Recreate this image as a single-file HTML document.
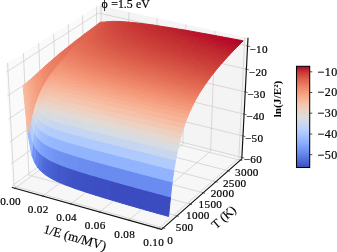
<!DOCTYPE html>
<html><head><meta charset="utf-8"><title>plot</title><style>html,body{margin:0;padding:0;background:#fff}svg{display:block}</style></head><body>
<svg width="337" height="252" viewBox="0 0 337 252" font-family="'Liberation Serif', serif" fill="#000">
<rect width="337" height="252" fill="#fff"/>
<path d="M12.2 187.5L99.7 122.8L98.2 5.3L5.6 64.2Z" fill="#fafafa"/>
<path d="M99.7 122.8L241.8 158.9L248 38.1L98.2 5.3Z" fill="#f4f4f4"/>
<path d="M12.2 187.5L161.6 229.4L241.8 158.9L99.7 122.8Z" fill="#f7f7f7"/>
<path d="M15.1 188.3L102.4 123.5L101 5.9M42.8 196.1L128.8 130.2L128.8 12M71 204L155.7 137L157.1 18.2M99.6 212L182.9 144L185.9 24.5M128.8 220.2L210.6 151L215.1 30.9M158.5 228.6L238.8 158.2L244.8 37.4M163.3 227.9L14.1 186.1L7.6 62.9M177 215.9L28.9 175.1L23.4 52.9M190.3 204.2L43.4 164.4L38.7 43.1M203.2 192.8L57.6 154L53.7 33.6M215.9 181.7L71.4 143.8L68.3 24.3M228.2 170.8L84.9 133.8L82.5 15.2M240.3 160.2L98.1 124L96.4 6.4M12.2 185.9L99.7 121.3L241.8 157.4M11 164.1L99.4 100.5L242.9 136M9.8 141.9L99.1 79.2L244.1 114.2M8.6 119.2L98.8 57.6L245.2 91.9M7.3 96L98.6 35.5L246.4 69.2M6 72.3L98.3 13L247.6 46.1" fill="none" stroke="#cccccc" stroke-width="0.7"/>
<g fill="currentColor" stroke="currentColor" stroke-width="1" stroke-linejoin="round"><path color="#da5a49" d="M99.4 23.1L102.1 23.3L103.6 22.2L100.9 22Z"/><path color="#d85646" d="M102.1 23.3L104.8 23L106.3 21.8L103.6 22.2Z"/><path color="#da5a49" d="M97.9 24.2L100.7 24.5L102.1 23.3L99.4 23.1Z"/><path color="#d85646" d="M100.7 24.5L103.4 24.2L104.8 23L102.1 23.3Z"/><path color="#d65244" d="M104.8 23L107.6 22.8L109 21.6L106.3 21.8Z"/><path color="#da5a49" d="M96.5 25.3L99.2 25.7L100.7 24.5L97.9 24.2Z"/><path color="#d44e41" d="M107.6 22.8L110.3 22.7L111.8 21.4L109 21.6Z"/><path color="#d95847" d="M99.2 25.7L101.9 25.4L103.4 24.2L100.7 24.5Z"/><path color="#d65244" d="M103.4 24.2L106.1 24L107.6 22.8L104.8 23Z"/><path color="#dc5d4a" d="M95 26.4L97.7 26.9L99.2 25.7L96.5 25.3Z"/><path color="#d1493f" d="M110.3 22.7L113 22.6L114.5 21.4L111.8 21.4Z"/><path color="#d44e41" d="M106.1 24L108.8 23.9L110.3 22.7L107.6 22.8Z"/><path color="#d95847" d="M97.7 26.9L100.4 26.6L101.9 25.4L99.2 25.7Z"/><path color="#d75445" d="M101.9 25.4L104.6 25.2L106.1 24L103.4 24.2Z"/><path color="#dc5d4a" d="M93.5 27.4L96.2 28.1L97.7 26.9L95 26.4Z"/><path color="#d0473d" d="M113 22.6L115.8 22.7L117.2 21.5L114.5 21.4Z"/><path color="#d24b40" d="M108.8 23.9L111.6 23.9L113 22.6L110.3 22.7Z"/><path color="#d55042" d="M104.6 25.2L107.4 25.1L108.8 23.9L106.1 24Z"/><path color="#d75445" d="M100.4 26.6L103.2 26.5L104.6 25.2L101.9 25.4Z"/><path color="#da5a49" d="M96.2 28.1L98.9 27.9L100.4 26.6L97.7 26.9Z"/><path color="#dc5d4a" d="M92 28.6L94.7 29.3L96.2 28.1L93.5 27.4Z"/><path color="#cd423b" d="M115.8 22.7L118.5 22.8L120 21.5L117.2 21.5Z"/><path color="#d0473d" d="M111.6 23.9L114.3 23.9L115.8 22.7L113 22.6Z"/><path color="#d24b40" d="M107.4 25.1L110.1 25.1L111.6 23.9L108.8 23.9Z"/><path color="#d65244" d="M103.2 26.5L105.9 26.4L107.4 25.1L104.6 25.2Z"/><path color="#d85646" d="M98.9 27.9L101.7 27.7L103.2 26.5L100.4 26.6Z"/><path color="#dc5d4a" d="M94.7 29.3L97.5 29.1L98.9 27.9L96.2 28.1Z"/><path color="#dd5f4b" d="M90.5 29.7L93.3 30.5L94.7 29.3L92 28.6Z"/><path color="#cc403a" d="M118.5 22.8L121.3 22.9L122.7 21.7L120 21.5Z"/><path color="#cf453c" d="M114.3 23.9L117.1 24L118.5 22.8L115.8 22.7Z"/><path color="#d1493f" d="M110.1 25.1L112.9 25.2L114.3 23.9L111.6 23.9Z"/><path color="#d44e41" d="M105.9 26.4L108.6 26.4L110.1 25.1L107.4 25.1Z"/><path color="#d65244" d="M101.7 27.7L104.4 27.6L105.9 26.4L103.2 26.5Z"/><path color="#d95847" d="M97.5 29.1L100.2 29L101.7 27.7L98.9 27.9Z"/><path color="#dc5d4a" d="M93.3 30.5L96 30.4L97.5 29.1L94.7 29.3Z"/><path color="#dd5f4b" d="M89 30.8L91.8 31.8L93.3 30.5L90.5 29.7Z"/><path color="#cb3e38" d="M121.3 22.9L124.1 23.1L125.5 21.9L122.7 21.7Z"/><path color="#cd423b" d="M117.1 24L119.8 24.2L121.3 22.9L118.5 22.8Z"/><path color="#d0473d" d="M112.9 25.2L115.6 25.3L117.1 24L114.3 23.9Z"/><path color="#d24b40" d="M108.6 26.4L111.4 26.4L112.9 25.2L110.1 25.1Z"/><path color="#d55042" d="M104.4 27.6L107.2 27.7L108.6 26.4L105.9 26.4Z"/><path color="#d75445" d="M100.2 29L102.9 28.9L104.4 27.6L101.7 27.7Z"/><path color="#d95847" d="M96 30.4L98.7 30.3L100.2 29L97.5 29.1Z"/><path color="#dd5f4b" d="M91.8 31.8L94.5 31.7L96 30.4L93.3 30.5Z"/><path color="#de614d" d="M87.5 31.9L90.3 33L91.8 31.8L89 30.8Z"/><path color="#ca3b37" d="M124.1 23.1L126.8 23.4L128.3 22.1L125.5 21.9Z"/><path color="#cc403a" d="M119.8 24.2L122.6 24.4L124.1 23.1L121.3 22.9Z"/><path color="#cf453c" d="M115.6 25.3L118.4 25.5L119.8 24.2L117.1 24Z"/><path color="#d0473d" d="M111.4 26.4L114.1 26.6L115.6 25.3L112.9 25.2Z"/><path color="#d24b40" d="M107.2 27.7L109.9 27.7L111.4 26.4L108.6 26.4Z"/><path color="#d55042" d="M102.9 28.9L105.7 29L107.2 27.7L104.4 27.6Z"/><path color="#d85646" d="M98.7 30.3L101.5 30.2L102.9 28.9L100.2 29Z"/><path color="#da5a49" d="M94.5 31.7L97.2 31.6L98.7 30.3L96 30.4Z"/><path color="#dd5f4b" d="M90.3 33L93 33L94.5 31.7L91.8 31.8Z"/><path color="#c83836" d="M126.8 23.4L129.6 23.6L131 22.4L128.3 22.1Z"/><path color="#de614d" d="M86 33L88.8 34.3L90.3 33L87.5 31.9Z"/><path color="#cb3e38" d="M122.6 24.4L125.4 24.6L126.8 23.4L124.1 23.1Z"/><path color="#cd423b" d="M118.4 25.5L121.1 25.7L122.6 24.4L119.8 24.2Z"/><path color="#cf453c" d="M114.1 26.6L116.9 26.8L118.4 25.5L115.6 25.3Z"/><path color="#d1493f" d="M109.9 27.7L112.7 27.9L114.1 26.6L111.4 26.4Z"/><path color="#d44e41" d="M105.7 29L108.4 29L109.9 27.7L107.2 27.7Z"/><path color="#d65244" d="M101.5 30.2L104.2 30.3L105.7 29L102.9 28.9Z"/><path color="#d85646" d="M97.2 31.6L100 31.5L101.5 30.2L98.7 30.3Z"/><path color="#dc5d4a" d="M93 33L95.7 32.9L97.2 31.6L94.5 31.7Z"/><path color="#c83836" d="M129.6 23.6L132.4 23.9L133.8 22.6L131 22.4Z"/><path color="#de614d" d="M88.8 34.3L91.5 34.3L93 33L90.3 33Z"/><path color="#ca3b37" d="M125.4 24.6L128.1 24.9L129.6 23.6L126.8 23.4Z"/><path color="#cc403a" d="M121.1 25.7L123.9 25.9L125.4 24.6L122.6 24.4Z"/><path color="#de614d" d="M84.5 34.1L87.3 35.6L88.8 34.3L86 33Z"/><path color="#cd423b" d="M116.9 26.8L119.7 27L121.1 25.7L118.4 25.5Z"/><path color="#d0473d" d="M112.7 27.9L115.4 28L116.9 26.8L114.1 26.6Z"/><path color="#d24b40" d="M108.4 29L111.2 29.2L112.7 27.9L109.9 27.7Z"/><path color="#c73635" d="M132.4 23.9L135.2 24.2L136.6 23L133.8 22.6Z"/><path color="#d55042" d="M104.2 30.3L107 30.3L108.4 29L105.7 29Z"/><path color="#d75445" d="M100 31.5L102.7 31.6L104.2 30.3L101.5 30.2Z"/><path color="#d95847" d="M95.7 32.9L98.5 32.9L100 31.5L97.2 31.6Z"/><path color="#dd5f4b" d="M91.5 34.3L94.2 34.2L95.7 32.9L93 33Z"/><path color="#c83836" d="M128.1 24.9L130.9 25.2L132.4 23.9L129.6 23.6Z"/><path color="#df634e" d="M87.3 35.6L90 35.6L91.5 34.3L88.8 34.3Z"/><path color="#cb3e38" d="M123.9 25.9L126.7 26.2L128.1 24.9L125.4 24.6Z"/><path color="#cc403a" d="M119.7 27L122.5 27.2L123.9 25.9L121.1 25.7Z"/><path color="#df634e" d="M83 35.3L85.8 36.8L87.3 35.6L84.5 34.1Z"/><path color="#cf453c" d="M115.4 28L118.2 28.2L119.7 27L116.9 26.8Z"/><path color="#d1493f" d="M111.2 29.2L114 29.3L115.4 28L112.7 27.9Z"/><path color="#c53334" d="M135.2 24.2L138 24.5L139.4 23.3L136.6 23Z"/><path color="#d44e41" d="M107 30.3L109.7 30.5L111.2 29.2L108.4 29Z"/><path color="#d65244" d="M102.7 31.6L105.5 31.7L107 30.3L104.2 30.3Z"/><path color="#c73635" d="M130.9 25.2L133.7 25.5L135.2 24.2L132.4 23.9Z"/><path color="#d85646" d="M98.5 32.9L101.2 32.9L102.7 31.6L100 31.5Z"/><path color="#da5a49" d="M94.2 34.2L97 34.2L98.5 32.9L95.7 32.9Z"/><path color="#dd5f4b" d="M90 35.6L92.8 35.5L94.2 34.2L91.5 34.3Z"/><path color="#ca3b37" d="M126.7 26.2L129.5 26.5L130.9 25.2L128.1 24.9Z"/><path color="#e0654f" d="M85.8 36.8L88.5 36.9L90 35.6L87.3 35.6Z"/><path color="#cb3e38" d="M122.5 27.2L125.2 27.5L126.7 26.2L123.9 25.9Z"/><path color="#cd423b" d="M118.2 28.2L121 28.5L122.5 27.2L119.7 27Z"/><path color="#df634e" d="M81.5 36.4L84.3 38.2L85.8 36.8L83 35.3Z"/><path color="#c43032" d="M138 24.5L140.7 24.9L142.2 23.6L139.4 23.3Z"/><path color="#d0473d" d="M114 29.3L116.7 29.6L118.2 28.2L115.4 28Z"/><path color="#d24b40" d="M109.7 30.5L112.5 30.7L114 29.3L111.2 29.2Z"/><path color="#c73635" d="M133.7 25.5L136.5 25.8L138 24.5L135.2 24.2Z"/><path color="#d44e41" d="M105.5 31.7L108.2 31.8L109.7 30.5L107 30.3Z"/><path color="#d65244" d="M101.2 32.9L104 33L105.5 31.7L102.7 31.6Z"/><path color="#c83836" d="M129.5 26.5L132.3 26.8L133.7 25.5L130.9 25.2Z"/><path color="#d95847" d="M97 34.2L99.7 34.2L101.2 32.9L98.5 32.9Z"/><path color="#dc5d4a" d="M92.8 35.5L95.5 35.5L97 34.2L94.2 34.2Z"/><path color="#de614d" d="M88.5 36.9L91.3 36.9L92.8 35.5L90 35.6Z"/><path color="#cb3e38" d="M125.2 27.5L128 27.8L129.5 26.5L126.7 26.2Z"/><path color="#e0654f" d="M84.3 38.2L87 38.2L88.5 36.9L85.8 36.8Z"/><path color="#cc403a" d="M121 28.5L123.8 28.8L125.2 27.5L122.5 27.2Z"/><path color="#c43032" d="M140.7 24.9L143.6 25.2L145 24L142.2 23.6Z"/><path color="#cf453c" d="M116.7 29.6L119.5 29.8L121 28.5L118.2 28.2Z"/><path color="#e0654f" d="M80 37.6L82.8 39.5L84.3 38.2L81.5 36.4Z"/><path color="#c53334" d="M136.5 25.8L139.3 26.2L140.7 24.9L138 24.5Z"/><path color="#d1493f" d="M112.5 30.7L115.3 30.9L116.7 29.6L114 29.3Z"/><path color="#d24b40" d="M108.2 31.8L111 32L112.5 30.7L109.7 30.5Z"/><path color="#c73635" d="M132.3 26.8L135.1 27.1L136.5 25.8L133.7 25.5Z"/><path color="#d55042" d="M104 33L106.8 33.2L108.2 31.8L105.5 31.7Z"/><path color="#d75445" d="M99.7 34.2L102.5 34.4L104 33L101.2 32.9Z"/><path color="#ca3b37" d="M128 27.8L130.8 28.1L132.3 26.8L129.5 26.5Z"/><path color="#d95847" d="M95.5 35.5L98.3 35.6L99.7 34.2L97 34.2Z"/><path color="#dd5f4b" d="M91.3 36.9L94 36.9L95.5 35.5L92.8 35.5Z"/><path color="#df634e" d="M87 38.2L89.7 38.3L91.3 36.9L88.5 36.9Z"/><path color="#cb3e38" d="M123.8 28.8L126.6 29.1L128 27.8L125.2 27.5Z"/><path color="#e16751" d="M82.8 39.5L85.5 39.6L87 38.2L84.3 38.2Z"/><path color="#c32e31" d="M143.6 25.2L146.4 25.6L147.8 24.3L145 24Z"/><path color="#cd423b" d="M119.5 29.8L122.3 30.1L123.8 28.8L121 28.5Z"/><path color="#c43032" d="M139.3 26.2L142.1 26.5L143.6 25.2L140.7 24.9Z"/><path color="#d0473d" d="M115.3 30.9L118 31.1L119.5 29.8L116.7 29.6Z"/><path color="#d1493f" d="M111 32L113.8 32.2L115.3 30.9L112.5 30.7Z"/><path color="#e0654f" d="M78.5 38.8L81.2 40.8L82.8 39.5L80 37.6Z"/><path color="#c73635" d="M135.1 27.1L137.9 27.5L139.3 26.2L136.5 25.8Z"/><path color="#d44e41" d="M106.8 33.2L109.5 33.4L111 32L108.2 31.8Z"/><path color="#c83836" d="M130.8 28.1L133.6 28.4L135.1 27.1L132.3 26.8Z"/><path color="#d65244" d="M102.5 34.4L105.3 34.5L106.8 33.2L104 33Z"/><path color="#d85646" d="M98.3 35.6L101 35.7L102.5 34.4L99.7 34.2Z"/><path color="#cb3e38" d="M126.6 29.1L129.3 29.4L130.8 28.1L128 27.8Z"/><path color="#da5a49" d="M94 36.9L96.8 37L98.3 35.6L95.5 35.5Z"/><path color="#c32e31" d="M146.4 25.6L149.2 26L150.6 24.7L147.8 24.3Z"/><path color="#de614d" d="M89.7 38.3L92.5 38.3L94 36.9L91.3 36.9Z"/><path color="#e0654f" d="M85.5 39.6L88.2 39.7L89.7 38.3L87 38.2Z"/><path color="#cc403a" d="M122.3 30.1L125.1 30.4L126.6 29.1L123.8 28.8Z"/><path color="#e26952" d="M81.2 40.8L84 41L85.5 39.6L82.8 39.5Z"/><path color="#c43032" d="M142.1 26.5L144.9 26.9L146.4 25.6L143.6 25.2Z"/><path color="#cf453c" d="M118 31.1L120.8 31.4L122.3 30.1L119.5 29.8Z"/><path color="#c53334" d="M137.9 27.5L140.7 27.8L142.1 26.5L139.3 26.2Z"/><path color="#d0473d" d="M113.8 32.2L116.6 32.5L118 31.1L115.3 30.9Z"/><path color="#d24b40" d="M109.5 33.4L112.3 33.6L113.8 32.2L111 32Z"/><path color="#c83836" d="M133.6 28.4L136.4 28.8L137.9 27.5L135.1 27.1Z"/><path color="#e16751" d="M76.9 39.9L79.7 42.2L81.2 40.8L78.5 38.8Z"/><path color="#d55042" d="M105.3 34.5L108.1 34.7L109.5 33.4L106.8 33.2Z"/><path color="#c12b30" d="M149.2 26L152 26.4L153.4 25.1L150.6 24.7Z"/><path color="#ca3b37" d="M129.3 29.4L132.1 29.7L133.6 28.4L130.8 28.1Z"/><path color="#d75445" d="M101 35.7L103.8 35.9L105.3 34.5L102.5 34.4Z"/><path color="#d95847" d="M96.8 37L99.5 37.1L101 35.7L98.3 35.6Z"/><path color="#dc5d4a" d="M92.5 38.3L95.3 38.4L96.8 37L94 36.9Z"/><path color="#cb3e38" d="M125.1 30.4L127.9 30.7L129.3 29.4L126.6 29.1Z"/><path color="#de614d" d="M88.2 39.7L91 39.7L92.5 38.3L89.7 38.3Z"/><path color="#c32e31" d="M144.9 26.9L147.7 27.3L149.2 26L146.4 25.6Z"/><path color="#e16751" d="M84 41L86.7 41.1L88.2 39.7L85.5 39.6Z"/><path color="#e36b54" d="M79.7 42.2L82.5 42.4L84 41L81.2 40.8Z"/><path color="#cd423b" d="M120.8 31.4L123.6 31.7L125.1 30.4L122.3 30.1Z"/><path color="#c53334" d="M140.7 27.8L143.5 28.2L144.9 26.9L142.1 26.5Z"/><path color="#d0473d" d="M116.6 32.5L119.4 32.8L120.8 31.4L118 31.1Z"/><path color="#c73635" d="M136.4 28.8L139.2 29.1L140.7 27.8L137.9 27.5Z"/><path color="#d1493f" d="M112.3 33.6L115.1 33.9L116.6 32.5L113.8 32.2Z"/><path color="#d44e41" d="M108.1 34.7L110.8 35L112.3 33.6L109.5 33.4Z"/><path color="#c12b30" d="M152 26.4L154.8 26.8L156.2 25.5L153.4 25.1Z"/><path color="#c83836" d="M132.1 29.7L134.9 30.1L136.4 28.8L133.6 28.4Z"/><path color="#e16751" d="M75.4 41.1L78.2 43.5L79.7 42.2L76.9 39.9Z"/><path color="#d65244" d="M103.8 35.9L106.6 36.1L108.1 34.7L105.3 34.5Z"/><path color="#d85646" d="M99.5 37.1L102.3 37.3L103.8 35.9L101 35.7Z"/><path color="#cb3e38" d="M127.9 30.7L130.7 31.1L132.1 29.7L129.3 29.4Z"/><path color="#c32e31" d="M147.7 27.3L150.5 27.7L152 26.4L149.2 26Z"/><path color="#da5a49" d="M95.3 38.4L98 38.6L99.5 37.1L96.8 37Z"/><path color="#dd5f4b" d="M91 39.7L93.8 39.8L95.3 38.4L92.5 38.3Z"/><path color="#cc403a" d="M123.6 31.7L126.4 32.1L127.9 30.7L125.1 30.4Z"/><path color="#df634e" d="M86.7 41.1L89.5 41.1L91 39.7L88.2 39.7Z"/><path color="#c43032" d="M143.5 28.2L146.3 28.6L147.7 27.3L144.9 26.9Z"/><path color="#e26952" d="M82.5 42.4L85.2 42.5L86.7 41.1L84 41Z"/><path color="#e36c55" d="M78.2 43.5L81 43.8L82.5 42.4L79.7 42.2Z"/><path color="#cf453c" d="M119.4 32.8L122.2 33.1L123.6 31.7L120.8 31.4Z"/><path color="#c53334" d="M139.2 29.1L142 29.5L143.5 28.2L140.7 27.8Z"/><path color="#d0473d" d="M115.1 33.9L117.9 34.2L119.4 32.8L116.6 32.5Z"/><path color="#c0282f" d="M154.8 26.8L157.6 27.2L159.1 26L156.2 25.5Z"/><path color="#c83836" d="M134.9 30.1L137.8 30.5L139.2 29.1L136.4 28.8Z"/><path color="#d24b40" d="M110.8 35L113.6 35.2L115.1 33.9L112.3 33.6Z"/><path color="#d55042" d="M106.6 36.1L109.3 36.4L110.8 35L108.1 34.7Z"/><path color="#c12b30" d="M150.5 27.7L153.4 28.1L154.8 26.8L152 26.4Z"/><path color="#ca3b37" d="M130.7 31.1L133.5 31.4L134.9 30.1L132.1 29.7Z"/><path color="#d75445" d="M102.3 37.3L105.1 37.5L106.6 36.1L103.8 35.9Z"/><path color="#e26952" d="M73.9 42.3L76.7 44.9L78.2 43.5L75.4 41.1Z"/><path color="#d95847" d="M98 38.6L100.8 38.7L102.3 37.3L99.5 37.1Z"/><path color="#cc403a" d="M126.4 32.1L129.2 32.4L130.7 31.1L127.9 30.7Z"/><path color="#c32e31" d="M146.3 28.6L149.1 29L150.5 27.7L147.7 27.3Z"/><path color="#dc5d4a" d="M93.8 39.8L96.5 40L98 38.6L95.3 38.4Z"/><path color="#de614d" d="M89.5 41.1L92.3 41.3L93.8 39.8L91 39.7Z"/><path color="#e0654f" d="M85.2 42.5L88 42.6L89.5 41.1L86.7 41.1Z"/><path color="#cd423b" d="M122.2 33.1L125 33.4L126.4 32.1L123.6 31.7Z"/><path color="#e36b54" d="M81 43.8L83.7 44L85.2 42.5L82.5 42.4Z"/><path color="#c53334" d="M142 29.5L144.8 29.9L146.3 28.6L143.5 28.2Z"/><path color="#e46e56" d="M76.7 44.9L79.4 45.3L81 43.8L78.2 43.5Z"/><path color="#d0473d" d="M117.9 34.2L120.7 34.5L122.2 33.1L119.4 32.8Z"/><path color="#c0282f" d="M157.6 27.2L160.5 27.7L161.9 26.4L159.1 26Z"/><path color="#c73635" d="M137.8 30.5L140.6 30.9L142 29.5L139.2 29.1Z"/><path color="#d1493f" d="M113.6 35.2L116.4 35.5L117.9 34.2L115.1 33.9Z"/><path color="#c12b30" d="M153.4 28.1L156.2 28.6L157.6 27.2L154.8 26.8Z"/><path color="#d44e41" d="M109.3 36.4L112.1 36.6L113.6 35.2L110.8 35Z"/><path color="#c83836" d="M133.5 31.4L136.3 31.8L137.8 30.5L134.9 30.1Z"/><path color="#d65244" d="M105.1 37.5L107.9 37.8L109.3 36.4L106.6 36.1Z"/><path color="#cb3e38" d="M129.2 32.4L132 32.8L133.5 31.4L130.7 31.1Z"/><path color="#c32e31" d="M149.1 29L151.9 29.4L153.4 28.1L150.5 27.7Z"/><path color="#d85646" d="M100.8 38.7L103.6 38.9L105.1 37.5L102.3 37.3Z"/><path color="#e26952" d="M72.3 43.5L75.2 46.3L76.7 44.9L73.9 42.3Z"/><path color="#da5a49" d="M96.5 40L99.3 40.2L100.8 38.7L98 38.6Z"/><path color="#cc403a" d="M125 33.4L127.8 33.8L129.2 32.4L126.4 32.1Z"/><path color="#dd5f4b" d="M92.3 41.3L95 41.4L96.5 40L93.8 39.8Z"/><path color="#c43032" d="M144.8 29.9L147.7 30.3L149.1 29L146.3 28.6Z"/><path color="#df634e" d="M88 42.6L90.7 42.7L92.3 41.3L89.5 41.1Z"/><path color="#e16751" d="M83.7 44L86.5 44.1L88 42.6L85.2 42.5Z"/><path color="#cf453c" d="M120.7 34.5L123.5 34.8L125 33.4L122.2 33.1Z"/><path color="#be242e" d="M160.5 27.7L163.3 28.1L164.7 26.9L161.9 26.4Z"/><path color="#e36c55" d="M79.4 45.3L82.2 45.4L83.7 44L81 43.8Z"/><path color="#c73635" d="M140.6 30.9L143.4 31.3L144.8 29.9L142 29.5Z"/><path color="#e57058" d="M75.2 46.3L77.9 46.8L79.4 45.3L76.7 44.9Z"/><path color="#d1493f" d="M116.4 35.5L119.2 35.9L120.7 34.5L117.9 34.2Z"/><path color="#c0282f" d="M156.2 28.6L159 29L160.5 27.7L157.6 27.2Z"/><path color="#c83836" d="M136.3 31.8L139.1 32.2L140.6 30.9L137.8 30.5Z"/><path color="#d24b40" d="M112.1 36.6L114.9 36.9L116.4 35.5L113.6 35.2Z"/><path color="#d55042" d="M107.9 37.8L110.6 38.1L112.1 36.6L109.3 36.4Z"/><path color="#c32e31" d="M151.9 29.4L154.8 29.9L156.2 28.6L153.4 28.1Z"/><path color="#ca3b37" d="M132 32.8L134.8 33.2L136.3 31.8L133.5 31.4Z"/><path color="#d75445" d="M103.6 38.9L106.4 39.2L107.9 37.8L105.1 37.5Z"/><path color="#cc403a" d="M127.8 33.8L130.6 34.1L132 32.8L129.2 32.4Z"/><path color="#d95847" d="M99.3 40.2L102.1 40.4L103.6 38.9L100.8 38.7Z"/><path color="#c43032" d="M147.7 30.3L150.5 30.7L151.9 29.4L149.1 29Z"/><path color="#dc5d4a" d="M95 41.4L97.8 41.6L99.3 40.2L96.5 40Z"/><path color="#e36b54" d="M70.8 44.7L73.6 47.8L75.2 46.3L72.3 43.5Z"/><path color="#be242e" d="M163.3 28.1L166.1 28.6L167.6 27.3L164.7 26.9Z"/><path color="#de614d" d="M90.7 42.7L93.5 42.9L95 41.4L92.3 41.3Z"/><path color="#cd423b" d="M123.5 34.8L126.3 35.1L127.8 33.8L125 33.4Z"/><path color="#e0654f" d="M86.5 44.1L89.2 44.2L90.7 42.7L88 42.6Z"/><path color="#c53334" d="M143.4 31.3L146.2 31.7L147.7 30.3L144.8 29.9Z"/><path color="#e36b54" d="M82.2 45.4L85 45.6L86.5 44.1L83.7 44Z"/><path color="#e46e56" d="M77.9 46.8L80.7 46.9L82.2 45.4L79.4 45.3Z"/><path color="#d0473d" d="M119.2 35.9L122 36.2L123.5 34.8L120.7 34.5Z"/><path color="#c0282f" d="M159 29L161.9 29.4L163.3 28.1L160.5 27.7Z"/><path color="#e67259" d="M73.6 47.8L76.4 48.2L77.9 46.8L75.2 46.3Z"/><path color="#c73635" d="M139.1 32.2L141.9 32.6L143.4 31.3L140.6 30.9Z"/><path color="#d24b40" d="M114.9 36.9L117.7 37.3L119.2 35.9L116.4 35.5Z"/><path color="#c12b30" d="M154.8 29.9L157.6 30.3L159 29L156.2 28.6Z"/><path color="#d44e41" d="M110.6 38.1L113.4 38.4L114.9 36.9L112.1 36.6Z"/><path color="#ca3b37" d="M134.8 33.2L137.7 33.5L139.1 32.2L136.3 31.8Z"/><path color="#d65244" d="M106.4 39.2L109.2 39.5L110.6 38.1L107.9 37.8Z"/><path color="#cb3e38" d="M130.6 34.1L133.4 34.5L134.8 33.2L132 32.8Z"/><path color="#c32e31" d="M150.5 30.7L153.3 31.2L154.8 29.9L151.9 29.4Z"/><path color="#d85646" d="M102.1 40.4L104.9 40.7L106.4 39.2L103.6 38.9Z"/><path color="#bd1f2d" d="M166.1 28.6L169 29L170.4 27.8L167.6 27.3Z"/><path color="#da5a49" d="M97.8 41.6L100.6 41.9L102.1 40.4L99.3 40.2Z"/><path color="#cd423b" d="M126.3 35.1L129.1 35.5L130.6 34.1L127.8 33.8Z"/><path color="#c53334" d="M146.2 31.7L149 32.1L150.5 30.7L147.7 30.3Z"/><path color="#dd5f4b" d="M93.5 42.9L96.3 43.1L97.8 41.6L95 41.4Z"/><path color="#df634e" d="M89.2 44.2L92 44.4L93.5 42.9L90.7 42.7Z"/><path color="#e36c55" d="M69.3 45.9L72.1 49.2L73.6 47.8L70.8 44.7Z"/><path color="#be242e" d="M161.9 29.4L164.7 29.9L166.1 28.6L163.3 28.1Z"/><path color="#cf453c" d="M122 36.2L124.8 36.5L126.3 35.1L123.5 34.8Z"/><path color="#e16751" d="M85 45.6L87.7 45.7L89.2 44.2L86.5 44.1Z"/><path color="#e36c55" d="M80.7 46.9L83.4 47.1L85 45.6L82.2 45.4Z"/><path color="#c73635" d="M141.9 32.6L144.8 33L146.2 31.7L143.4 31.3Z"/><path color="#e57058" d="M76.4 48.2L79.1 48.5L80.7 46.9L77.9 46.8Z"/><path color="#d1493f" d="M117.7 37.3L120.5 37.6L122 36.2L119.2 35.9Z"/><path color="#c12b30" d="M157.6 30.3L160.4 30.7L161.9 29.4L159 29Z"/><path color="#e7745b" d="M72.1 49.2L74.9 49.8L76.4 48.2L73.6 47.8Z"/><path color="#c83836" d="M137.7 33.5L140.5 33.9L141.9 32.6L139.1 32.2Z"/><path color="#d24b40" d="M113.4 38.4L116.2 38.7L117.7 37.3L114.9 36.9Z"/><path color="#d55042" d="M109.2 39.5L111.9 39.8L113.4 38.4L110.6 38.1Z"/><path color="#c32e31" d="M153.3 31.2L156.2 31.6L157.6 30.3L154.8 29.9Z"/><path color="#cb3e38" d="M133.4 34.5L136.2 34.9L137.7 33.5L134.8 33.2Z"/><path color="#bd1f2d" d="M169 29L171.8 29.5L173.3 28.2L170.4 27.8Z"/><path color="#d75445" d="M104.9 40.7L107.7 41L109.2 39.5L106.4 39.2Z"/><path color="#cc403a" d="M129.1 35.5L131.9 35.9L133.4 34.5L130.6 34.1Z"/><path color="#c43032" d="M149 32.1L151.9 32.5L153.3 31.2L150.5 30.7Z"/><path color="#d95847" d="M100.6 41.9L103.4 42.1L104.9 40.7L102.1 40.4Z"/><path color="#dc5d4a" d="M96.3 43.1L99.1 43.4L100.6 41.9L97.8 41.6Z"/><path color="#be242e" d="M164.7 29.9L167.6 30.4L169 29L166.1 28.6Z"/><path color="#cf453c" d="M124.8 36.5L127.6 36.9L129.1 35.5L126.3 35.1Z"/><path color="#de614d" d="M92 44.4L94.8 44.6L96.3 43.1L93.5 42.9Z"/><path color="#c53334" d="M144.8 33L147.6 33.4L149 32.1L146.2 31.7Z"/><path color="#e0654f" d="M87.7 45.7L90.5 45.9L92 44.4L89.2 44.2Z"/><path color="#e36b54" d="M83.4 47.1L86.2 47.3L87.7 45.7L85 45.6Z"/><path color="#e36c55" d="M67.7 47.1L70.6 50.7L72.1 49.2L69.3 45.9Z"/><path color="#d0473d" d="M120.5 37.6L123.3 38L124.8 36.5L122 36.2Z"/><path color="#e46e56" d="M79.1 48.5L81.9 48.7L83.4 47.1L80.7 46.9Z"/><path color="#c0282f" d="M160.4 30.7L163.3 31.2L164.7 29.9L161.9 29.4Z"/><path color="#e67259" d="M74.9 49.8L77.6 50L79.1 48.5L76.4 48.2Z"/><path color="#c83836" d="M140.5 33.9L143.3 34.4L144.8 33L141.9 32.6Z"/><path color="#d24b40" d="M116.2 38.7L119 39L120.5 37.6L117.7 37.3Z"/><path color="#e8765c" d="M70.6 50.7L73.3 51.3L74.9 49.8L72.1 49.2Z"/><path color="#c12b30" d="M156.2 31.6L159 32.1L160.4 30.7L157.6 30.3Z"/><path color="#ca3b37" d="M136.2 34.9L139 35.3L140.5 33.9L137.7 33.5Z"/><path color="#d44e41" d="M111.9 39.8L114.7 40.1L116.2 38.7L113.4 38.4Z"/><path color="#bd1f2d" d="M171.8 29.5L174.7 30L176.1 28.7L173.3 28.2Z"/><path color="#d65244" d="M107.7 41L110.5 41.3L111.9 39.8L109.2 39.5Z"/><path color="#c43032" d="M151.9 32.5L154.7 33L156.2 31.6L153.3 31.2Z"/><path color="#cb3e38" d="M131.9 35.9L134.7 36.3L136.2 34.9L133.4 34.5Z"/><path color="#d85646" d="M103.4 42.1L106.2 42.4L107.7 41L104.9 40.7Z"/><path color="#be242e" d="M167.6 30.4L170.4 30.8L171.8 29.5L169 29Z"/><path color="#da5a49" d="M99.1 43.4L101.9 43.6L103.4 42.1L100.6 41.9Z"/><path color="#cd423b" d="M127.6 36.9L130.4 37.3L131.9 35.9L129.1 35.5Z"/><path color="#c53334" d="M147.6 33.4L150.4 33.9L151.9 32.5L149 32.1Z"/><path color="#dd5f4b" d="M94.8 44.6L97.6 44.9L99.1 43.4L96.3 43.1Z"/><path color="#df634e" d="M90.5 45.9L93.3 46.2L94.8 44.6L92 44.4Z"/><path color="#c0282f" d="M163.3 31.2L166.1 31.7L167.6 30.4L164.7 29.9Z"/><path color="#cf453c" d="M123.3 38L126.1 38.3L127.6 36.9L124.8 36.5Z"/><path color="#e26952" d="M86.2 47.3L89 47.5L90.5 45.9L87.7 45.7Z"/><path color="#c73635" d="M143.3 34.4L146.1 34.8L147.6 33.4L144.8 33Z"/><path color="#e36c55" d="M81.9 48.7L84.7 48.9L86.2 47.3L83.4 47.1Z"/><path color="#e57058" d="M77.6 50L80.4 50.2L81.9 48.7L79.1 48.5Z"/><path color="#d1493f" d="M119 39L121.9 39.4L123.3 38L120.5 37.6Z"/><path color="#e7745b" d="M73.3 51.3L76.1 51.6L77.6 50L74.9 49.8Z"/><path color="#e46e56" d="M66.2 48.4L69 52.2L70.6 50.7L67.7 47.1Z"/><path color="#c12b30" d="M159 32.1L161.8 32.5L163.3 31.2L160.4 30.7Z"/><path color="#c83836" d="M139 35.3L141.9 35.7L143.3 34.4L140.5 33.9Z"/><path color="#bb1b2c" d="M174.7 30L177.6 30.5L179 29.2L176.1 28.7Z"/><path color="#d44e41" d="M114.7 40.1L117.6 40.5L119 39L116.2 38.7Z"/><path color="#e9785d" d="M69 52.2L71.8 52.9L73.3 51.3L70.6 50.7Z"/><path color="#d65244" d="M110.5 41.3L113.3 41.6L114.7 40.1L111.9 39.8Z"/><path color="#c32e31" d="M154.7 33L157.6 33.4L159 32.1L156.2 31.6Z"/><path color="#cb3e38" d="M134.7 36.3L137.6 36.7L139 35.3L136.2 34.9Z"/><path color="#bd1f2d" d="M170.4 30.8L173.3 31.3L174.7 30L171.8 29.5Z"/><path color="#d75445" d="M106.2 42.4L109 42.8L110.5 41.3L107.7 41Z"/><path color="#cc403a" d="M130.4 37.3L133.3 37.7L134.7 36.3L131.9 35.9Z"/><path color="#c43032" d="M150.4 33.9L153.3 34.3L154.7 33L151.9 32.5Z"/><path color="#d95847" d="M101.9 43.6L104.7 43.9L106.2 42.4L103.4 42.1Z"/><path color="#dc5d4a" d="M97.6 44.9L100.4 45.2L101.9 43.6L99.1 43.4Z"/><path color="#be242e" d="M166.1 31.7L169 32.1L170.4 30.8L167.6 30.4Z"/><path color="#cf453c" d="M126.1 38.3L129 38.7L130.4 37.3L127.6 36.9Z"/><path color="#de614d" d="M93.3 46.2L96.1 46.4L97.6 44.9L94.8 44.6Z"/><path color="#c73635" d="M146.1 34.8L149 35.2L150.4 33.9L147.6 33.4Z"/><path color="#e16751" d="M89 47.5L91.8 47.7L93.3 46.2L90.5 45.9Z"/><path color="#e36b54" d="M84.7 48.9L87.5 49.1L89 47.5L86.2 47.3Z"/><path color="#d0473d" d="M121.9 39.4L124.7 39.8L126.1 38.3L123.3 38Z"/><path color="#c12b30" d="M161.8 32.5L164.7 33L166.1 31.7L163.3 31.2Z"/><path color="#e46e56" d="M80.4 50.2L83.2 50.5L84.7 48.9L81.9 48.7Z"/><path color="#e7745b" d="M76.1 51.6L78.9 51.9L80.4 50.2L77.6 50Z"/><path color="#bb1b2c" d="M177.6 30.5L180.4 30.9L181.8 29.6L179 29.2Z"/><path color="#c83836" d="M141.9 35.7L144.7 36.2L146.1 34.8L143.3 34.4Z"/><path color="#e9785d" d="M71.8 52.9L74.6 53.3L76.1 51.6L73.3 51.3Z"/><path color="#d24b40" d="M117.6 40.5L120.4 40.9L121.9 39.4L119 39Z"/><path color="#e57058" d="M64.6 49.6L67.5 53.7L69 52.2L66.2 48.4Z"/><path color="#c32e31" d="M157.6 33.4L160.4 33.9L161.8 32.5L159 32.1Z"/><path color="#e97a5f" d="M67.5 53.7L70.3 54.5L71.8 52.9L69 52.2Z"/><path color="#ca3b37" d="M137.6 36.7L140.4 37.2L141.9 35.7L139 35.3Z"/><path color="#d55042" d="M113.3 41.6L116.1 42L117.6 40.5L114.7 40.1Z"/><path color="#bd1f2d" d="M173.3 31.3L176.1 31.8L177.6 30.5L174.7 30Z"/><path color="#d75445" d="M109 42.8L111.8 43.1L113.3 41.6L110.5 41.3Z"/><path color="#c43032" d="M153.3 34.3L156.1 34.8L157.6 33.4L154.7 33Z"/><path color="#cc403a" d="M133.3 37.7L136.1 38.1L137.6 36.7L134.7 36.3Z"/><path color="#d85646" d="M104.7 43.9L107.5 44.3L109 42.8L106.2 42.4Z"/><path color="#be242e" d="M169 32.1L171.8 32.6L173.3 31.3L170.4 30.8Z"/><path color="#da5a49" d="M100.4 45.2L103.2 45.5L104.7 43.9L101.9 43.6Z"/><path color="#cd423b" d="M129 38.7L131.8 39.1L133.3 37.7L130.4 37.3Z"/><path color="#c53334" d="M149 35.2L151.8 35.7L153.3 34.3L150.4 33.9Z"/><path color="#dd5f4b" d="M96.1 46.4L98.9 46.7L100.4 45.2L97.6 44.9Z"/><path color="#e0654f" d="M91.8 47.7L94.5 48L96.1 46.4L93.3 46.2Z"/><path color="#c0282f" d="M164.7 33L167.6 33.5L169 32.1L166.1 31.7Z"/><path color="#d0473d" d="M124.7 39.8L127.5 40.2L129 38.7L126.1 38.3Z"/><path color="#e26952" d="M87.5 49.1L90.2 49.3L91.8 47.7L89 47.5Z"/><path color="#bb1b2c" d="M180.4 30.9L183.3 31.4L184.7 30.1L181.8 29.6Z"/><path color="#c83836" d="M144.7 36.2L147.5 36.6L149 35.2L146.1 34.8Z"/><path color="#e36c55" d="M83.2 50.5L85.9 50.7L87.5 49.1L84.7 48.9Z"/><path color="#e67259" d="M78.9 51.9L81.6 52.1L83.2 50.5L80.4 50.2Z"/><path color="#d1493f" d="M120.4 40.9L123.2 41.2L124.7 39.8L121.9 39.4Z"/><path color="#e8765c" d="M74.6 53.3L77.3 53.5L78.9 51.9L76.1 51.6Z"/><path color="#e97a5f" d="M70.3 54.5L73 54.9L74.6 53.3L71.8 52.9Z"/><path color="#c12b30" d="M160.4 33.9L163.3 34.4L164.7 33L161.8 32.5Z"/><path color="#ca3b37" d="M140.4 37.2L143.2 37.6L144.7 36.2L141.9 35.7Z"/><path color="#bd1f2d" d="M176.1 31.8L179 32.3L180.4 30.9L177.6 30.5Z"/><path color="#d44e41" d="M116.1 42L118.9 42.3L120.4 40.9L117.6 40.5Z"/><path color="#e57058" d="M63.1 50.9L65.9 55.3L67.5 53.7L64.6 49.6Z"/><path color="#eb7d62" d="M65.9 55.3L68.7 56.2L70.3 54.5L67.5 53.7Z"/><path color="#d65244" d="M111.8 43.1L114.6 43.5L116.1 42L113.3 41.6Z"/><path color="#c43032" d="M156.1 34.8L159 35.2L160.4 33.9L157.6 33.4Z"/><path color="#cb3e38" d="M136.1 38.1L138.9 38.5L140.4 37.2L137.6 36.7Z"/><path color="#be242e" d="M171.8 32.6L174.7 33.1L176.1 31.8L173.3 31.3Z"/><path color="#d85646" d="M107.5 44.3L110.3 44.6L111.8 43.1L109 42.8Z"/><path color="#cd423b" d="M131.8 39.1L134.6 39.6L136.1 38.1L133.3 37.7Z"/><path color="#c53334" d="M151.8 35.7L154.7 36.2L156.1 34.8L153.3 34.3Z"/><path color="#da5a49" d="M103.2 45.5L106 45.8L107.5 44.3L104.7 43.9Z"/><path color="#dd5f4b" d="M98.9 46.7L101.7 47.1L103.2 45.5L100.4 45.2Z"/><path color="#c0282f" d="M167.6 33.5L170.4 34L171.8 32.6L169 32.1Z"/><path color="#cf453c" d="M127.5 40.2L130.3 40.6L131.8 39.1L129 38.7Z"/><path color="#ba162b" d="M183.3 31.4L186.2 31.9L187.6 30.6L184.7 30.1Z"/><path color="#df634e" d="M94.5 48L97.3 48.3L98.9 46.7L96.1 46.4Z"/><path color="#c73635" d="M147.5 36.6L150.4 37.1L151.8 35.7L149 35.2Z"/><path color="#e16751" d="M90.2 49.3L93 49.6L94.5 48L91.8 47.7Z"/><path color="#e36b54" d="M85.9 50.7L88.7 51L90.2 49.3L87.5 49.1Z"/><path color="#d1493f" d="M123.2 41.2L126 41.6L127.5 40.2L124.7 39.8Z"/><path color="#c12b30" d="M163.3 34.4L166.1 34.8L167.6 33.5L164.7 33Z"/><path color="#e57058" d="M81.6 52.1L84.4 52.4L85.9 50.7L83.2 50.5Z"/><path color="#e7745b" d="M77.3 53.5L80.1 53.8L81.6 52.1L78.9 51.9Z"/><path color="#e9785d" d="M73 54.9L75.8 55.2L77.3 53.5L74.6 53.3Z"/><path color="#c83836" d="M143.2 37.6L146.1 38L147.5 36.6L144.7 36.2Z"/><path color="#bb1b2c" d="M179 32.3L181.9 32.8L183.3 31.4L180.4 30.9Z"/><path color="#eb7d62" d="M68.7 56.2L71.5 56.6L73 54.9L70.3 54.5Z"/><path color="#d44e41" d="M118.9 42.3L121.7 42.7L123.2 41.2L120.4 40.9Z"/><path color="#c32e31" d="M159 35.2L161.8 35.7L163.3 34.4L160.4 33.9Z"/><path color="#cb3e38" d="M138.9 38.5L141.8 39L143.2 37.6L140.4 37.2Z"/><path color="#d55042" d="M114.6 43.5L117.4 43.8L118.9 42.3L116.1 42Z"/><path color="#ec7f63" d="M64.4 56.9L67.2 57.9L68.7 56.2L65.9 55.3Z"/><path color="#bd1f2d" d="M174.7 33.1L177.6 33.6L179 32.3L176.1 31.8Z"/><path color="#e67259" d="M61.5 52.1L64.4 56.9L65.9 55.3L63.1 50.9Z"/><path color="#d75445" d="M110.3 44.6L113.1 45L114.6 43.5L111.8 43.1Z"/><path color="#cc403a" d="M134.6 39.6L137.5 40L138.9 38.5L136.1 38.1Z"/><path color="#c43032" d="M154.7 36.2L157.5 36.6L159 35.2L156.1 34.8Z"/><path color="#d95847" d="M106 45.8L108.8 46.2L110.3 44.6L107.5 44.3Z"/><path color="#be242e" d="M170.4 34L173.3 34.4L174.7 33.1L171.8 32.6Z"/><path color="#ba162b" d="M186.2 31.9L189.1 32.5L190.5 31.1L187.6 30.6Z"/><path color="#dc5d4a" d="M101.7 47.1L104.5 47.4L106 45.8L103.2 45.5Z"/><path color="#cf453c" d="M130.3 40.6L133.1 41L134.6 39.6L131.8 39.1Z"/><path color="#536edd" d="M40.4 170.5L43.3 173.1L44.3 156.8L41.5 154.7Z"/><path color="#c73635" d="M150.4 37.1L153.2 37.5L154.7 36.2L151.8 35.7Z"/><path color="#5977e3" d="M37.6 167.2L40.4 170.5L41.5 154.7L38.6 151.9Z"/><path color="#de614d" d="M97.3 48.3L100.1 48.6L101.7 47.1L98.9 46.7Z"/><path color="#e0654f" d="M93 49.6L95.8 49.9L97.3 48.3L94.5 48Z"/><path color="#d0473d" d="M126 41.6L128.8 42.1L130.3 40.6L127.5 40.2Z"/><path color="#c12b30" d="M166.1 34.8L169 35.3L170.4 34L167.6 33.5Z"/><path color="#4e68d8" d="M43.3 173.1L46.1 175.2L47.1 158.6L44.3 156.8Z"/><path color="#e26952" d="M88.7 51L91.5 51.3L93 49.6L90.2 49.3Z"/><path color="#bb1b2c" d="M181.9 32.8L184.8 33.3L186.2 31.9L183.3 31.4Z"/><path color="#c83836" d="M146.1 38L148.9 38.5L150.4 37.1L147.5 36.6Z"/><path color="#e46e56" d="M84.4 52.4L87.2 52.6L88.7 51L85.9 50.7Z"/><path color="#e67259" d="M80.1 53.8L82.9 54.1L84.4 52.4L81.6 52.1Z"/><path color="#e9785d" d="M75.8 55.2L78.6 55.5L80.1 53.8L77.3 53.5Z"/><path color="#d24b40" d="M121.7 42.7L124.5 43.1L126 41.6L123.2 41.2Z"/><path color="#ea7b60" d="M71.5 56.6L74.3 57L75.8 55.2L73 54.9Z"/><path color="#ec7f63" d="M67.2 57.9L69.9 58.4L71.5 56.6L68.7 56.2Z"/><path color="#c32e31" d="M161.8 35.7L164.7 36.2L166.1 34.8L163.3 34.4Z"/><path color="#ca3b37" d="M141.8 39L144.6 39.4L146.1 38L143.2 37.6Z"/><path color="#d55042" d="M117.4 43.8L120.2 44.2L121.7 42.7L118.9 42.3Z"/><path color="#bd1f2d" d="M177.6 33.6L180.5 34.1L181.9 32.8L179 32.3Z"/><path color="#4b64d5" d="M46.1 175.2L48.9 177L49.9 160.2L47.1 158.6Z"/><path color="#6282ea" d="M34.7 162.5L37.6 167.2L38.6 151.9L35.7 148.1Z"/><path color="#ed8366" d="M62.8 58.5L65.6 59.6L67.2 57.9L64.4 56.9Z"/><path color="#d65244" d="M113.1 45L115.9 45.4L117.4 43.8L114.6 43.5Z"/><path color="#c43032" d="M157.5 36.6L160.4 37.1L161.8 35.7L159 35.2Z"/><path color="#cc403a" d="M137.5 40L140.3 40.4L141.8 39L138.9 38.5Z"/><path color="#be242e" d="M173.3 34.4L176.2 34.9L177.6 33.6L174.7 33.1Z"/><path color="#d85646" d="M108.8 46.2L111.6 46.5L113.1 45L110.3 44.6Z"/><path color="#e7745b" d="M59.9 53.4L62.8 58.5L64.4 56.9L61.5 52.1Z"/><path color="#ba162b" d="M189.1 32.5L191.9 33L193.3 31.6L190.5 31.1Z"/><path color="#cd423b" d="M133.1 41L136 41.4L137.5 40L134.6 39.6Z"/><path color="#c53334" d="M153.2 37.5L156.1 38L157.5 36.6L154.7 36.2Z"/><path color="#da5a49" d="M104.5 47.4L107.3 47.7L108.8 46.2L106 45.8Z"/><path color="#4961d2" d="M48.9 177L51.6 178.6L52.7 161.6L49.9 160.2Z"/><path color="#dd5f4b" d="M100.1 48.6L102.9 49L104.5 47.4L101.7 47.1Z"/><path color="#c0282f" d="M169 35.3L171.9 35.8L173.3 34.4L170.4 34Z"/><path color="#d0473d" d="M128.8 42.1L131.7 42.5L133.1 41L130.3 40.6Z"/><path color="#df634e" d="M95.8 49.9L98.6 50.3L100.1 48.6L97.3 48.3Z"/><path color="#bb1b2c" d="M184.8 33.3L187.6 33.8L189.1 32.5L186.2 31.9Z"/><path color="#c83836" d="M148.9 38.5L151.8 38.9L153.2 37.5L150.4 37.1Z"/><path color="#e26952" d="M91.5 51.3L94.3 51.6L95.8 49.9L93 49.6Z"/><path color="#e36c55" d="M87.2 52.6L90 52.9L91.5 51.3L88.7 51Z"/><path color="#d1493f" d="M124.5 43.1L127.4 43.5L128.8 42.1L126 41.6Z"/><path color="#e57058" d="M82.9 54.1L85.7 54.3L87.2 52.6L84.4 52.4Z"/><path color="#e8765c" d="M78.6 55.5L81.4 55.8L82.9 54.1L80.1 53.8Z"/><path color="#c12b30" d="M164.7 36.2L167.6 36.7L169 35.3L166.1 34.8Z"/><path color="#e97a5f" d="M74.3 57L77 57.2L78.6 55.5L75.8 55.2Z"/><path color="#ec7f63" d="M69.9 58.4L72.7 58.7L74.3 57L71.5 56.6Z"/><path color="#ca3b37" d="M144.6 39.4L147.5 39.9L148.9 38.5L146.1 38Z"/><path color="#bd1f2d" d="M180.5 34.1L183.3 34.6L184.8 33.3L181.9 32.8Z"/><path color="#ed8366" d="M65.6 59.6L68.4 60.2L69.9 58.4L67.2 57.9Z"/><path color="#d44e41" d="M120.2 44.2L123 44.6L124.5 43.1L121.7 42.7Z"/><path color="#465ecf" d="M51.6 178.6L54.4 180.1L55.5 162.8L52.7 161.6Z"/><path color="#c43032" d="M160.4 37.1L163.2 37.6L164.7 36.2L161.8 35.7Z"/><path color="#d65244" d="M115.9 45.4L118.7 45.8L120.2 44.2L117.4 43.8Z"/><path color="#cb3e38" d="M140.3 40.4L143.1 40.9L144.6 39.4L141.8 39Z"/><path color="#ee8468" d="M61.3 60.2L64.1 61.4L65.6 59.6L62.8 58.5Z"/><path color="#be242e" d="M176.2 34.9L179 35.4L180.5 34.1L177.6 33.6Z"/><path color="#b8122a" d="M191.9 33L194.8 33.5L196.2 32.2L193.3 31.6Z"/><path color="#d85646" d="M111.6 46.5L114.4 46.9L115.9 45.4L113.1 45Z"/><path color="#cd423b" d="M136 41.4L138.8 41.9L140.3 40.4L137.5 40Z"/><path color="#c53334" d="M156.1 38L158.9 38.5L160.4 37.1L157.5 36.6Z"/><path color="#da5a49" d="M107.3 47.7L110.1 48.1L111.6 46.5L108.8 46.2Z"/><path color="#7295f4" d="M31.6 154.6L34.7 162.5L35.7 148.1L32.7 141.9Z"/><path color="#e8765c" d="M58.4 54.7L61.3 60.2L62.8 58.5L59.9 53.4Z"/><path color="#c0282f" d="M171.9 35.8L174.7 36.3L176.2 34.9L173.3 34.4Z"/><path color="#dd5f4b" d="M102.9 49L105.8 49.3L107.3 47.7L104.5 47.4Z"/><path color="#ba162b" d="M187.6 33.8L190.5 34.3L191.9 33L189.1 32.5Z"/><path color="#cf453c" d="M131.7 42.5L134.5 42.9L136 41.4L133.1 41Z"/><path color="#c73635" d="M151.8 38.9L154.6 39.4L156.1 38L153.2 37.5Z"/><path color="#455cce" d="M54.4 180.1L57.2 181.4L58.3 164L55.5 162.8Z"/><path color="#df634e" d="M98.6 50.3L101.4 50.6L102.9 49L100.1 48.6Z"/><path color="#e16751" d="M94.3 51.6L97.1 51.9L98.6 50.3L95.8 49.9Z"/><path color="#d1493f" d="M127.4 43.5L130.2 44L131.7 42.5L128.8 42.1Z"/><path color="#c12b30" d="M167.6 36.7L170.4 37.2L171.9 35.8L169 35.3Z"/><path color="#e36b54" d="M90 52.9L92.8 53.3L94.3 51.6L91.5 51.3Z"/><path color="#e46e56" d="M85.7 54.3L88.5 54.7L90 52.9L87.2 52.6Z"/><path color="#bb1b2c" d="M183.3 34.6L186.2 35.1L187.6 33.8L184.8 33.3Z"/><path color="#c83836" d="M147.5 39.9L150.3 40.4L151.8 38.9L148.9 38.5Z"/><path color="#e7745b" d="M81.4 55.8L84.1 56.1L85.7 54.3L82.9 54.1Z"/><path color="#e9785d" d="M77 57.2L79.8 57.6L81.4 55.8L78.6 55.5Z"/><path color="#eb7d62" d="M72.7 58.7L75.5 59.1L77 57.2L74.3 57Z"/><path color="#ec8165" d="M68.4 60.2L71.2 60.6L72.7 58.7L69.9 58.4Z"/><path color="#d44e41" d="M123 44.6L125.9 45.1L127.4 43.5L124.5 43.1Z"/><path color="#ee8669" d="M64.1 61.4L66.9 62L68.4 60.2L65.6 59.6Z"/><path color="#c32e31" d="M163.2 37.6L166.1 38.1L167.6 36.7L164.7 36.2Z"/><path color="#cb3e38" d="M143.1 40.9L146 41.4L147.5 39.9L144.6 39.4Z"/><path color="#d55042" d="M118.7 45.8L121.5 46.2L123 44.6L120.2 44.2Z"/><path color="#bd1f2d" d="M179 35.4L181.9 35.9L183.3 34.6L180.5 34.1Z"/><path color="#b8122a" d="M194.8 33.5L197.7 34L199.1 32.7L196.2 32.2Z"/><path color="#ef886b" d="M59.7 61.9L62.5 63.3L64.1 61.4L61.3 60.2Z"/><path color="#d75445" d="M114.4 46.9L117.2 47.3L118.7 45.8L115.9 45.4Z"/><path color="#4358cb" d="M57.2 181.4L60 182.7L61.1 165.1L58.3 164Z"/><path color="#c43032" d="M158.9 38.5L161.8 39L163.2 37.6L160.4 37.1Z"/><path color="#cc403a" d="M138.8 41.9L141.7 42.3L143.1 40.9L140.3 40.4Z"/><path color="#d95847" d="M110.1 48.1L112.9 48.5L114.4 46.9L111.6 46.5Z"/><path color="#c0282f" d="M174.7 36.3L177.6 36.8L179 35.4L176.2 34.9Z"/><path color="#ba162b" d="M190.5 34.3L193.4 34.8L194.8 33.5L191.9 33Z"/><path color="#cf453c" d="M134.5 42.9L137.4 43.4L138.8 41.9L136 41.4Z"/><path color="#dc5d4a" d="M105.8 49.3L108.6 49.7L110.1 48.1L107.3 47.7Z"/><path color="#c73635" d="M154.6 39.4L157.5 39.9L158.9 38.5L156.1 38Z"/><path color="#e9785d" d="M56.8 56L59.7 61.9L61.3 60.2L58.4 54.7Z"/><path color="#de614d" d="M101.4 50.6L104.2 51L105.8 49.3L102.9 49Z"/><path color="#c12b30" d="M170.4 37.2L173.3 37.7L174.7 36.3L171.9 35.8Z"/><path color="#d0473d" d="M130.2 44L133 44.4L134.5 42.9L131.7 42.5Z"/><path color="#e0654f" d="M97.1 51.9L99.9 52.3L101.4 50.6L98.6 50.3Z"/><path color="#bb1b2c" d="M186.2 35.1L189.1 35.6L190.5 34.3L187.6 33.8Z"/><path color="#c83836" d="M150.3 40.4L153.2 40.8L154.6 39.4L151.8 38.9Z"/><path color="#e26952" d="M92.8 53.3L95.6 53.6L97.1 51.9L94.3 51.6Z"/><path color="#e46e56" d="M88.5 54.7L91.3 55L92.8 53.3L90 52.9Z"/><path color="#e67259" d="M84.1 56.1L86.9 56.4L88.5 54.7L85.7 54.3Z"/><path color="#d24b40" d="M125.9 45.1L128.7 45.5L130.2 44L127.4 43.5Z"/><path color="#ec8165" d="M71.2 60.6L74 60.9L75.5 59.1L72.7 58.7Z"/><path color="#ee8468" d="M66.9 62L69.6 62.5L71.2 60.6L68.4 60.2Z"/><path color="#e8765c" d="M79.8 57.6L82.6 57.9L84.1 56.1L81.4 55.8Z"/><path color="#ea7b60" d="M75.5 59.1L78.3 59.4L79.8 57.6L77 57.2Z"/><path color="#4358cb" d="M60 182.7L62.8 183.8L63.9 166.2L61.1 165.1Z"/><path color="#f08a6c" d="M62.5 63.3L65.3 63.9L66.9 62L64.1 61.4Z"/><path color="#c32e31" d="M166.1 38.1L169 38.6L170.4 37.2L167.6 36.7Z"/><path color="#ca3b37" d="M146 41.4L148.9 41.8L150.3 40.4L147.5 39.9Z"/><path color="#bd1f2d" d="M181.9 35.9L184.8 36.5L186.2 35.1L183.3 34.6Z"/><path color="#d55042" d="M121.5 46.2L124.4 46.6L125.9 45.1L123 44.6Z"/><path color="#b8122a" d="M197.7 34L200.6 34.5L202 33.2L199.1 32.7Z"/><path color="#d65244" d="M117.2 47.3L120.1 47.7L121.5 46.2L118.7 45.8Z"/><path color="#c43032" d="M161.8 39L164.7 39.5L166.1 38.1L163.2 37.6Z"/><path color="#f08b6e" d="M58.2 63.7L61 65.2L62.5 63.3L59.7 61.9Z"/><path color="#cc403a" d="M141.7 42.3L144.5 42.8L146 41.4L143.1 40.9Z"/><path color="#be242e" d="M177.6 36.8L180.5 37.3L181.9 35.9L179 35.4Z"/><path color="#d85646" d="M112.9 48.5L115.7 48.9L117.2 47.3L114.4 46.9Z"/><path color="#ba162b" d="M193.4 34.8L196.3 35.3L197.7 34L194.8 33.5Z"/><path color="#cd423b" d="M137.4 43.4L140.2 43.8L141.7 42.3L138.8 41.9Z"/><path color="#c53334" d="M157.5 39.9L160.4 40.4L161.8 39L158.9 38.5Z"/><path color="#da5a49" d="M108.6 49.7L111.4 50.1L112.9 48.5L110.1 48.1Z"/><path color="#dd5f4b" d="M104.2 51L107.1 51.4L108.6 49.7L105.8 49.3Z"/><path color="#c0282f" d="M173.3 37.7L176.2 38.2L177.6 36.8L174.7 36.3Z"/><path color="#4257c9" d="M62.8 183.8L65.6 185L66.7 167.2L63.9 166.2Z"/><path color="#d0473d" d="M133 44.4L135.9 44.9L137.4 43.4L134.5 42.9Z"/><path color="#bb1b2c" d="M189.1 35.6L192 36.1L193.4 34.8L190.5 34.3Z"/><path color="#df634e" d="M99.9 52.3L102.7 52.6L104.2 51L101.4 50.6Z"/><path color="#c83836" d="M153.2 40.8L156 41.3L157.5 39.9L154.6 39.4Z"/><path color="#e97a5f" d="M55.2 57.4L58.2 63.7L59.7 61.9L56.8 56Z"/><path color="#e26952" d="M95.6 53.6L98.4 54L99.9 52.3L97.1 51.9Z"/><path color="#d24b40" d="M128.7 45.5L131.6 45.9L133 44.4L130.2 44Z"/><path color="#e36c55" d="M91.3 55L94.1 55.3L95.6 53.6L92.8 53.3Z"/><path color="#ef886b" d="M65.3 63.9L68.1 64.4L69.6 62.5L66.9 62Z"/><path color="#ee8468" d="M69.6 62.5L72.4 62.8L74 60.9L71.2 60.6Z"/><path color="#e57058" d="M86.9 56.4L89.7 56.8L91.3 55L88.5 54.7Z"/><path color="#c32e31" d="M169 38.6L171.9 39L173.3 37.7L170.4 37.2Z"/><path color="#ec7f63" d="M74 60.9L76.8 61.3L78.3 59.4L75.5 59.1Z"/><path color="#e8765c" d="M82.6 57.9L85.4 58.2L86.9 56.4L84.1 56.1Z"/><path color="#e97a5f" d="M78.3 59.4L81.1 59.7L82.6 57.9L79.8 57.6Z"/><path color="#f18d6f" d="M61 65.2L63.8 65.9L65.3 63.9L62.5 63.3Z"/><path color="#ca3b37" d="M148.9 41.8L151.7 42.3L153.2 40.8L150.3 40.4Z"/><path color="#bd1f2d" d="M184.8 36.5L187.7 37L189.1 35.6L186.2 35.1Z"/><path color="#b70d28" d="M200.6 34.5L203.5 35L204.9 33.7L202 33.2Z"/><path color="#d44e41" d="M124.4 46.6L127.2 47L128.7 45.5L125.9 45.1Z"/><path color="#82a6fb" d="M38.6 151.9L41.5 154.7L42.6 142.4L39.8 140Z"/><path color="#c43032" d="M164.7 39.5L167.6 40L169 38.6L166.1 38.1Z"/><path color="#7da0f9" d="M41.5 154.7L44.3 156.8L45.4 144.3L42.6 142.4Z"/><path color="#cb3e38" d="M144.5 42.8L147.4 43.3L148.9 41.8L146 41.4Z"/><path color="#d65244" d="M120.1 47.7L122.9 48.2L124.4 46.6L121.5 46.2Z"/><path color="#f18f71" d="M56.6 65.6L59.4 67.1L61 65.2L58.2 63.7Z"/><path color="#89acfd" d="M35.7 148.1L38.6 151.9L39.8 140L36.9 136.8Z"/><path color="#be242e" d="M180.5 37.3L183.4 37.8L184.8 36.5L181.9 35.9Z"/><path color="#b8122a" d="M196.3 35.3L199.2 35.8L200.6 34.5L197.7 34Z"/><path color="#d85646" d="M115.7 48.9L118.6 49.3L120.1 47.7L117.2 47.3Z"/><path color="#4055c8" d="M65.6 185L68.4 186L69.5 168.2L66.7 167.2Z"/><path color="#cd423b" d="M140.2 43.8L143.1 44.3L144.5 42.8L141.7 42.3Z"/><path color="#c53334" d="M160.4 40.4L163.2 40.9L164.7 39.5L161.8 39Z"/><path color="#da5a49" d="M111.4 50.1L114.2 50.5L115.7 48.9L112.9 48.5Z"/><path color="#799cf8" d="M44.3 156.8L47.1 158.6L48.2 145.8L45.4 144.3Z"/><path color="#c0282f" d="M176.2 38.2L179.1 38.7L180.5 37.3L177.6 36.8Z"/><path color="#dd5f4b" d="M107.1 51.4L109.9 51.8L111.4 50.1L108.6 49.7Z"/><path color="#ba162b" d="M192 36.1L194.9 36.7L196.3 35.3L193.4 34.8Z"/><path color="#cf453c" d="M135.9 44.9L138.7 45.3L140.2 43.8L137.4 43.4Z"/><path color="#c73635" d="M156 41.3L158.9 41.8L160.4 40.4L157.5 39.9Z"/><path color="#df634e" d="M102.7 52.6L105.6 53L107.1 51.4L104.2 51Z"/><path color="#e16751" d="M98.4 54L101.2 54.4L102.7 52.6L99.9 52.3Z"/><path color="#d1493f" d="M131.6 45.9L134.4 46.4L135.9 44.9L133 44.4Z"/><path color="#c12b30" d="M171.9 39L174.8 39.6L176.2 38.2L173.3 37.7Z"/><path color="#f08b6e" d="M63.8 65.9L66.6 66.4L68.1 64.4L65.3 63.9Z"/><path color="#ef886b" d="M68.1 64.4L70.9 64.8L72.4 62.8L69.6 62.5Z"/><path color="#e36b54" d="M94.1 55.3L96.9 55.7L98.4 54L95.6 53.6Z"/><path color="#f29072" d="M59.4 67.1L62.2 68L63.8 65.9L61 65.2Z"/><path color="#ed8366" d="M72.4 62.8L75.2 63.2L76.8 61.3L74 60.9Z"/><path color="#ea7b60" d="M53.6 58.7L56.6 65.6L58.2 63.7L55.2 57.4Z"/><path color="#e46e56" d="M89.7 56.8L92.6 57.1L94.1 55.3L91.3 55Z"/><path color="#bd1f2d" d="M187.7 37L190.6 37.5L192 36.1L189.1 35.6Z"/><path color="#ca3b37" d="M151.7 42.3L154.6 42.8L156 41.3L153.2 40.8Z"/><path color="#b70d28" d="M203.5 35L206.5 35.6L207.8 34.2L204.9 33.7Z"/><path color="#eb7d62" d="M76.8 61.3L79.6 61.6L81.1 59.7L78.3 59.4Z"/><path color="#e7745b" d="M85.4 58.2L88.2 58.6L89.7 56.8L86.9 56.4Z"/><path color="#e97a5f" d="M81.1 59.7L83.9 60.1L85.4 58.2L82.6 57.9Z"/><path color="#d44e41" d="M127.2 47L130.1 47.5L131.6 45.9L128.7 45.5Z"/><path color="#7699f6" d="M47.1 158.6L49.9 160.2L51 147.2L48.2 145.8Z"/><path color="#c32e31" d="M167.6 40L170.4 40.4L171.9 39L169 38.6Z"/><path color="#cb3e38" d="M147.4 43.3L150.2 43.8L151.7 42.3L148.9 41.8Z"/><path color="#3f53c6" d="M68.4 186L71.1 187L72.3 169.1L69.5 168.2Z"/><path color="#d55042" d="M122.9 48.2L125.7 48.6L127.2 47L124.4 46.6Z"/><path color="#97b8ff" d="M32.7 141.9L35.7 148.1L36.9 136.8L34 131.7Z"/><path color="#be242e" d="M183.4 37.8L186.3 38.3L187.7 37L184.8 36.5Z"/><path color="#f29274" d="M55.1 67.4L57.9 69.2L59.4 67.1L56.6 65.6Z"/><path color="#b8122a" d="M199.2 35.8L202.1 36.4L203.5 35L200.6 34.5Z"/><path color="#d75445" d="M118.6 49.3L121.4 49.8L122.9 48.2L120.1 47.7Z"/><path color="#c53334" d="M163.2 40.9L166.1 41.4L167.6 40L164.7 39.5Z"/><path color="#cd423b" d="M143.1 44.3L145.9 44.8L147.4 43.3L144.5 42.8Z"/><path color="#d95847" d="M114.2 50.5L117.1 50.9L118.6 49.3L115.7 48.9Z"/><path color="#c0282f" d="M179.1 38.7L182 39.2L183.4 37.8L180.5 37.3Z"/><path color="#ba162b" d="M194.9 36.7L197.8 37.2L199.2 35.8L196.3 35.3Z"/><path color="#cf453c" d="M138.7 45.3L141.6 45.8L143.1 44.3L140.2 43.8Z"/><path color="#dc5d4a" d="M109.9 51.8L112.7 52.2L114.2 50.5L111.4 50.1Z"/><path color="#7597f6" d="M49.9 160.2L52.7 161.6L53.8 148.4L51 147.2Z"/><path color="#c73635" d="M158.9 41.8L161.8 42.3L163.2 40.9L160.4 40.4Z"/><path color="#de614d" d="M105.6 53L108.4 53.4L109.9 51.8L107.1 51.4Z"/><path color="#c12b30" d="M174.8 39.6L177.6 40.1L179.1 38.7L176.2 38.2Z"/><path color="#f29072" d="M62.2 68L65 68.5L66.6 66.4L63.8 65.9Z"/><path color="#d1493f" d="M134.4 46.4L137.3 46.9L138.7 45.3L135.9 44.9Z"/><path color="#e0654f" d="M101.2 54.4L104 54.7L105.6 53L102.7 52.6Z"/><path color="#f08b6e" d="M66.6 66.4L69.4 66.9L70.9 64.8L68.1 64.4Z"/><path color="#f39475" d="M57.9 69.2L60.7 70.1L62.2 68L59.4 67.1Z"/><path color="#bb1b2c" d="M190.6 37.5L193.5 38L194.9 36.7L192 36.1Z"/><path color="#b70d28" d="M206.5 35.6L209.4 36.1L210.8 34.8L207.8 34.2Z"/><path color="#ee8669" d="M70.9 64.8L73.7 65.2L75.2 63.2L72.4 62.8Z"/><path color="#c83836" d="M154.6 42.8L157.5 43.3L158.9 41.8L156 41.3Z"/><path color="#e26952" d="M96.9 55.7L99.7 56.1L101.2 54.4L98.4 54Z"/><path color="#ec8165" d="M75.2 63.2L78 63.6L79.6 61.6L76.8 61.3Z"/><path color="#e46e56" d="M92.6 57.1L95.4 57.5L96.9 55.7L94.1 55.3Z"/><path color="#3f53c6" d="M71.1 187L73.9 188.1L75.1 170L72.3 169.1Z"/><path color="#ea7b60" d="M79.6 61.6L82.4 62L83.9 60.1L81.1 59.7Z"/><path color="#e67259" d="M88.2 58.6L91 59L92.6 57.1L89.7 56.8Z"/><path color="#e9785d" d="M83.9 60.1L86.7 60.4L88.2 58.6L85.4 58.2Z"/><path color="#d24b40" d="M130.1 47.5L132.9 47.9L134.4 46.4L131.6 45.9Z"/><path color="#eb7d62" d="M52.1 60L55.1 67.4L56.6 65.6L53.6 58.7Z"/><path color="#98b9ff" d="M27.9 133.3L31.6 154.6L32.7 141.9L29.4 127.3Z"/><path color="#c32e31" d="M170.4 40.4L173.3 41L174.8 39.6L171.9 39Z"/><path color="#cb3e38" d="M150.2 43.8L153.1 44.3L154.6 42.8L151.7 42.3Z"/><path color="#bd1f2d" d="M186.3 38.3L189.2 38.9L190.6 37.5L187.7 37Z"/><path color="#d55042" d="M125.7 48.6L128.6 49.1L130.1 47.5L127.2 47Z"/><path color="#b8122a" d="M202.1 36.4L205.1 36.9L206.5 35.6L203.5 35Z"/><path color="#f39577" d="M53.5 69.4L56.3 71.3L57.9 69.2L55.1 67.4Z"/><path color="#7295f4" d="M52.7 161.6L55.5 162.8L56.7 149.5L53.8 148.4Z"/><path color="#d75445" d="M121.4 49.8L124.2 50.2L125.7 48.6L122.9 48.2Z"/><path color="#c43032" d="M166.1 41.4L169 41.9L170.4 40.4L167.6 40Z"/><path color="#cc403a" d="M145.9 44.8L148.8 45.3L150.2 43.8L147.4 43.3Z"/><path color="#be242e" d="M182 39.2L184.9 39.7L186.3 38.3L183.4 37.8Z"/><path color="#d95847" d="M117.1 50.9L119.9 51.4L121.4 49.8L118.6 49.3Z"/><path color="#ba162b" d="M197.8 37.2L200.7 37.7L202.1 36.4L199.2 35.8Z"/><path color="#cf453c" d="M141.6 45.8L144.4 46.3L145.9 44.8L143.1 44.3Z"/><path color="#c73635" d="M161.8 42.3L164.7 42.8L166.1 41.4L163.2 40.9Z"/><path color="#da5a49" d="M112.7 52.2L115.6 52.6L117.1 50.9L114.2 50.5Z"/><path color="#f39475" d="M60.7 70.1L63.5 70.7L65 68.5L62.2 68Z"/><path color="#dd5f4b" d="M108.4 53.4L111.2 53.9L112.7 52.2L109.9 51.8Z"/><path color="#3e51c5" d="M73.9 188.1L76.7 189.1L77.9 170.9L75.1 170Z"/><path color="#c12b30" d="M177.6 40.1L180.5 40.6L182 39.2L179.1 38.7Z"/><path color="#f4987a" d="M56.3 71.3L59.1 72.3L60.7 70.1L57.9 69.2Z"/><path color="#f18f71" d="M65 68.5L67.8 69L69.4 66.9L66.6 66.4Z"/><path color="#d0473d" d="M137.3 46.9L140.1 47.3L141.6 45.8L138.7 45.3Z"/><path color="#b70d28" d="M209.4 36.1L212.3 36.6L213.7 35.3L210.8 34.8Z"/><path color="#bb1b2c" d="M193.5 38L196.4 38.5L197.8 37.2L194.9 36.7Z"/><path color="#e0654f" d="M104 54.7L106.9 55.2L108.4 53.4L105.6 53Z"/><path color="#f08a6c" d="M69.4 66.9L72.1 67.3L73.7 65.2L70.9 64.8Z"/><path color="#c83836" d="M157.5 43.3L160.3 43.8L161.8 42.3L158.9 41.8Z"/><path color="#e26952" d="M99.7 56.1L102.5 56.5L104 54.7L101.2 54.4Z"/><path color="#ee8468" d="M73.7 65.2L76.5 65.6L78 63.6L75.2 63.2Z"/><path color="#7093f3" d="M55.5 162.8L58.3 164L59.5 150.6L56.7 149.5Z"/><path color="#e36c55" d="M95.4 57.5L98.2 57.9L99.7 56.1L96.9 55.7Z"/><path color="#ec7f63" d="M78 63.6L80.8 63.9L82.4 62L79.6 61.6Z"/><path color="#d24b40" d="M132.9 47.9L135.8 48.4L137.3 46.9L134.4 46.4Z"/><path color="#e67259" d="M91 59L93.8 59.3L95.4 57.5L92.6 57.1Z"/><path color="#ea7b60" d="M82.4 62L85.2 62.3L86.7 60.4L83.9 60.1Z"/><path color="#e8765c" d="M86.7 60.4L89.5 60.8L91 59L88.2 58.6Z"/><path color="#c32e31" d="M173.3 41L176.2 41.5L177.6 40.1L174.8 39.6Z"/><path color="#ca3b37" d="M153.1 44.3L156 44.7L157.5 43.3L154.6 42.8Z"/><path color="#bd1f2d" d="M189.2 38.9L192.1 39.4L193.5 38L190.6 37.5Z"/><path color="#f4987a" d="M52 71.4L54.8 73.5L56.3 71.3L53.5 69.4Z"/><path color="#b8122a" d="M205.1 36.9L208 37.4L209.4 36.1L206.5 35.6Z"/><path color="#d44e41" d="M128.6 49.1L131.4 49.5L132.9 47.9L130.1 47.5Z"/><path color="#ec7f63" d="M50.5 61.4L53.5 69.4L55.1 67.4L52.1 60Z"/><path color="#a9c6fd" d="M36.9 136.8L39.8 140L41.1 130.5L38.2 127.8Z"/><path color="#a2c1ff" d="M39.8 140L42.6 142.4L43.9 132.6L41.1 130.5Z"/><path color="#c43032" d="M169 41.9L171.9 42.4L173.3 41L170.4 40.4Z"/><path color="#d65244" d="M124.2 50.2L127.1 50.7L128.6 49.1L125.7 48.6Z"/><path color="#cc403a" d="M148.8 45.3L151.7 45.7L153.1 44.3L150.2 43.8Z"/><path color="#be242e" d="M184.9 39.7L187.8 40.2L189.2 38.9L186.3 38.3Z"/><path color="#ba162b" d="M200.7 37.7L203.7 38.3L205.1 36.9L202.1 36.4Z"/><path color="#d85646" d="M119.9 51.4L122.7 51.8L124.2 50.2L121.4 49.8Z"/><path color="#cd423b" d="M144.4 46.3L147.3 46.8L148.8 45.3L145.9 44.8Z"/><path color="#3e51c5" d="M76.7 189.1L79.5 190L80.7 171.8L77.9 170.9Z"/><path color="#c53334" d="M164.7 42.8L167.5 43.3L169 41.9L166.1 41.4Z"/><path color="#9ebeff" d="M42.6 142.4L45.4 144.3L46.7 134.2L43.9 132.6Z"/><path color="#f4987a" d="M59.1 72.3L61.9 72.9L63.5 70.7L60.7 70.1Z"/><path color="#da5a49" d="M115.6 52.6L118.4 53.1L119.9 51.4L117.1 50.9Z"/><path color="#f59c7d" d="M54.8 73.5L57.6 74.6L59.1 72.3L56.3 71.3Z"/><path color="#f39475" d="M63.5 70.7L66.3 71.2L67.8 69L65 68.5Z"/><path color="#6f92f3" d="M58.3 164L61.1 165.1L62.3 151.6L59.5 150.6Z"/><path color="#c0282f" d="M180.5 40.6L183.4 41.1L184.9 39.7L182 39.2Z"/><path color="#dd5f4b" d="M111.2 53.9L114.1 54.3L115.6 52.6L112.7 52.2Z"/><path color="#b50927" d="M212.3 36.6L215.2 37.2L216.6 35.9L213.7 35.3Z"/><path color="#d0473d" d="M140.1 47.3L143 47.8L144.4 46.3L141.6 45.8Z"/><path color="#bb1b2c" d="M196.4 38.5L199.3 39.1L200.7 37.7L197.8 37.2Z"/><path color="#f18f71" d="M67.8 69L70.6 69.4L72.1 67.3L69.4 66.9Z"/><path color="#c83836" d="M160.3 43.8L163.2 44.3L164.7 42.8L161.8 42.3Z"/><path color="#df634e" d="M106.9 55.2L109.7 55.6L111.2 53.9L108.4 53.4Z"/><path color="#b2ccfb" d="M34 131.7L36.9 136.8L38.2 127.8L35.3 123.4Z"/><path color="#f08a6c" d="M72.1 67.3L74.9 67.7L76.5 65.6L73.7 65.2Z"/><path color="#e16751" d="M102.5 56.5L105.4 56.9L106.9 55.2L104 54.7Z"/><path color="#ee8468" d="M76.5 65.6L79.3 66L80.8 63.9L78 63.6Z"/><path color="#d1493f" d="M135.8 48.4L138.6 48.9L140.1 47.3L137.3 46.9Z"/><path color="#e36c55" d="M98.2 57.9L101 58.3L102.5 56.5L99.7 56.1Z"/><path color="#c12b30" d="M176.2 41.5L179.1 42L180.5 40.6L177.6 40.1Z"/><path color="#ec7f63" d="M80.8 63.9L83.6 64.3L85.2 62.3L82.4 62Z"/><path color="#e57058" d="M93.8 59.3L96.7 59.7L98.2 57.9L95.4 57.5Z"/><path color="#f59d7e" d="M50.4 73.6L53.2 75.8L54.8 73.5L52 71.4Z"/><path color="#e97a5f" d="M85.2 62.3L88 62.7L89.5 60.8L86.7 60.4Z"/><path color="#e7745b" d="M89.5 60.8L92.3 61.2L93.8 59.3L91 59Z"/><path color="#9bbcff" d="M45.4 144.3L48.2 145.8L49.5 135.6L46.7 134.2Z"/><path color="#ca3b37" d="M156 44.7L158.9 45.2L160.3 43.8L157.5 43.3Z"/><path color="#bd1f2d" d="M192.1 39.4L195 39.9L196.4 38.5L193.5 38Z"/><path color="#b70d28" d="M208 37.4L210.9 38L212.3 36.6L209.4 36.1Z"/><path color="#d44e41" d="M131.4 49.5L134.3 50L135.8 48.4L132.9 47.9Z"/><path color="#c43032" d="M171.9 42.4L174.8 42.9L176.2 41.5L173.3 41Z"/><path color="#cb3e38" d="M151.7 45.7L154.5 46.2L156 44.7L153.1 44.3Z"/><path color="#ec8165" d="M48.9 62.8L52 71.4L53.5 69.4L50.5 61.4Z"/><path color="#d65244" d="M127.1 50.7L129.9 51.1L131.4 49.5L128.6 49.1Z"/><path color="#b2ccfb" d="M29.4 127.3L32.7 141.9L34 131.7L30.7 120.6Z"/><path color="#be242e" d="M187.8 40.2L190.7 40.8L192.1 39.4L189.2 38.9Z"/><path color="#3e51c5" d="M79.5 190L82.4 190.9L83.5 172.7L80.7 171.8Z"/><path color="#b8122a" d="M203.7 38.3L206.6 38.8L208 37.4L205.1 36.9Z"/><path color="#f59d7e" d="M57.6 74.6L60.4 75.3L61.9 72.9L59.1 72.3Z"/><path color="#6f92f3" d="M61.1 165.1L63.9 166.2L65.1 152.5L62.3 151.6Z"/><path color="#d85646" d="M122.7 51.8L125.6 52.3L127.1 50.7L124.2 50.2Z"/><path color="#f5a081" d="M53.2 75.8L56 77L57.6 74.6L54.8 73.5Z"/><path color="#cd423b" d="M147.3 46.8L150.2 47.2L151.7 45.7L148.8 45.3Z"/><path color="#c53334" d="M167.5 43.3L170.4 43.8L171.9 42.4L169 41.9Z"/><path color="#f4987a" d="M61.9 72.9L64.7 73.5L66.3 71.2L63.5 70.7Z"/><path color="#d95847" d="M118.4 53.1L121.2 53.5L122.7 51.8L119.9 51.4Z"/><path color="#98b9ff" d="M48.2 145.8L51 147.2L52.3 136.8L49.5 135.6Z"/><path color="#c0282f" d="M183.4 41.1L186.3 41.6L187.8 40.2L184.9 39.7Z"/><path color="#f29274" d="M66.3 71.2L69.1 71.7L70.6 69.4L67.8 69Z"/><path color="#b50927" d="M215.2 37.2L218.2 37.7L219.5 36.4L216.6 35.9Z"/><path color="#ba162b" d="M199.3 39.1L202.2 39.6L203.7 38.3L200.7 37.7Z"/><path color="#cf453c" d="M143 47.8L145.8 48.3L147.3 46.8L144.4 46.3Z"/><path color="#dc5d4a" d="M114.1 54.3L116.9 54.8L118.4 53.1L115.6 52.6Z"/><path color="#c73635" d="M163.2 44.3L166.1 44.8L167.5 43.3L164.7 42.8Z"/><path color="#f18d6f" d="M70.6 69.4L73.4 69.8L74.9 67.7L72.1 67.3Z"/><path color="#df634e" d="M109.7 55.6L112.5 56L114.1 54.3L111.2 53.9Z"/><path color="#f6a283" d="M48.8 75.8L51.7 78.3L53.2 75.8L50.4 73.6Z"/><path color="#ef886b" d="M74.9 67.7L77.7 68.1L79.3 66L76.5 65.6Z"/><path color="#e16751" d="M105.4 56.9L108.2 57.4L109.7 55.6L106.9 55.2Z"/><path color="#d1493f" d="M138.6 48.9L141.5 49.4L143 47.8L140.1 47.3Z"/><path color="#c12b30" d="M179.1 42L182 42.5L183.4 41.1L180.5 40.6Z"/><path color="#ed8366" d="M79.3 66L82.1 66.4L83.6 64.3L80.8 63.9Z"/><path color="#e36b54" d="M101 58.3L103.8 58.7L105.4 56.9L102.5 56.5Z"/><path color="#bd1f2d" d="M195 39.9L197.9 40.4L199.3 39.1L196.4 38.5Z"/><path color="#ca3b37" d="M158.9 45.2L161.8 45.8L163.2 44.3L160.3 43.8Z"/><path color="#b70d28" d="M210.9 38L213.8 38.5L215.2 37.2L212.3 36.6Z"/><path color="#eb7d62" d="M83.6 64.3L86.4 64.7L88 62.7L85.2 62.3Z"/><path color="#e46e56" d="M96.7 59.7L99.5 60.2L101 58.3L98.2 57.9Z"/><path color="#e9785d" d="M88 62.7L90.8 63.1L92.3 61.2L89.5 60.8Z"/><path color="#e7745b" d="M92.3 61.2L95.1 61.6L96.7 59.7L93.8 59.3Z"/><path color="#d44e41" d="M134.3 50L137.1 50.5L138.6 48.9L135.8 48.4Z"/><path color="#c32e31" d="M174.8 42.9L177.7 43.4L179.1 42L176.2 41.5Z"/><path color="#3d50c3" d="M82.4 190.9L85.2 191.9L86.4 173.5L83.5 172.7Z"/><path color="#f6a586" d="M51.7 78.3L54.5 79.6L56 77L53.2 75.8Z"/><path color="#f6a283" d="M56 77L58.8 77.8L60.4 75.3L57.6 74.6Z"/><path color="#6e90f2" d="M63.9 166.2L66.7 167.2L67.9 153.5L65.1 152.5Z"/><path color="#cb3e38" d="M154.5 46.2L157.4 46.7L158.9 45.2L156 44.7Z"/><path color="#97b8ff" d="M51 147.2L53.8 148.4L55.1 137.9L52.3 136.8Z"/><path color="#d55042" d="M129.9 51.1L132.8 51.6L134.3 50L131.4 49.5Z"/><path color="#be242e" d="M190.7 40.8L193.6 41.3L195 39.9L192.1 39.4Z"/><path color="#bfd3f6" d="M38.2 127.8L41.1 130.5L42.4 122.7L39.6 120.2Z"/><path color="#b8122a" d="M206.6 38.8L209.5 39.3L210.9 38L208 37.4Z"/><path color="#f59d7e" d="M60.4 75.3L63.2 75.9L64.7 73.5L61.9 72.9Z"/><path color="#ed8366" d="M47.3 64.2L50.4 73.6L52 71.4L48.9 62.8Z"/><path color="#d75445" d="M125.6 52.3L128.4 52.8L129.9 51.1L127.1 50.7Z"/><path color="#c53334" d="M170.4 43.8L173.3 44.4L174.8 42.9L171.9 42.4Z"/><path color="#cc403a" d="M150.2 47.2L153.1 47.8L154.5 46.2L151.7 45.7Z"/><path color="#bbd1f8" d="M41.1 130.5L43.9 132.6L45.2 124.5L42.4 122.7Z"/><path color="#f39778" d="M64.7 73.5L67.5 74L69.1 71.7L66.3 71.2Z"/><path color="#d95847" d="M121.2 53.5L124.1 54L125.6 52.3L122.7 51.8Z"/><path color="#c0282f" d="M186.3 41.6L189.3 42.2L190.7 40.8L187.8 40.2Z"/><path color="#b50927" d="M218.2 37.7L221.1 38.3L222.5 37L219.5 36.4Z"/><path color="#ba162b" d="M202.2 39.6L205.2 40.1L206.6 38.8L203.7 38.3Z"/><path color="#f7a688" d="M47.3 78.1L50.1 80.9L51.7 78.3L48.8 75.8Z"/><path color="#f29274" d="M69.1 71.7L71.9 72.1L73.4 69.8L70.6 69.4Z"/><path color="#c6d6f1" d="M35.3 123.4L38.2 127.8L39.6 120.2L36.6 116.5Z"/><path color="#cf453c" d="M145.8 48.3L148.7 48.8L150.2 47.2L147.3 46.8Z"/><path color="#dc5d4a" d="M116.9 54.8L119.7 55.2L121.2 53.5L118.4 53.1Z"/><path color="#c73635" d="M166.1 44.8L169 45.3L170.4 43.8L167.5 43.3Z"/><path color="#f18d6f" d="M73.4 69.8L76.2 70.3L77.7 68.1L74.9 67.7Z"/><path color="#de614d" d="M112.5 56L115.4 56.5L116.9 54.8L114.1 54.3Z"/><path color="#c12b30" d="M182 42.5L184.9 43.1L186.3 41.6L183.4 41.1Z"/><path color="#d1493f" d="M141.5 49.4L144.4 49.9L145.8 48.3L143 47.8Z"/><path color="#ee8669" d="M77.7 68.1L80.6 68.5L82.1 66.4L79.3 66Z"/><path color="#e0654f" d="M108.2 57.4L111 57.8L112.5 56L109.7 55.6Z"/><path color="#b7cff9" d="M43.9 132.6L46.7 134.2L48 125.9L45.2 124.5Z"/><path color="#f7aa8c" d="M50.1 80.9L53 82.3L54.5 79.6L51.7 78.3Z"/><path color="#bb1b2c" d="M197.9 40.4L200.8 41L202.2 39.6L199.3 39.1Z"/><path color="#b70d28" d="M213.8 38.5L216.8 39.1L218.2 37.7L215.2 37.2Z"/><path color="#f7a688" d="M54.5 79.6L57.3 80.4L58.8 77.8L56 77Z"/><path color="#c83836" d="M161.8 45.8L164.6 46.3L166.1 44.8L163.2 44.3Z"/><path color="#ec8165" d="M82.1 66.4L84.9 66.8L86.4 64.7L83.6 64.3Z"/><path color="#e26952" d="M103.8 58.7L106.7 59.2L108.2 57.4L105.4 56.9Z"/><path color="#96b7ff" d="M53.8 148.4L56.7 149.5L57.9 138.9L55.1 137.9Z"/><path color="#e46e56" d="M99.5 60.2L102.3 60.6L103.8 58.7L101 58.3Z"/><path color="#eb7d62" d="M86.4 64.7L89.3 65.2L90.8 63.1L88 62.7Z"/><path color="#6e90f2" d="M66.7 167.2L69.5 168.2L70.7 154.3L67.9 153.5Z"/><path color="#3d50c3" d="M85.2 191.9L88 192.8L89.2 174.4L86.4 173.5Z"/><path color="#e67259" d="M95.1 61.6L98 62L99.5 60.2L96.7 59.7Z"/><path color="#e9785d" d="M90.8 63.1L93.6 63.6L95.1 61.6L92.3 61.2Z"/><path color="#d24b40" d="M137.1 50.5L140 51L141.5 49.4L138.6 48.9Z"/><path color="#c6d6f1" d="M30.7 120.6L34 131.7L35.3 123.4L32.1 114.4Z"/><path color="#f6a283" d="M58.8 77.8L61.6 78.4L63.2 75.9L60.4 75.3Z"/><path color="#c32e31" d="M177.7 43.4L180.6 44L182 42.5L179.1 42Z"/><path color="#cb3e38" d="M157.4 46.7L160.3 47.2L161.8 45.8L158.9 45.2Z"/><path color="#bd1f2d" d="M193.6 41.3L196.5 41.8L197.9 40.4L195 39.9Z"/><path color="#d55042" d="M132.8 51.6L135.7 52.1L137.1 50.5L134.3 50Z"/><path color="#b8122a" d="M209.5 39.3L212.4 39.9L213.8 38.5L210.9 38Z"/><path color="#f59c7d" d="M63.2 75.9L66 76.5L67.5 74L64.7 73.5Z"/><path color="#f7aa8c" d="M45.7 80.6L48.6 83.6L50.1 80.9L47.3 78.1Z"/><path color="#d75445" d="M128.4 52.8L131.3 53.2L132.8 51.6L129.9 51.1Z"/><path color="#c43032" d="M173.3 44.4L176.2 44.9L177.7 43.4L174.8 42.9Z"/><path color="#cc403a" d="M153.1 47.8L155.9 48.3L157.4 46.7L154.5 46.2Z"/><path color="#ee8468" d="M45.7 65.6L48.8 75.8L50.4 73.6L47.3 64.2Z"/><path color="#b5cdfa" d="M46.7 134.2L49.5 135.6L50.9 127.1L48 125.9Z"/><path color="#f39778" d="M67.5 74L70.3 74.5L71.9 72.1L69.1 71.7Z"/><path color="#be242e" d="M189.3 42.2L192.2 42.7L193.6 41.3L190.7 40.8Z"/><path color="#b50927" d="M221.1 38.3L224 38.8L225.4 37.5L222.5 37Z"/><path color="#d95847" d="M124.1 54L126.9 54.4L128.4 52.8L125.6 52.3Z"/><path color="#ba162b" d="M205.2 40.1L208.1 40.7L209.5 39.3L206.6 38.8Z"/><path color="#f7b093" d="M48.6 83.6L51.4 85.1L53 82.3L50.1 80.9Z"/><path color="#f7ac8e" d="M53 82.3L55.8 83.2L57.3 80.4L54.5 79.6Z"/><path color="#cf453c" d="M148.7 48.8L151.6 49.3L153.1 47.8L150.2 47.2Z"/><path color="#f29072" d="M71.9 72.1L74.7 72.6L76.2 70.3L73.4 69.8Z"/><path color="#c73635" d="M169 45.3L171.9 45.8L173.3 44.4L170.4 43.8Z"/><path color="#da5a49" d="M119.7 55.2L122.6 55.7L124.1 54L121.2 53.5Z"/><path color="#96b7ff" d="M56.7 149.5L59.5 150.6L60.7 139.9L57.9 138.9Z"/><path color="#d1dae9" d="M39.6 120.2L42.4 122.7L43.8 116L41 113.8Z"/><path color="#f08b6e" d="M76.2 70.3L79 70.7L80.6 68.5L77.7 68.1Z"/><path color="#de614d" d="M115.4 56.5L118.2 57L119.7 55.2L116.9 54.8Z"/><path color="#c12b30" d="M184.9 43.1L187.8 43.6L189.3 42.2L186.3 41.6Z"/><path color="#f7a688" d="M57.3 80.4L60.1 81.1L61.6 78.4L58.8 77.8Z"/><path color="#6c8ff1" d="M69.5 168.2L72.3 169.1L73.5 155.2L70.7 154.3Z"/><path color="#d0473d" d="M144.4 49.9L147.2 50.4L148.7 48.8L145.8 48.3Z"/><path color="#d6dce4" d="M36.6 116.5L39.6 120.2L41 113.8L38.1 110.6Z"/><path color="#3d50c3" d="M88 192.8L90.8 193.7L92 175.2L89.2 174.4Z"/><path color="#bb1b2c" d="M200.8 41L203.8 41.5L205.2 40.1L202.2 39.6Z"/><path color="#b70d28" d="M216.8 39.1L219.7 39.6L221.1 38.3L218.2 37.7Z"/><path color="#e0654f" d="M111 57.8L113.9 58.3L115.4 56.5L112.5 56Z"/><path color="#ee8669" d="M80.6 68.5L83.4 68.9L84.9 66.8L82.1 66.4Z"/><path color="#c83836" d="M164.6 46.3L167.5 46.8L169 45.3L166.1 44.8Z"/><path color="#e26952" d="M106.7 59.2L109.5 59.6L111 57.8L108.2 57.4Z"/><path color="#ec8165" d="M84.9 66.8L87.7 67.2L89.3 65.2L86.4 64.7Z"/><path color="#e36c55" d="M102.3 60.6L105.2 61L106.7 59.2L103.8 58.7Z"/><path color="#ea7b60" d="M89.3 65.2L92.1 65.6L93.6 63.6L90.8 63.1Z"/><path color="#ccd9ed" d="M42.4 122.7L45.2 124.5L46.6 117.6L43.8 116Z"/><path color="#d24b40" d="M140 51L142.9 51.5L144.4 49.9L141.5 49.4Z"/><path color="#f7b093" d="M44.2 83.2L47.1 86.5L48.6 83.6L45.7 80.6Z"/><path color="#e67259" d="M98 62L100.8 62.5L102.3 60.6L99.5 60.2Z"/><path color="#e8765c" d="M93.6 63.6L96.4 64L98 62L95.1 61.6Z"/><path color="#f6a283" d="M61.6 78.4L64.4 79L66 76.5L63.2 75.9Z"/><path color="#c32e31" d="M180.6 44L183.5 44.5L184.9 43.1L182 42.5Z"/><path color="#b3cdfb" d="M49.5 135.6L52.3 136.8L53.7 128.2L50.9 127.1Z"/><path color="#f7b599" d="M47.1 86.5L49.9 88.2L51.4 85.1L48.6 83.6Z"/><path color="#ca3b37" d="M160.3 47.2L163.2 47.8L164.6 46.3L161.8 45.8Z"/><path color="#bd1f2d" d="M196.5 41.8L199.4 42.4L200.8 41L197.9 40.4Z"/><path color="#b8122a" d="M212.4 39.9L215.4 40.4L216.8 39.1L213.8 38.5Z"/><path color="#d55042" d="M135.7 52.1L138.5 52.6L140 51L137.1 50.5Z"/><path color="#f7b194" d="M51.4 85.1L54.2 86.2L55.8 83.2L53 82.3Z"/><path color="#f59c7d" d="M66 76.5L68.8 76.9L70.3 74.5L67.5 74Z"/><path color="#d5dbe5" d="M32.1 114.4L35.3 123.4L36.6 116.5L33.6 108.9Z"/><path color="#c43032" d="M176.2 44.9L179.1 45.4L180.6 44L177.7 43.4Z"/><path color="#d65244" d="M131.3 53.2L134.2 53.7L135.7 52.1L132.8 51.6Z"/><path color="#cc403a" d="M155.9 48.3L158.8 48.8L160.3 47.2L157.4 46.7Z"/><path color="#f7ac8e" d="M55.8 83.2L58.6 84L60.1 81.1L57.3 80.4Z"/><path color="#be242e" d="M192.2 42.7L195.1 43.2L196.5 41.8L193.6 41.3Z"/><path color="#f39577" d="M70.3 74.5L73.1 74.9L74.7 72.6L71.9 72.1Z"/><path color="#ef886b" d="M44.1 67.1L47.3 78.1L48.8 75.8L45.7 65.6Z"/><path color="#b50927" d="M224 38.8L227 39.4L228.4 38.1L225.4 37.5Z"/><path color="#94b6ff" d="M59.5 150.6L62.3 151.6L63.6 140.8L60.7 139.9Z"/><path color="#ba162b" d="M208.1 40.7L211 41.2L212.4 39.9L209.5 39.3Z"/><path color="#d85646" d="M126.9 54.4L129.8 54.9L131.3 53.2L128.4 52.8Z"/><path color="#cbd8ee" d="M45.2 124.5L48 125.9L49.4 118.9L46.6 117.6Z"/><path color="#cd423b" d="M151.6 49.3L154.5 49.8L155.9 48.3L153.1 47.8Z"/><path color="#f7bca1" d="M45.5 89.7L48.4 91.5L49.9 88.2L47.1 86.5Z"/><path color="#c53334" d="M171.9 45.8L174.8 46.4L176.2 44.9L173.3 44.4Z"/><path color="#f7b599" d="M42.6 86L45.5 89.7L47.1 86.5L44.2 83.2Z"/><path color="#e1dad6" d="M38.1 110.6L41 113.8L42.4 108.3L39.5 105.4Z"/><path color="#f29072" d="M74.7 72.6L77.5 73L79 70.7L76.2 70.3Z"/><path color="#6c8ff1" d="M72.3 169.1L75.1 170L76.3 156.1L73.5 155.2Z"/><path color="#dcdddd" d="M41 113.8L43.8 116L45.2 110.2L42.4 108.3Z"/><path color="#da5a49" d="M122.6 55.7L125.5 56.1L126.9 54.4L124.1 54Z"/><path color="#3d50c3" d="M90.8 193.7L93.6 194.6L94.9 176L92 175.2Z"/><path color="#f7b89c" d="M49.9 88.2L52.7 89.4L54.2 86.2L51.4 85.1Z"/><path color="#f7a688" d="M60.1 81.1L62.9 81.7L64.4 79L61.6 78.4Z"/><path color="#c0282f" d="M187.8 43.6L190.7 44.1L192.2 42.7L189.3 42.2Z"/><path color="#dd5f4b" d="M118.2 57L121.1 57.4L122.6 55.7L119.7 55.2Z"/><path color="#f08a6c" d="M79 70.7L81.8 71.2L83.4 68.9L80.6 68.5Z"/><path color="#d0473d" d="M147.2 50.4L150.1 50.9L151.6 49.3L148.7 48.8Z"/><path color="#b50927" d="M219.7 39.6L222.6 40.2L224 38.8L221.1 38.3Z"/><path color="#bb1b2c" d="M203.8 41.5L206.7 42.1L208.1 40.7L205.2 40.1Z"/><path color="#b2ccfb" d="M52.3 136.8L55.1 137.9L56.5 129.2L53.7 128.2Z"/><path color="#c83836" d="M167.5 46.8L170.4 47.3L171.9 45.8L169 45.3Z"/><path color="#df634e" d="M113.9 58.3L116.7 58.7L118.2 57L115.4 56.5Z"/><path color="#ee8468" d="M83.4 68.9L86.2 69.4L87.7 67.2L84.9 66.8Z"/><path color="#e16751" d="M109.5 59.6L112.4 60.1L113.9 58.3L111 57.8Z"/><path color="#f5c1a9" d="M44 93.1L46.9 95.1L48.4 91.5L45.5 89.7Z"/><path color="#ec7f63" d="M87.7 67.2L90.6 67.7L92.1 65.6L89.3 65.2Z"/><path color="#d1493f" d="M142.9 51.5L145.8 52L147.2 50.4L144.4 49.9Z"/><path color="#f5a081" d="M64.4 79L67.2 79.6L68.8 76.9L66 76.5Z"/><path color="#e36c55" d="M105.2 61L108 61.5L109.5 59.6L106.7 59.2Z"/><path color="#f7b396" d="M54.2 86.2L57 87L58.6 84L55.8 83.2Z"/><path color="#e97a5f" d="M92.1 65.6L94.9 66L96.4 64L93.6 63.6Z"/><path color="#c32e31" d="M183.5 44.5L186.4 45L187.8 43.6L184.9 43.1Z"/><path color="#e57058" d="M100.8 62.5L103.6 62.9L105.2 61L102.3 60.6Z"/><path color="#e8765c" d="M96.4 64L99.3 64.4L100.8 62.5L98 62Z"/><path color="#ead5c9" d="M39.5 105.4L42.4 108.3L43.9 103.4L41 100.9Z"/><path color="#dadce0" d="M43.8 116L46.6 117.6L48 111.6L45.2 110.2Z"/><path color="#f7bca1" d="M41.1 89L44 93.1L45.5 89.7L42.6 86Z"/><path color="#ca3b37" d="M163.2 47.8L166.1 48.3L167.5 46.8L164.6 46.3Z"/><path color="#bd1f2d" d="M199.4 42.4L202.4 42.9L203.8 41.5L200.8 41Z"/><path color="#e1dad6" d="M33.6 108.9L36.6 116.5L38.1 110.6L35 104Z"/><path color="#f6bea4" d="M48.4 91.5L51.2 92.8L52.7 89.4L49.9 88.2Z"/><path color="#b70d28" d="M215.4 40.4L218.3 41L219.7 39.6L216.8 39.1Z"/><path color="#c9d7f0" d="M48 125.9L50.9 127.1L52.2 120L49.4 118.9Z"/><path color="#f3c8b2" d="M42.5 96.8L45.4 99.1L46.9 95.1L44 93.1Z"/><path color="#d44e41" d="M138.5 52.6L141.4 53.1L142.9 51.5L140 51Z"/><path color="#efcebd" d="M41 100.9L43.9 103.4L45.4 99.1L42.5 96.8Z"/><path color="#e6d7cf" d="M42.4 108.3L45.2 110.2L46.7 105.1L43.9 103.4Z"/><path color="#f49a7b" d="M68.8 76.9L71.6 77.4L73.1 74.9L70.3 74.5Z"/><path color="#94b6ff" d="M62.3 151.6L65.1 152.5L66.4 141.7L63.6 140.8Z"/><path color="#c43032" d="M179.1 45.4L182 45.9L183.5 44.5L180.6 44Z"/><path color="#cb3e38" d="M158.8 48.8L161.7 49.3L163.2 47.8L160.3 47.2Z"/><path color="#d65244" d="M134.2 53.7L137 54.2L138.5 52.6L135.7 52.1Z"/><path color="#f7ac8e" d="M58.6 84L61.4 84.6L62.9 81.7L60.1 81.1Z"/><path color="#f5c4ac" d="M46.9 95.1L49.7 96.5L51.2 92.8L48.4 91.5Z"/><path color="#be242e" d="M195.1 43.2L198 43.8L199.4 42.4L196.5 41.8Z"/><path color="#b40426" d="M227 39.4L229.9 40L231.3 38.6L228.4 38.1Z"/><path color="#b8122a" d="M211 41.2L214 41.8L215.4 40.4L212.4 39.9Z"/><path color="#f39577" d="M73.1 74.9L75.9 75.4L77.5 73L74.7 72.6Z"/><path color="#f5c1a9" d="M39.6 92.2L42.5 96.8L44 93.1L41.1 89Z"/><path color="#f7b89c" d="M52.7 89.4L55.5 90.2L57 87L54.2 86.2Z"/><path color="#6c8ff1" d="M75.1 170L77.9 170.9L79.2 156.9L76.3 156.1Z"/><path color="#edd1c2" d="M43.9 103.4L46.7 105.1L48.2 100.6L45.4 99.1Z"/><path color="#f08a6c" d="M42.5 68.5L45.7 80.6L47.3 78.1L44.1 67.1Z"/><path color="#d85646" d="M129.8 54.9L132.7 55.4L134.2 53.7L131.3 53.2Z"/><path color="#f2cbb7" d="M45.4 99.1L48.2 100.6L49.7 96.5L46.9 95.1Z"/><path color="#cd423b" d="M154.5 49.8L157.4 50.3L158.8 48.8L155.9 48.3Z"/><path color="#c53334" d="M174.8 46.4L177.7 46.9L179.1 45.4L176.2 44.9Z"/><path color="#ead5c9" d="M35 104L38.1 110.6L39.5 105.4L36.5 99.7Z"/><path color="#3c4ec2" d="M93.6 194.6L96.4 195.5L97.7 176.9L94.9 176Z"/><path color="#b2ccfb" d="M55.1 137.9L57.9 138.9L59.3 130.2L56.5 129.2Z"/><path color="#da5a49" d="M125.5 56.1L128.3 56.6L129.8 54.9L126.9 54.4Z"/><path color="#f18f71" d="M77.5 73L80.3 73.5L81.8 71.2L79 70.7Z"/><path color="#d8dce2" d="M46.6 117.6L49.4 118.9L50.9 112.8L48 111.6Z"/><path color="#f7a688" d="M62.9 81.7L65.7 82.3L67.2 79.6L64.4 79Z"/><path color="#f3c8b2" d="M38 95.8L41 100.9L42.5 96.8L39.6 92.2Z"/><path color="#c0282f" d="M190.7 44.1L193.7 44.7L195.1 43.2L192.2 42.7Z"/><path color="#e4d9d2" d="M45.2 110.2L48 111.6L49.5 106.4L46.7 105.1Z"/><path color="#efcebd" d="M36.5 99.7L39.5 105.4L41 100.9L38 95.8Z"/><path color="#b50927" d="M222.6 40.2L225.6 40.7L227 39.4L224 38.8Z"/><path color="#dd5f4b" d="M121.1 57.4L123.9 57.9L125.5 56.1L122.6 55.7Z"/><path color="#bb1b2c" d="M206.7 42.1L209.6 42.6L211 41.2L208.1 40.7Z"/><path color="#cf453c" d="M150.1 50.9L153 51.4L154.5 49.8L151.6 49.3Z"/><path color="#f08a6c" d="M81.8 71.2L84.7 71.6L86.2 69.4L83.4 68.9Z"/><path color="#c73635" d="M170.4 47.3L173.3 47.8L174.8 46.4L171.9 45.8Z"/><path color="#f6bfa6" d="M51.2 92.8L54 93.8L55.5 90.2L52.7 89.4Z"/><path color="#df634e" d="M116.7 58.7L119.6 59.2L121.1 57.4L118.2 57Z"/><path color="#c7d7f0" d="M50.9 127.1L53.7 128.2L55.1 121L52.2 120Z"/><path color="#f7b396" d="M57 87L59.8 87.7L61.4 84.6L58.6 84Z"/><path color="#ee8468" d="M86.2 69.4L89 69.8L90.6 67.7L87.7 67.2Z"/><path color="#e16751" d="M112.4 60.1L115.2 60.6L116.7 58.7L113.9 58.3Z"/><path color="#d1493f" d="M145.8 52L148.6 52.5L150.1 50.9L147.2 50.4Z"/><path color="#f5a081" d="M67.2 79.6L70.1 80.1L71.6 77.4L68.8 76.9Z"/><path color="#ec7f63" d="M90.6 67.7L93.4 68.1L94.9 66L92.1 65.6Z"/><path color="#c12b30" d="M186.4 45L189.3 45.6L190.7 44.1L187.8 43.6Z"/><path color="#e36b54" d="M108 61.5L110.8 61.9L112.4 60.1L109.5 59.6Z"/><path color="#e97a5f" d="M94.9 66L97.7 66.5L99.3 64.4L96.4 64Z"/><path color="#e57058" d="M103.6 62.9L106.5 63.4L108 61.5L105.2 61Z"/><path color="#e7745b" d="M99.3 64.4L102.1 64.9L103.6 62.9L100.8 62.5Z"/><path color="#ecd3c5" d="M46.7 105.1L49.5 106.4L51 101.8L48.2 100.6Z"/><path color="#bd1f2d" d="M202.4 42.9L205.3 43.5L206.7 42.1L203.8 41.5Z"/><path color="#ca3b37" d="M166.1 48.3L169 48.8L170.4 47.3L167.5 46.8Z"/><path color="#b70d28" d="M218.3 41L221.3 41.5L222.6 40.2L219.7 39.6Z"/><path color="#f4c5ad" d="M49.7 96.5L52.5 97.6L54 93.8L51.2 92.8Z"/><path color="#93b5fe" d="M65.1 152.5L67.9 153.5L69.2 142.5L66.4 141.7Z"/><path color="#d44e41" d="M141.4 53.1L144.3 53.6L145.8 52L142.9 51.5Z"/><path color="#f1ccb8" d="M48.2 100.6L51 101.8L52.5 97.6L49.7 96.5Z"/><path color="#f49a7b" d="M71.6 77.4L74.4 77.9L75.9 75.4L73.1 74.9Z"/><path color="#c32e31" d="M182 45.9L185 46.5L186.4 45L183.5 44.5Z"/><path color="#f7ac8e" d="M61.4 84.6L64.2 85.2L65.7 82.3L62.9 81.7Z"/><path color="#cb3e38" d="M161.7 49.3L164.6 49.8L166.1 48.3L163.2 47.8Z"/><path color="#d55042" d="M137 54.2L139.9 54.7L141.4 53.1L138.5 52.6Z"/><path color="#6b8df0" d="M77.9 170.9L80.7 171.8L82 157.7L79.2 156.9Z"/><path color="#f7b89c" d="M55.5 90.2L58.3 91L59.8 87.7L57 87Z"/><path color="#d7dce3" d="M49.4 118.9L52.2 120L53.7 113.8L50.9 112.8Z"/><path color="#be242e" d="M198 43.8L200.9 44.3L202.4 42.9L199.4 42.4Z"/><path color="#b40426" d="M229.9 40L232.9 40.5L234.3 39.2L231.3 38.6Z"/><path color="#e3d9d3" d="M48 111.6L50.9 112.8L52.3 107.5L49.5 106.4Z"/><path color="#b1cbfc" d="M57.9 138.9L60.7 139.9L62.1 131L59.3 130.2Z"/><path color="#b8122a" d="M214 41.8L216.9 42.4L218.3 41L215.4 40.4Z"/><path color="#3c4ec2" d="M96.4 195.5L99.3 196.3L100.6 177.7L97.7 176.9Z"/><path color="#f39475" d="M75.9 75.4L78.8 75.9L80.3 73.5L77.5 73Z"/><path color="#d75445" d="M132.7 55.4L135.6 55.9L137 54.2L134.2 53.7Z"/><path color="#f18d6f" d="M40.9 70L44.2 83.2L45.7 80.6L42.5 68.5Z"/><path color="#c53334" d="M177.7 46.9L180.6 47.4L182 45.9L179.1 45.4Z"/><path color="#cd423b" d="M157.4 50.3L160.3 50.8L161.7 49.3L158.8 48.8Z"/><path color="#d95847" d="M128.3 56.6L131.2 57.1L132.7 55.4L129.8 54.9Z"/><path color="#f18f71" d="M80.3 73.5L83.1 73.9L84.7 71.6L81.8 71.2Z"/><path color="#f7a688" d="M65.7 82.3L68.5 82.8L70.1 80.1L67.2 79.6Z"/><path color="#c0282f" d="M193.7 44.7L196.6 45.2L198 43.8L195.1 43.2Z"/><path color="#c7d7f0" d="M53.7 128.2L56.5 129.2L57.9 121.9L55.1 121Z"/><path color="#f6bfa6" d="M54 93.8L56.8 94.6L58.3 91L55.5 90.2Z"/><path color="#b50927" d="M225.6 40.7L228.6 41.3L229.9 40L227 39.4Z"/><path color="#ba162b" d="M209.6 42.6L212.6 43.2L214 41.8L211 41.2Z"/><path color="#cf453c" d="M153 51.4L155.9 51.9L157.4 50.3L154.5 49.8Z"/><path color="#dc5d4a" d="M123.9 57.9L126.8 58.4L128.3 56.6L125.5 56.1Z"/><path color="#ebd3c6" d="M49.5 106.4L52.3 107.5L53.8 102.7L51 101.8Z"/><path color="#c73635" d="M173.3 47.8L176.3 48.4L177.7 46.9L174.8 46.4Z"/><path color="#ef886b" d="M84.7 71.6L87.5 72.1L89 69.8L86.2 69.4Z"/><path color="#f7b194" d="M59.8 87.7L62.7 88.3L64.2 85.2L61.4 84.6Z"/><path color="#de614d" d="M119.6 59.2L122.4 59.7L123.9 57.9L121.1 57.4Z"/><path color="#f4c6af" d="M52.5 97.6L55.3 98.5L56.8 94.6L54 93.8Z"/><path color="#ed8366" d="M89 69.8L91.9 70.3L93.4 68.1L90.6 67.7Z"/><path color="#f1cdba" d="M51 101.8L53.8 102.7L55.3 98.5L52.5 97.6Z"/><path color="#e0654f" d="M115.2 60.6L118.1 61L119.6 59.2L116.7 58.7Z"/><path color="#c12b30" d="M189.3 45.6L192.2 46.1L193.7 44.7L190.7 44.1Z"/><path color="#d1493f" d="M148.6 52.5L151.5 53L153 51.4L150.1 50.9Z"/><path color="#93b5fe" d="M67.9 153.5L70.7 154.3L72 143.3L69.2 142.5Z"/><path color="#f59f80" d="M70.1 80.1L72.9 80.6L74.4 77.9L71.6 77.4Z"/><path color="#eb7d62" d="M93.4 68.1L96.2 68.6L97.7 66.5L94.9 66Z"/><path color="#e36b54" d="M110.8 61.9L113.7 62.4L115.2 60.6L112.4 60.1Z"/><path color="#bb1b2c" d="M205.3 43.5L208.2 44L209.6 42.6L206.7 42.1Z"/><path color="#b70d28" d="M221.3 41.5L224.2 42.1L225.6 40.7L222.6 40.2Z"/><path color="#c83836" d="M169 48.8L171.9 49.3L173.3 47.8L170.4 47.3Z"/><path color="#e9785d" d="M97.7 66.5L100.6 66.9L102.1 64.9L99.3 64.4Z"/><path color="#e46e56" d="M106.5 63.4L109.3 63.9L110.8 61.9L108 61.5Z"/><path color="#e7745b" d="M102.1 64.9L105 65.4L106.5 63.4L103.6 62.9Z"/><path color="#e2dad5" d="M50.9 112.8L53.7 113.8L55.1 108.4L52.3 107.5Z"/><path color="#d7dce3" d="M52.2 120L55.1 121L56.5 114.7L53.7 113.8Z"/><path color="#d24b40" d="M144.3 53.6L147.2 54.1L148.6 52.5L145.8 52Z"/><path color="#6b8df0" d="M80.7 171.8L83.5 172.7L84.8 158.6L82 157.7Z"/><path color="#c32e31" d="M185 46.5L187.9 47L189.3 45.6L186.4 45Z"/><path color="#b1cbfc" d="M60.7 139.9L63.6 140.8L64.9 131.9L62.1 131Z"/><path color="#f7b89c" d="M58.3 91L61.1 91.7L62.7 88.3L59.8 87.7Z"/><path color="#f4987a" d="M74.4 77.9L77.2 78.4L78.8 75.9L75.9 75.4Z"/><path color="#f7ac8e" d="M64.2 85.2L67 85.8L68.5 82.8L65.7 82.3Z"/><path color="#cb3e38" d="M164.6 49.8L167.5 50.4L169 48.8L166.1 48.3Z"/><path color="#d55042" d="M139.9 54.7L142.8 55.2L144.3 53.6L141.4 53.1Z"/><path color="#b40426" d="M232.9 40.5L235.9 41.1L237.2 39.7L234.3 39.2Z"/><path color="#3c4ec2" d="M99.3 196.3L102.1 197.2L103.4 178.5L100.6 177.7Z"/><path color="#bd1f2d" d="M200.9 44.3L203.9 44.9L205.3 43.5L202.4 42.9Z"/><path color="#b8122a" d="M216.9 42.4L219.9 42.9L221.3 41.5L218.3 41Z"/><path color="#f29072" d="M39.3 71.4L42.6 86L44.2 83.2L40.9 70Z"/><path color="#d75445" d="M135.6 55.9L138.4 56.4L139.9 54.7L137 54.2Z"/><path color="#c6d6f1" d="M56.5 129.2L59.3 130.2L60.7 122.8L57.9 121.9Z"/><path color="#f39475" d="M78.8 75.9L81.6 76.4L83.1 73.9L80.3 73.5Z"/><path color="#c43032" d="M180.6 47.4L183.5 48L185 46.5L182 45.9Z"/><path color="#cc403a" d="M160.3 50.8L163.2 51.4L164.6 49.8L161.7 49.3Z"/><path color="#ebd3c6" d="M52.3 107.5L55.1 108.4L56.6 103.6L53.8 102.7Z"/><path color="#f6bfa6" d="M56.8 94.6L59.6 95.3L61.1 91.7L58.3 91Z"/><path color="#d95847" d="M131.2 57.1L134.1 57.6L135.6 55.9L132.7 55.4Z"/><path color="#c0282f" d="M196.6 45.2L199.5 45.8L200.9 44.3L198 43.8Z"/><path color="#f6a586" d="M68.5 82.8L71.3 83.4L72.9 80.6L70.1 80.1Z"/><path color="#b50927" d="M228.6 41.3L231.5 41.9L232.9 40.5L229.9 40Z"/><path color="#f18d6f" d="M83.1 73.9L86 74.4L87.5 72.1L84.7 71.6Z"/><path color="#ba162b" d="M212.6 43.2L215.5 43.7L216.9 42.4L214 41.8Z"/><path color="#cf453c" d="M155.9 51.9L158.8 52.4L160.3 50.8L157.4 50.3Z"/><path color="#dc5d4a" d="M126.8 58.4L129.7 58.9L131.2 57.1L128.3 56.6Z"/><path color="#f4c6af" d="M55.3 98.5L58.1 99.2L59.6 95.3L56.8 94.6Z"/><path color="#c73635" d="M176.3 48.4L179.2 48.9L180.6 47.4L177.7 46.9Z"/><path color="#f1cdba" d="M53.8 102.7L56.6 103.6L58.1 99.2L55.3 98.5Z"/><path color="#f7b194" d="M62.7 88.3L65.5 89L67 85.8L64.2 85.2Z"/><path color="#ef886b" d="M87.5 72.1L90.3 72.5L91.9 70.3L89 69.8Z"/><path color="#93b5fe" d="M70.7 154.3L73.5 155.2L74.9 144.2L72 143.3Z"/><path color="#de614d" d="M122.4 59.7L125.3 60.2L126.8 58.4L123.9 57.9Z"/><path color="#c12b30" d="M192.2 46.1L195.2 46.7L196.6 45.2L193.7 44.7Z"/><path color="#d0473d" d="M151.5 53L154.4 53.5L155.9 51.9L153 51.4Z"/><path color="#e2dad5" d="M53.7 113.8L56.5 114.7L57.9 109.2L55.1 108.4Z"/><path color="#ed8366" d="M91.9 70.3L94.7 70.7L96.2 68.6L93.4 68.1Z"/><path color="#e0654f" d="M118.1 61L120.9 61.5L122.4 59.7L119.6 59.2Z"/><path color="#d6dce4" d="M55.1 121L57.9 121.9L59.3 115.6L56.5 114.7Z"/><path color="#bb1b2c" d="M208.2 44L211.2 44.6L212.6 43.2L209.6 42.6Z"/><path color="#f59f80" d="M72.9 80.6L75.7 81.1L77.2 78.4L74.4 77.9Z"/><path color="#b70d28" d="M224.2 42.1L227.2 42.7L228.6 41.3L225.6 40.7Z"/><path color="#e26952" d="M113.7 62.4L116.6 62.9L118.1 61L115.2 60.6Z"/><path color="#eb7d62" d="M96.2 68.6L99.1 69.1L100.6 66.9L97.7 66.5Z"/><path color="#c83836" d="M171.9 49.3L174.8 49.9L176.3 48.4L173.3 47.8Z"/><path color="#e46e56" d="M109.3 63.9L112.2 64.4L113.7 62.4L110.8 61.9Z"/><path color="#e9785d" d="M100.6 66.9L103.4 67.4L105 65.4L102.1 64.9Z"/><path color="#e67259" d="M105 65.4L107.8 65.9L109.3 63.9L106.5 63.4Z"/><path color="#6b8df0" d="M83.5 172.7L86.4 173.5L87.7 159.4L84.8 158.6Z"/><path color="#b1cbfc" d="M63.6 140.8L66.4 141.7L67.7 132.7L64.9 131.9Z"/><path color="#d24b40" d="M147.2 54.1L150.1 54.6L151.5 53L148.6 52.5Z"/><path color="#c32e31" d="M187.9 47L190.8 47.6L192.2 46.1L189.3 45.6Z"/><path color="#f7b89c" d="M61.1 91.7L63.9 92.3L65.5 89L62.7 88.3Z"/><path color="#3c4ec2" d="M102.1 197.2L105 198.1L106.3 179.3L103.4 178.5Z"/><path color="#f7aa8c" d="M67 85.8L69.8 86.4L71.3 83.4L68.5 82.8Z"/><path color="#cb3e38" d="M167.5 50.4L170.4 50.9L171.9 49.3L169 48.8Z"/><path color="#f4987a" d="M77.2 78.4L80.1 78.9L81.6 76.4L78.8 75.9Z"/><path color="#b40426" d="M235.9 41.1L238.8 41.6L240.2 40.3L237.2 39.7Z"/><path color="#bd1f2d" d="M203.9 44.9L206.8 45.4L208.2 44L205.3 43.5Z"/><path color="#d55042" d="M142.8 55.2L145.7 55.8L147.2 54.1L144.3 53.6Z"/><path color="#b8122a" d="M219.9 42.9L222.8 43.5L224.2 42.1L221.3 41.5Z"/><path color="#c6d6f1" d="M59.3 130.2L62.1 131L63.5 123.6L60.7 122.8Z"/><path color="#f39475" d="M37.7 72.9L41.1 89L42.6 86L39.3 71.4Z"/><path color="#ead4c8" d="M55.1 108.4L57.9 109.2L59.4 104.4L56.6 103.6Z"/><path color="#d75445" d="M138.4 56.4L141.3 56.9L142.8 55.2L139.9 54.7Z"/><path color="#c43032" d="M183.5 48L186.5 48.5L187.9 47L185 46.5Z"/><path color="#cc403a" d="M163.2 51.4L166.1 51.9L167.5 50.4L164.6 49.8Z"/><path color="#f6bfa6" d="M59.6 95.3L62.4 96L63.9 92.3L61.1 91.7Z"/><path color="#f29274" d="M81.6 76.4L84.4 76.8L86 74.4L83.1 73.9Z"/><path color="#be242e" d="M199.5 45.8L202.5 46.3L203.9 44.9L200.9 44.3Z"/><path color="#d85646" d="M134.1 57.6L136.9 58.1L138.4 56.4L135.6 55.9Z"/><path color="#b50927" d="M231.5 41.9L234.5 42.4L235.9 41.1L232.9 40.5Z"/><path color="#ba162b" d="M215.5 43.7L218.5 44.3L219.9 42.9L216.9 42.4Z"/><path color="#f6a586" d="M71.3 83.4L74.2 83.9L75.7 81.1L72.9 80.6Z"/><path color="#f1cdba" d="M56.6 103.6L59.4 104.4L60.9 100L58.1 99.2Z"/><path color="#f4c6af" d="M58.1 99.2L60.9 100L62.4 96L59.6 95.3Z"/><path color="#f18d6f" d="M86 74.4L88.8 74.9L90.3 72.5L87.5 72.1Z"/><path color="#92b4fe" d="M73.5 155.2L76.3 156.1L77.7 145L74.9 144.2Z"/><path color="#cd423b" d="M158.8 52.4L161.7 52.9L163.2 51.4L160.3 50.8Z"/><path color="#c73635" d="M179.2 48.9L182.1 49.5L183.5 48L180.6 47.4Z"/><path color="#da5a49" d="M129.7 58.9L132.6 59.4L134.1 57.6L131.2 57.1Z"/><path color="#f7b194" d="M65.5 89L68.3 89.5L69.8 86.4L67 85.8Z"/><path color="#e1dad6" d="M56.5 114.7L59.3 115.6L60.8 110L57.9 109.2Z"/><path color="#d6dce4" d="M57.9 121.9L60.7 122.8L62.1 116.4L59.3 115.6Z"/><path color="#ee8669" d="M90.3 72.5L93.2 73L94.7 70.7L91.9 70.3Z"/><path color="#dd5f4b" d="M125.3 60.2L128.2 60.7L129.7 58.9L126.8 58.4Z"/><path color="#c0282f" d="M195.2 46.7L198.1 47.2L199.5 45.8L196.6 45.2Z"/><path color="#d0473d" d="M154.4 53.5L157.3 54L158.8 52.4L155.9 51.9Z"/><path color="#e0654f" d="M120.9 61.5L123.8 62L125.3 60.2L122.4 59.7Z"/><path color="#ec8165" d="M94.7 70.7L97.5 71.2L99.1 69.1L96.2 68.6Z"/><path color="#bb1b2c" d="M211.2 44.6L214.1 45.1L215.5 43.7L212.6 43.2Z"/><path color="#b70d28" d="M227.2 42.7L230.1 43.2L231.5 41.9L228.6 41.3Z"/><path color="#afcafc" d="M66.4 141.7L69.2 142.5L70.6 133.5L67.7 132.7Z"/><path color="#6b8df0" d="M86.4 173.5L89.2 174.4L90.5 160.2L87.7 159.4Z"/><path color="#c83836" d="M174.8 49.9L177.7 50.4L179.2 48.9L176.3 48.4Z"/><path color="#f59d7e" d="M75.7 81.1L78.5 81.6L80.1 78.9L77.2 78.4Z"/><path color="#e26952" d="M116.6 62.9L119.4 63.4L120.9 61.5L118.1 61Z"/><path color="#ea7b60" d="M99.1 69.1L101.9 69.5L103.4 67.4L100.6 66.9Z"/><path color="#e36c55" d="M112.2 64.4L115 64.8L116.6 62.9L113.7 62.4Z"/><path color="#e8765c" d="M103.4 67.4L106.3 67.9L107.8 65.9L105 65.4Z"/><path color="#e67259" d="M107.8 65.9L110.7 66.3L112.2 64.4L109.3 63.9Z"/><path color="#3c4ec2" d="M105 198.1L107.8 198.9L109.2 180.1L106.3 179.3Z"/><path color="#d24b40" d="M150.1 54.6L153 55.1L154.4 53.5L151.5 53Z"/><path color="#f7b89c" d="M63.9 92.3L66.8 93L68.3 89.5L65.5 89Z"/><path color="#c32e31" d="M190.8 47.6L193.7 48.1L195.2 46.7L192.2 46.1Z"/><path color="#c6d6f1" d="M62.1 131L64.9 131.9L66.3 124.4L63.5 123.6Z"/><path color="#f7aa8c" d="M69.8 86.4L72.6 86.9L74.2 83.9L71.3 83.4Z"/><path color="#ca3b37" d="M170.4 50.9L173.4 51.4L174.8 49.9L171.9 49.3Z"/><path color="#b40426" d="M238.8 41.6L241.8 42.2L243.2 40.9L240.2 40.3Z"/><path color="#f39778" d="M36.1 74.4L39.6 92.2L41.1 89L37.7 72.9Z"/><path color="#bd1f2d" d="M206.8 45.4L209.8 46L211.2 44.6L208.2 44Z"/><path color="#b8122a" d="M222.8 43.5L225.8 44L227.2 42.7L224.2 42.1Z"/><path color="#f39778" d="M80.1 78.9L82.9 79.4L84.4 76.8L81.6 76.4Z"/><path color="#d44e41" d="M145.7 55.8L148.6 56.3L150.1 54.6L147.2 54.1Z"/><path color="#ead4c8" d="M57.9 109.2L60.8 110L62.2 105.1L59.4 104.4Z"/><path color="#c43032" d="M186.5 48.5L189.4 49.1L190.8 47.6L187.9 47Z"/><path color="#f6bfa6" d="M62.4 96L65.2 96.6L66.8 93L63.9 92.3Z"/><path color="#d65244" d="M141.3 56.9L144.2 57.4L145.7 55.8L142.8 55.2Z"/><path color="#cc403a" d="M166.1 51.9L169 52.4L170.4 50.9L167.5 50.4Z"/><path color="#f29274" d="M84.4 76.8L87.3 77.3L88.8 74.9L86 74.4Z"/><path color="#f0cdbb" d="M59.4 104.4L62.2 105.1L63.7 100.7L60.9 100Z"/><path color="#be242e" d="M202.5 46.3L205.4 46.9L206.8 45.4L203.9 44.9Z"/><path color="#b40426" d="M234.5 42.4L237.5 43L238.8 41.6L235.9 41.1Z"/><path color="#f4c6af" d="M60.9 100L63.7 100.7L65.2 96.6L62.4 96Z"/><path color="#92b4fe" d="M76.3 156.1L79.2 156.9L80.5 145.8L77.7 145Z"/><path color="#ba162b" d="M218.5 44.3L221.4 44.9L222.8 43.5L219.9 42.9Z"/><path color="#d85646" d="M136.9 58.1L139.8 58.6L141.3 56.9L138.4 56.4Z"/><path color="#f6a385" d="M74.2 83.9L77 84.4L78.5 81.6L75.7 81.1Z"/><path color="#e1dad6" d="M59.3 115.6L62.1 116.4L63.6 110.8L60.8 110Z"/><path color="#d6dce4" d="M60.7 122.8L63.5 123.6L64.9 117.1L62.1 116.4Z"/><path color="#cd423b" d="M161.7 52.9L164.6 53.5L166.1 51.9L163.2 51.4Z"/><path color="#f08b6e" d="M88.8 74.9L91.6 75.4L93.2 73L90.3 72.5Z"/><path color="#c53334" d="M182.1 49.5L185 50L186.5 48.5L183.5 48Z"/><path color="#f7b194" d="M68.3 89.5L71.1 90.1L72.6 86.9L69.8 86.4Z"/><path color="#da5a49" d="M132.6 59.4L135.4 59.9L136.9 58.1L134.1 57.6Z"/><path color="#afcafc" d="M69.2 142.5L72 143.3L73.4 134.3L70.6 133.5Z"/><path color="#dd5f4b" d="M128.2 60.7L131.1 61.2L132.6 59.4L129.7 58.9Z"/><path color="#c0282f" d="M198.1 47.2L201 47.8L202.5 46.3L199.5 45.8Z"/><path color="#6b8df0" d="M89.2 174.4L92 175.2L93.4 161L90.5 160.2Z"/><path color="#ee8669" d="M93.2 73L96 73.5L97.5 71.2L94.7 70.7Z"/><path color="#d0473d" d="M157.3 54L160.2 54.6L161.7 52.9L158.8 52.4Z"/><path color="#b50927" d="M230.1 43.2L233.1 43.8L234.5 42.4L231.5 41.9Z"/><path color="#bb1b2c" d="M214.1 45.1L217.1 45.7L218.5 44.3L215.5 43.7Z"/><path color="#df634e" d="M123.8 62L126.7 62.5L128.2 60.7L125.3 60.2Z"/><path color="#c83836" d="M177.7 50.4L180.6 51L182.1 49.5L179.2 48.9Z"/><path color="#ec8165" d="M97.5 71.2L100.4 71.7L101.9 69.5L99.1 69.1Z"/><path color="#3c4ec2" d="M107.8 198.9L110.6 199.8L112 180.9L109.2 180.1Z"/><path color="#f59d7e" d="M78.5 81.6L81.4 82.1L82.9 79.4L80.1 78.9Z"/><path color="#e16751" d="M119.4 63.4L122.3 63.9L123.8 62L120.9 61.5Z"/><path color="#ea7b60" d="M101.9 69.5L104.8 70L106.3 67.9L103.4 67.4Z"/><path color="#f49a7b" d="M34.5 75.9L38 95.8L39.6 92.2L36.1 74.4Z"/><path color="#e36c55" d="M115 64.8L117.9 65.3L119.4 63.4L116.6 62.9Z"/><path color="#e8765c" d="M106.3 67.9L109.1 68.4L110.7 66.3L107.8 65.9Z"/><path color="#c5d6f2" d="M64.9 131.9L67.7 132.7L69.2 125.1L66.3 124.4Z"/><path color="#e57058" d="M110.7 66.3L113.5 66.8L115 64.8L112.2 64.4Z"/><path color="#d1493f" d="M153 55.1L155.9 55.7L157.3 54L154.4 53.5Z"/><path color="#f7b89c" d="M66.8 93L69.6 93.5L71.1 90.1L68.3 89.5Z"/><path color="#c12b30" d="M193.7 48.1L196.7 48.7L198.1 47.2L195.2 46.7Z"/><path color="#ead4c8" d="M60.8 110L63.6 110.8L65.1 105.8L62.2 105.1Z"/><path color="#ca3b37" d="M173.4 51.4L176.3 52L177.7 50.4L174.8 49.9Z"/><path color="#bd1f2d" d="M209.8 46L212.7 46.6L214.1 45.1L211.2 44.6Z"/><path color="#f7aa8c" d="M72.6 86.9L75.5 87.5L77 84.4L74.2 83.9Z"/><path color="#b70d28" d="M225.8 44L228.8 44.6L230.1 43.2L227.2 42.7Z"/><path color="#d44e41" d="M148.6 56.3L151.5 56.8L153 55.1L150.1 54.6Z"/><path color="#f39778" d="M82.9 79.4L85.7 79.9L87.3 77.3L84.4 76.8Z"/><path color="#f6bfa6" d="M65.2 96.6L68.1 97.3L69.6 93.5L66.8 93Z"/><path color="#c43032" d="M189.4 49.1L192.3 49.6L193.7 48.1L190.8 47.6Z"/><path color="#d65244" d="M144.2 57.4L147.1 58L148.6 56.3L145.7 55.8Z"/><path color="#cb3e38" d="M169 52.4L171.9 53L173.4 51.4L170.4 50.9Z"/><path color="#f0cdbb" d="M62.2 105.1L65.1 105.8L66.6 101.3L63.7 100.7Z"/><path color="#92b4fe" d="M79.2 156.9L82 157.7L83.4 146.5L80.5 145.8Z"/><path color="#be242e" d="M205.4 46.9L208.4 47.4L209.8 46L206.8 45.4Z"/><path color="#f29072" d="M87.3 77.3L90.1 77.8L91.6 75.4L88.8 74.9Z"/><path color="#f4c6af" d="M63.7 100.7L66.6 101.3L68.1 97.3L65.2 96.6Z"/><path color="#b40426" d="M237.5 43L240.4 43.6L241.8 42.2L238.8 41.6Z"/><path color="#d5dbe5" d="M63.5 123.6L66.3 124.4L67.8 117.9L64.9 117.1Z"/><path color="#b8122a" d="M221.4 44.9L224.4 45.4L225.8 44L222.8 43.5Z"/><path color="#e1dad6" d="M62.1 116.4L64.9 117.1L66.4 111.5L63.6 110.8Z"/><path color="#d85646" d="M139.8 58.6L142.7 59.2L144.2 57.4L141.3 56.9Z"/><path color="#f6a385" d="M77 84.4L79.8 84.9L81.4 82.1L78.5 81.6Z"/><path color="#cd423b" d="M164.6 53.5L167.5 54L169 52.4L166.1 51.9Z"/><path color="#c53334" d="M185 50L187.9 50.6L189.4 49.1L186.5 48.5Z"/><path color="#f7b093" d="M71.1 90.1L73.9 90.7L75.5 87.5L72.6 86.9Z"/><path color="#f08b6e" d="M91.6 75.4L94.5 75.9L96 73.5L93.2 73Z"/><path color="#afcafc" d="M72 143.3L74.9 144.2L76.2 135L73.4 134.3Z"/><path color="#da5a49" d="M135.4 59.9L138.3 60.4L139.8 58.6L136.9 58.1Z"/><path color="#6b8df0" d="M92 175.2L94.9 176L96.2 161.8L93.4 161Z"/><path color="#f59d7e" d="M32.8 77.3L36.5 99.7L38 95.8L34.5 75.9Z"/><path color="#c0282f" d="M201 47.8L204 48.3L205.4 46.9L202.5 46.3Z"/><path color="#dd5f4b" d="M131.1 61.2L133.9 61.7L135.4 59.9L132.6 59.4Z"/><path color="#ee8468" d="M96 73.5L98.9 74L100.4 71.7L97.5 71.2Z"/><path color="#b50927" d="M233.1 43.8L236.1 44.4L237.5 43L234.5 42.4Z"/><path color="#ba162b" d="M217.1 45.7L220 46.3L221.4 44.9L218.5 44.3Z"/><path color="#cf453c" d="M160.2 54.6L163.1 55.1L164.6 53.5L161.7 52.9Z"/><path color="#3b4cc0" d="M110.6 199.8L113.5 200.6L114.9 181.8L112 180.9Z"/><path color="#c73635" d="M180.6 51L183.6 51.5L185 50L182.1 49.5Z"/><path color="#df634e" d="M126.7 62.5L129.6 63L131.1 61.2L128.2 60.7Z"/><path color="#c5d6f2" d="M67.7 132.7L70.6 133.5L72 125.9L69.2 125.1Z"/><path color="#ec7f63" d="M100.4 71.7L103.2 72.2L104.8 70L101.9 69.5Z"/><path color="#f59d7e" d="M81.4 82.1L84.2 82.6L85.7 79.9L82.9 79.4Z"/><path color="#e16751" d="M122.3 63.9L125.2 64.4L126.7 62.5L123.8 62Z"/><path color="#e97a5f" d="M104.8 70L107.6 70.5L109.1 68.4L106.3 67.9Z"/><path color="#e36b54" d="M117.9 65.3L120.8 65.9L122.3 63.9L119.4 63.4Z"/><path color="#d1493f" d="M155.9 55.7L158.8 56.2L160.2 54.6L157.3 54Z"/><path color="#e8765c" d="M109.1 68.4L112 68.9L113.5 66.8L110.7 66.3Z"/><path color="#e57058" d="M113.5 66.8L116.4 67.4L117.9 65.3L115 64.8Z"/><path color="#f7b89c" d="M69.6 93.5L72.4 94.1L73.9 90.7L71.1 90.1Z"/><path color="#c12b30" d="M196.7 48.7L199.6 49.2L201 47.8L198.1 47.2Z"/><path color="#ead4c8" d="M63.6 110.8L66.4 111.5L67.9 106.5L65.1 105.8Z"/><path color="#ca3b37" d="M176.3 52L179.2 52.5L180.6 51L177.7 50.4Z"/><path color="#bd1f2d" d="M212.7 46.6L215.7 47.1L217.1 45.7L214.1 45.1Z"/><path color="#b70d28" d="M228.8 44.6L231.7 45.2L233.1 43.8L230.1 43.2Z"/><path color="#f7a98b" d="M75.5 87.5L78.3 88L79.8 84.9L77 84.4Z"/><path color="#d44e41" d="M151.5 56.8L154.4 57.3L155.9 55.7L153 55.1Z"/><path color="#f39778" d="M85.7 79.9L88.6 80.4L90.1 77.8L87.3 77.3Z"/><path color="#f6bea4" d="M68.1 97.3L70.9 97.9L72.4 94.1L69.6 93.5Z"/><path color="#c32e31" d="M192.3 49.6L195.3 50.2L196.7 48.7L193.7 48.1Z"/><path color="#92b4fe" d="M82 157.7L84.8 158.6L86.2 147.3L83.4 146.5Z"/><path color="#f1cdba" d="M65.1 105.8L67.9 106.5L69.4 102L66.6 101.3Z"/><path color="#f6a283" d="M31.2 78.8L35 104L36.5 99.7L32.8 77.3Z"/><path color="#cb3e38" d="M171.9 53L174.8 53.5L176.3 52L173.4 51.4Z"/><path color="#d65244" d="M147.1 58L150 58.5L151.5 56.8L148.6 56.3Z"/><path color="#d5dbe5" d="M66.3 124.4L69.2 125.1L70.6 118.6L67.8 117.9Z"/><path color="#f4c6af" d="M66.6 101.3L69.4 102L70.9 97.9L68.1 97.3Z"/><path color="#e1dad6" d="M64.9 117.1L67.8 117.9L69.2 112.2L66.4 111.5Z"/><path color="#be242e" d="M208.4 47.4L211.3 48L212.7 46.6L209.8 46Z"/><path color="#b8122a" d="M224.4 45.4L227.4 46L228.8 44.6L225.8 44Z"/><path color="#f29072" d="M90.1 77.8L92.9 78.3L94.5 75.9L91.6 75.4Z"/><path color="#d75445" d="M142.7 59.2L145.6 59.7L147.1 58L144.2 57.4Z"/><path color="#afcafc" d="M74.9 144.2L77.7 145L79.1 135.8L76.2 135Z"/><path color="#f6a385" d="M79.8 84.9L82.7 85.5L84.2 82.6L81.4 82.1Z"/><path color="#6a8bef" d="M94.9 176L97.7 176.9L99.1 162.6L96.2 161.8Z"/><path color="#cd423b" d="M167.5 54L170.4 54.6L171.9 53L169 52.4Z"/><path color="#c53334" d="M187.9 50.6L190.9 51.1L192.3 49.6L189.4 49.1Z"/><path color="#f7b093" d="M73.9 90.7L76.8 91.2L78.3 88L75.5 87.5Z"/><path color="#d95847" d="M138.3 60.4L141.2 61L142.7 59.2L139.8 58.6Z"/><path color="#f08a6c" d="M94.5 75.9L97.3 76.4L98.9 74L96 73.5Z"/><path color="#3b4cc0" d="M113.5 200.6L116.4 201.5L117.8 182.5L114.9 181.8Z"/><path color="#c0282f" d="M204 48.3L206.9 48.9L208.4 47.4L205.4 46.9Z"/><path color="#b50927" d="M236.1 44.4L239.1 44.9L240.4 43.6L237.5 43Z"/><path color="#dc5d4a" d="M133.9 61.7L136.8 62.2L138.3 60.4L135.4 59.9Z"/><path color="#ba162b" d="M220 46.3L223 46.8L224.4 45.4L221.4 44.9Z"/><path color="#cf453c" d="M163.1 55.1L166.1 55.6L167.5 54L164.6 53.5Z"/><path color="#ee8468" d="M98.9 74L101.7 74.5L103.2 72.2L100.4 71.7Z"/><path color="#c5d6f2" d="M70.6 133.5L73.4 134.3L74.8 126.6L72 125.9Z"/><path color="#c73635" d="M183.6 51.5L186.5 52.1L187.9 50.6L185 50Z"/><path color="#de614d" d="M129.6 63L132.4 63.5L133.9 61.7L131.1 61.2Z"/><path color="#f7a688" d="M29.6 80.2L33.6 108.9L35 104L31.2 78.8Z"/><path color="#ec7f63" d="M103.2 72.2L106.1 72.7L107.6 70.5L104.8 70Z"/><path color="#f59c7d" d="M84.2 82.6L87 83.2L88.6 80.4L85.7 79.9Z"/><path color="#e16751" d="M125.2 64.4L128 64.9L129.6 63L126.7 62.5Z"/><path color="#e97a5f" d="M107.6 70.5L110.5 71L112 68.9L109.1 68.4Z"/><path color="#ead4c8" d="M66.4 111.5L69.2 112.2L70.7 107.2L67.9 106.5Z"/><path color="#e36b54" d="M120.8 65.9L123.7 66.4L125.2 64.4L122.3 63.9Z"/><path color="#d1493f" d="M158.8 56.2L161.7 56.7L163.1 55.1L160.2 54.6Z"/><path color="#c12b30" d="M199.6 49.2L202.6 49.8L204 48.3L201 47.8Z"/><path color="#f7b79b" d="M72.4 94.1L75.2 94.7L76.8 91.2L73.9 90.7Z"/><path color="#e57058" d="M116.4 67.4L119.3 67.9L120.8 65.9L117.9 65.3Z"/><path color="#e7745b" d="M112 68.9L114.9 69.4L116.4 67.4L113.5 66.8Z"/><path color="#bb1b2c" d="M215.7 47.1L218.6 47.7L220 46.3L217.1 45.7Z"/><path color="#c83836" d="M179.2 52.5L182.1 53.1L183.6 51.5L180.6 51Z"/><path color="#b70d28" d="M231.7 45.2L234.7 45.8L236.1 44.4L233.1 43.8Z"/><path color="#f7a98b" d="M78.3 88L81.1 88.5L82.7 85.5L79.8 84.9Z"/><path color="#d24b40" d="M154.4 57.3L157.3 57.9L158.8 56.2L155.9 55.7Z"/><path color="#92b4fe" d="M84.8 158.6L87.7 159.4L89.1 148.1L86.2 147.3Z"/><path color="#f39577" d="M88.6 80.4L91.4 80.9L92.9 78.3L90.1 77.8Z"/><path color="#f6bea4" d="M70.9 97.9L73.7 98.5L75.2 94.7L72.4 94.1Z"/><path color="#f7aa8c" d="M27.9 81.6L32.1 114.4L33.6 108.9L29.6 80.2Z"/><path color="#c32e31" d="M195.3 50.2L198.2 50.7L199.6 49.2L196.7 48.7Z"/><path color="#f1cdba" d="M67.9 106.5L70.7 107.2L72.2 102.6L69.4 102Z"/><path color="#d5dbe5" d="M69.2 125.1L72 125.9L73.4 119.3L70.6 118.6Z"/><path color="#cb3e38" d="M174.8 53.5L177.7 54.1L179.2 52.5L176.3 52Z"/><path color="#e1dad6" d="M67.8 117.9L70.6 118.6L72.1 112.9L69.2 112.2Z"/><path color="#d55042" d="M150 58.5L152.9 59L154.4 57.3L151.5 56.8Z"/><path color="#f4c6af" d="M69.4 102L72.2 102.6L73.7 98.5L70.9 97.9Z"/><path color="#bd1f2d" d="M211.3 48L214.3 48.6L215.7 47.1L212.7 46.6Z"/><path color="#b8122a" d="M227.4 46L230.3 46.6L231.7 45.2L228.8 44.6Z"/><path color="#afcafc" d="M77.7 145L80.5 145.8L81.9 136.5L79.1 135.8Z"/><path color="#f18f71" d="M92.9 78.3L95.8 78.9L97.3 76.4L94.5 75.9Z"/><path color="#6a8bef" d="M97.7 176.9L100.6 177.7L102 163.4L99.1 162.6Z"/><path color="#f7af91" d="M26.3 83L30.7 120.6L32.1 114.4L27.9 81.6Z"/><path color="#d75445" d="M145.6 59.7L148.5 60.2L150 58.5L147.1 58Z"/><path color="#c43032" d="M190.9 51.1L193.8 51.7L195.3 50.2L192.3 49.6Z"/><path color="#cc403a" d="M170.4 54.6L173.4 55.1L174.8 53.5L171.9 53Z"/><path color="#f6a283" d="M82.7 85.5L85.5 86L87 83.2L84.2 82.6Z"/><path color="#f7b497" d="M24.6 84.3L29.4 127.3L30.7 120.6L26.3 83Z"/><path color="#3b4cc0" d="M116.4 201.5L119.2 202.3L120.7 183.4L117.8 182.5Z"/><path color="#f7b093" d="M76.8 91.2L79.6 91.8L81.1 88.5L78.3 88Z"/><path color="#d95847" d="M141.2 61L144.1 61.5L145.6 59.7L142.7 59.2Z"/><path color="#f08a6c" d="M97.3 76.4L100.2 76.9L101.7 74.5L98.9 74Z"/><path color="#c0282f" d="M206.9 48.9L209.9 49.5L211.3 48L208.4 47.4Z"/><path color="#c5d6f2" d="M73.4 134.3L76.2 135L77.7 127.3L74.8 126.6Z"/><path color="#f7b99e" d="M23 85.6L27.9 133.3L29.4 127.3L24.6 84.3Z"/><path color="#ba162b" d="M223 46.8L226 47.4L227.4 46L224.4 45.4Z"/><path color="#dc5d4a" d="M136.8 62.2L139.7 62.8L141.2 61L138.3 60.4Z"/><path color="#cf453c" d="M166.1 55.6L169 56.2L170.4 54.6L167.5 54Z"/><path color="#ee8468" d="M101.7 74.5L104.6 75L106.1 72.7L103.2 72.2Z"/><path color="#c73635" d="M186.5 52.1L189.4 52.6L190.9 51.1L187.9 50.6Z"/><path color="#de614d" d="M132.4 63.5L135.3 64.1L136.8 62.2L133.9 61.7Z"/><path color="#eb7d62" d="M106.1 72.7L109 73.2L110.5 71L107.6 70.5Z"/><path color="#ead4c8" d="M69.2 112.2L72.1 112.9L73.6 107.8L70.7 107.2Z"/><path color="#e0654f" d="M128 64.9L130.9 65.5L132.4 63.5L129.6 63Z"/><path color="#f59c7d" d="M87 83.2L89.9 83.7L91.4 80.9L88.6 80.4Z"/><path color="#c12b30" d="M202.6 49.8L205.5 50.4L206.9 48.9L204 48.3Z"/><path color="#d0473d" d="M161.7 56.7L164.6 57.3L166.1 55.6L163.1 55.1Z"/><path color="#e97a5f" d="M110.5 71L113.4 71.5L114.9 69.4L112 68.9Z"/><path color="#e36b54" d="M123.7 66.4L126.5 66.9L128 64.9L125.2 64.4Z"/><path color="#f7b79b" d="M75.2 94.7L78.1 95.3L79.6 91.8L76.8 91.2Z"/><path color="#e46e56" d="M119.3 67.9L122.1 68.4L123.7 66.4L120.8 65.9Z"/><path color="#e7745b" d="M114.9 69.4L117.7 69.9L119.3 67.9L116.4 67.4Z"/><path color="#bb1b2c" d="M218.6 47.7L221.6 48.3L223 46.8L220 46.3Z"/><path color="#b70d28" d="M234.7 45.8L237.7 46.3L239.1 44.9L236.1 44.4Z"/><path color="#c83836" d="M182.1 53.1L185.1 53.6L186.5 52.1L183.6 51.5Z"/><path color="#92b4fe" d="M87.7 159.4L90.5 160.2L91.9 148.9L89.1 148.1Z"/><path color="#f7a98b" d="M81.1 88.5L84 89.1L85.5 86L82.7 85.5Z"/><path color="#d24b40" d="M157.3 57.9L160.2 58.4L161.7 56.7L158.8 56.2Z"/><path color="#f6bea4" d="M73.7 98.5L76.6 99.1L78.1 95.3L75.2 94.7Z"/><path color="#f1cdba" d="M70.7 107.2L73.6 107.8L75 103.3L72.2 102.6Z"/><path color="#d5dbe5" d="M72 125.9L74.8 126.6L76.3 120L73.4 119.3Z"/><path color="#f39577" d="M91.4 80.9L94.3 81.5L95.8 78.9L92.9 78.3Z"/><path color="#c32e31" d="M198.2 50.7L201.1 51.3L202.6 49.8L199.6 49.2Z"/><path color="#e1dad6" d="M70.6 118.6L73.4 119.3L74.9 113.6L72.1 112.9Z"/><path color="#cb3e38" d="M177.7 54.1L180.7 54.6L182.1 53.1L179.2 52.5Z"/><path color="#f4c6af" d="M72.2 102.6L75 103.3L76.6 99.1L73.7 98.5Z"/><path color="#d55042" d="M152.9 59L155.8 59.6L157.3 57.9L154.4 57.3Z"/><path color="#bd1f2d" d="M214.3 48.6L217.2 49.2L218.6 47.7L215.7 47.1Z"/><path color="#afcafc" d="M80.5 145.8L83.4 146.5L84.8 137.3L81.9 136.5Z"/><path color="#b8122a" d="M230.3 46.6L233.3 47.2L234.7 45.8L231.7 45.2Z"/><path color="#6a8bef" d="M100.6 177.7L103.4 178.5L104.8 164.1L102 163.4Z"/><path color="#f18f71" d="M95.8 78.9L98.6 79.4L100.2 76.9L97.3 76.4Z"/><path color="#d75445" d="M148.5 60.2L151.4 60.8L152.9 59L150 58.5Z"/><path color="#3b4cc0" d="M119.2 202.3L122.1 203.2L123.6 184.2L120.7 183.4Z"/><path color="#c43032" d="M193.8 51.7L196.8 52.2L198.2 50.7L195.3 50.2Z"/><path color="#cc403a" d="M173.4 55.1L176.3 55.7L177.7 54.1L174.8 53.5Z"/><path color="#f6a283" d="M85.5 86L88.3 86.6L89.9 83.7L87 83.2Z"/><path color="#f7af91" d="M79.6 91.8L82.4 92.4L84 89.1L81.1 88.5Z"/><path color="#d95847" d="M144.1 61.5L147 62L148.5 60.2L145.6 59.7Z"/><path color="#c5d6f2" d="M76.2 135L79.1 135.8L80.5 128.1L77.7 127.3Z"/><path color="#be242e" d="M209.9 49.5L212.9 50L214.3 48.6L211.3 48Z"/><path color="#ef886b" d="M100.2 76.9L103 77.4L104.6 75L101.7 74.5Z"/><path color="#ba162b" d="M226 47.4L228.9 48L230.3 46.6L227.4 46Z"/><path color="#cf453c" d="M169 56.2L171.9 56.7L173.4 55.1L170.4 54.6Z"/><path color="#dc5d4a" d="M139.7 62.8L142.6 63.3L144.1 61.5L141.2 61Z"/><path color="#c73635" d="M189.4 52.6L192.4 53.2L193.8 51.7L190.9 51.1Z"/><path color="#ed8366" d="M104.6 75L107.4 75.5L109 73.2L106.1 72.7Z"/><path color="#de614d" d="M135.3 64.1L138.2 64.6L139.7 62.8L136.8 62.2Z"/><path color="#ead4c8" d="M72.1 112.9L74.9 113.6L76.4 108.5L73.6 107.8Z"/><path color="#eb7d62" d="M109 73.2L111.8 73.8L113.4 71.5L110.5 71Z"/><path color="#e0654f" d="M130.9 65.5L133.8 66L135.3 64.1L132.4 63.5Z"/><path color="#f49a7b" d="M89.9 83.7L92.7 84.2L94.3 81.5L91.4 80.9Z"/><path color="#c12b30" d="M205.5 50.4L208.5 50.9L209.9 49.5L206.9 48.9Z"/><path color="#d0473d" d="M164.6 57.3L167.5 57.8L169 56.2L166.1 55.6Z"/><path color="#f7b79b" d="M78.1 95.3L80.9 95.9L82.4 92.4L79.6 91.8Z"/><path color="#e26952" d="M126.5 66.9L129.4 67.4L130.9 65.5L128 64.9Z"/><path color="#e9785d" d="M113.4 71.5L116.2 72.1L117.7 69.9L114.9 69.4Z"/><path color="#e46e56" d="M122.1 68.4L125 68.9L126.5 66.9L123.7 66.4Z"/><path color="#e67259" d="M117.7 69.9L120.6 70.4L122.1 68.4L119.3 67.9Z"/><path color="#bb1b2c" d="M221.6 48.3L224.6 48.8L226 47.4L223 46.8Z"/><path color="#92b4fe" d="M90.5 160.2L93.4 161L94.8 149.6L91.9 148.9Z"/><path color="#c83836" d="M185.1 53.6L188 54.2L189.4 52.6L186.5 52.1Z"/><path color="#f7a889" d="M84 89.1L86.8 89.7L88.3 86.6L85.5 86Z"/><path color="#d24b40" d="M160.2 58.4L163.1 59L164.6 57.3L161.7 56.7Z"/><path color="#d5dbe5" d="M74.8 126.6L77.7 127.3L79.1 120.7L76.3 120Z"/><path color="#f1cdba" d="M73.6 107.8L76.4 108.5L77.9 103.9L75 103.3Z"/><path color="#e1dad6" d="M73.4 119.3L76.3 120L77.7 114.2L74.9 113.6Z"/><path color="#f6bea4" d="M76.6 99.1L79.4 99.7L80.9 95.9L78.1 95.3Z"/><path color="#c32e31" d="M201.1 51.3L204.1 51.9L205.5 50.4L202.6 49.8Z"/><path color="#f39475" d="M94.3 81.5L97.1 82L98.6 79.4L95.8 78.9Z"/><path color="#ca3b37" d="M180.7 54.6L183.6 55.2L185.1 53.6L182.1 53.1Z"/><path color="#afcafc" d="M83.4 146.5L86.2 147.3L87.6 138.1L84.8 137.3Z"/><path color="#f4c5ad" d="M75 103.3L77.9 103.9L79.4 99.7L76.6 99.1Z"/><path color="#6a8bef" d="M103.4 178.5L106.3 179.3L107.7 164.9L104.8 164.1Z"/><path color="#bd1f2d" d="M217.2 49.2L220.2 49.7L221.6 48.3L218.6 47.7Z"/><path color="#d55042" d="M155.8 59.6L158.7 60.1L160.2 58.4L157.3 57.9Z"/><path color="#b8122a" d="M233.3 47.2L236.3 47.7L237.7 46.3L234.7 45.8Z"/><path color="#3b4cc0" d="M122.1 203.2L125 204L126.5 185L123.6 184.2Z"/><path color="#d65244" d="M151.4 60.8L154.3 61.3L155.8 59.6L152.9 59Z"/><path color="#f18f71" d="M98.6 79.4L101.5 79.9L103 77.4L100.2 76.9Z"/><path color="#c43032" d="M196.8 52.2L199.7 52.8L201.1 51.3L198.2 50.7Z"/><path color="#cc403a" d="M176.3 55.7L179.2 56.2L180.7 54.6L177.7 54.1Z"/><path color="#c5d6f2" d="M79.1 135.8L81.9 136.5L83.4 128.8L80.5 128.1Z"/><path color="#f5a081" d="M88.3 86.6L91.2 87.1L92.7 84.2L89.9 83.7Z"/><path color="#f7af91" d="M82.4 92.4L85.3 92.9L86.8 89.7L84 89.1Z"/><path color="#be242e" d="M212.9 50L215.8 50.6L217.2 49.2L214.3 48.6Z"/><path color="#d85646" d="M147 62L149.9 62.6L151.4 60.8L148.5 60.2Z"/><path color="#ba162b" d="M228.9 48L231.9 48.6L233.3 47.2L230.3 46.6Z"/><path color="#ef886b" d="M103 77.4L105.9 77.9L107.4 75.5L104.6 75Z"/><path color="#cd423b" d="M171.9 56.7L174.8 57.3L176.3 55.7L173.4 55.1Z"/><path color="#da5a49" d="M142.6 63.3L145.5 63.8L147 62L144.1 61.5Z"/><path color="#c53334" d="M192.4 53.2L195.3 53.8L196.8 52.2L193.8 51.7Z"/><path color="#ed8366" d="M107.4 75.5L110.3 76.1L111.8 73.8L109 73.2Z"/><path color="#ead4c8" d="M74.9 113.6L77.7 114.2L79.2 109.1L76.4 108.5Z"/><path color="#dd5f4b" d="M138.2 64.6L141.1 65.2L142.6 63.3L139.7 62.8Z"/><path color="#c0282f" d="M208.5 50.9L211.4 51.5L212.9 50L209.9 49.5Z"/><path color="#eb7d62" d="M111.8 73.8L114.7 74.3L116.2 72.1L113.4 71.5Z"/><path color="#e0654f" d="M133.8 66L136.7 66.5L138.2 64.6L135.3 64.1Z"/><path color="#d0473d" d="M167.5 57.8L170.4 58.4L171.9 56.7L169 56.2Z"/><path color="#92b4fe" d="M93.4 161L96.2 161.8L97.6 150.3L94.8 149.6Z"/><path color="#f49a7b" d="M92.7 84.2L95.6 84.7L97.1 82L94.3 81.5Z"/><path color="#f7b599" d="M80.9 95.9L83.8 96.5L85.3 92.9L82.4 92.4Z"/><path color="#e26952" d="M129.4 67.4L132.3 67.9L133.8 66L130.9 65.5Z"/><path color="#bb1b2c" d="M224.6 48.8L227.6 49.4L228.9 48L226 47.4Z"/><path color="#e9785d" d="M116.2 72.1L119.1 72.6L120.6 70.4L117.7 69.9Z"/><path color="#e36c55" d="M125 68.9L127.9 69.4L129.4 67.4L126.5 66.9Z"/><path color="#e67259" d="M120.6 70.4L123.5 71L125 68.9L122.1 68.4Z"/><path color="#c83836" d="M188 54.2L190.9 54.8L192.4 53.2L189.4 52.6Z"/><path color="#d5dbe5" d="M77.7 127.3L80.5 128.1L82 121.4L79.1 120.7Z"/><path color="#d24b40" d="M163.1 59L166 59.5L167.5 57.8L164.6 57.3Z"/><path color="#f7a889" d="M86.8 89.7L89.7 90.2L91.2 87.1L88.3 86.6Z"/><path color="#e1dad6" d="M76.3 120L79.1 120.7L80.6 114.9L77.7 114.2Z"/><path color="#f1cdba" d="M76.4 108.5L79.2 109.1L80.7 104.5L77.9 103.9Z"/><path color="#f6bda2" d="M79.4 99.7L82.2 100.3L83.8 96.5L80.9 95.9Z"/><path color="#c32e31" d="M204.1 51.9L207.1 52.4L208.5 50.9L205.5 50.4Z"/><path color="#afcafc" d="M86.2 147.3L89.1 148.1L90.5 138.8L87.6 138.1Z"/><path color="#6a8bef" d="M106.3 179.3L109.2 180.1L110.6 165.7L107.7 164.9Z"/><path color="#f39475" d="M97.1 82L100 82.5L101.5 79.9L98.6 79.4Z"/><path color="#ca3b37" d="M183.6 55.2L186.6 55.8L188 54.2L185.1 53.6Z"/><path color="#f4c5ad" d="M77.9 103.9L80.7 104.5L82.2 100.3L79.4 99.7Z"/><path color="#bd1f2d" d="M220.2 49.7L223.2 50.3L224.6 48.8L221.6 48.3Z"/><path color="#d44e41" d="M158.7 60.1L161.6 60.7L163.1 59L160.2 58.4Z"/><path color="#3b4cc0" d="M125 204L127.8 204.9L129.4 185.8L126.5 185Z"/><path color="#d65244" d="M154.3 61.3L157.2 61.9L158.7 60.1L155.8 59.6Z"/><path color="#c43032" d="M199.7 52.8L202.7 53.4L204.1 51.9L201.1 51.3Z"/><path color="#f18d6f" d="M101.5 79.9L104.4 80.4L105.9 77.9L103 77.4Z"/><path color="#c5d6f2" d="M81.9 136.5L84.8 137.3L86.2 129.5L83.4 128.8Z"/><path color="#cc403a" d="M179.2 56.2L182.2 56.8L183.6 55.2L180.7 54.6Z"/><path color="#f5a081" d="M91.2 87.1L94.1 87.7L95.6 84.7L92.7 84.2Z"/><path color="#be242e" d="M215.8 50.6L218.8 51.2L220.2 49.7L217.2 49.2Z"/><path color="#f7af91" d="M85.3 92.9L88.1 93.5L89.7 90.2L86.8 89.7Z"/><path color="#d85646" d="M149.9 62.6L152.8 63.1L154.3 61.3L151.4 60.8Z"/><path color="#b8122a" d="M231.9 48.6L234.9 49.1L236.3 47.7L233.3 47.2Z"/><path color="#ef886b" d="M105.9 77.9L108.8 78.5L110.3 76.1L107.4 75.5Z"/><path color="#cd423b" d="M174.8 57.3L177.8 57.9L179.2 56.2L176.3 55.7Z"/><path color="#da5a49" d="M145.5 63.8L148.4 64.4L149.9 62.6L147 62Z"/><path color="#c53334" d="M195.3 53.8L198.3 54.3L199.7 52.8L196.8 52.2Z"/><path color="#ebd3c6" d="M77.7 114.2L80.6 114.9L82.1 109.8L79.2 109.1Z"/><path color="#ec8165" d="M110.3 76.1L113.2 76.6L114.7 74.3L111.8 73.8Z"/><path color="#dd5f4b" d="M141.1 65.2L144 65.7L145.5 63.8L142.6 63.3Z"/><path color="#92b4fe" d="M96.2 161.8L99.1 162.6L100.5 151.1L97.6 150.3Z"/><path color="#c0282f" d="M211.4 51.5L214.4 52.1L215.8 50.6L212.9 50Z"/><path color="#df634e" d="M136.7 66.5L139.6 67.1L141.1 65.2L138.2 64.6Z"/><path color="#d0473d" d="M170.4 58.4L173.4 59L174.8 57.3L171.9 56.7Z"/><path color="#ea7b60" d="M114.7 74.3L117.6 74.8L119.1 72.6L116.2 72.1Z"/><path color="#f49a7b" d="M95.6 84.7L98.4 85.3L100 82.5L97.1 82Z"/><path color="#ba162b" d="M227.6 49.4L230.5 50L231.9 48.6L228.9 48Z"/><path color="#f7b599" d="M83.8 96.5L86.6 97.1L88.1 93.5L85.3 92.9Z"/><path color="#e26952" d="M132.3 67.9L135.2 68.5L136.7 66.5L133.8 66Z"/><path color="#e8765c" d="M119.1 72.6L122 73.1L123.5 71L120.6 70.4Z"/><path color="#c73635" d="M190.9 54.8L193.9 55.3L195.3 53.8L192.4 53.2Z"/><path color="#e36c55" d="M127.9 69.4L130.8 70L132.3 67.9L129.4 67.4Z"/><path color="#e67259" d="M123.5 71L126.4 71.5L127.9 69.4L125 68.9Z"/><path color="#d5dbe5" d="M80.5 128.1L83.4 128.8L84.8 122.1L82 121.4Z"/><path color="#e1dad6" d="M79.1 120.7L82 121.4L83.4 115.6L80.6 114.9Z"/><path color="#d1493f" d="M166 59.5L169 60.1L170.4 58.4L167.5 57.8Z"/><path color="#f7a889" d="M89.7 90.2L92.5 90.8L94.1 87.7L91.2 87.1Z"/><path color="#f1cdba" d="M79.2 109.1L82.1 109.8L83.6 105.1L80.7 104.5Z"/><path color="#6a8bef" d="M109.2 180.1L112 180.9L113.5 166.5L110.6 165.7Z"/><path color="#afcafc" d="M89.1 148.1L91.9 148.9L93.3 139.5L90.5 138.8Z"/><path color="#c12b30" d="M207.1 52.4L210 53L211.4 51.5L208.5 50.9Z"/><path color="#f6bda2" d="M82.2 100.3L85.1 100.9L86.6 97.1L83.8 96.5Z"/><path color="#ca3b37" d="M186.6 55.8L189.5 56.3L190.9 54.8L188 54.2Z"/><path color="#f39475" d="M100 82.5L102.8 83.1L104.4 80.4L101.5 79.9Z"/><path color="#f4c5ad" d="M80.7 104.5L83.6 105.1L85.1 100.9L82.2 100.3Z"/><path color="#3b4cc0" d="M127.8 204.9L130.7 205.7L132.3 186.5L129.4 185.8Z"/><path color="#bd1f2d" d="M223.2 50.3L226.2 50.9L227.6 49.4L224.6 48.8Z"/><path color="#d44e41" d="M161.6 60.7L164.6 61.2L166 59.5L163.1 59Z"/><path color="#c5d6f2" d="M84.8 137.3L87.6 138.1L89.1 130.2L86.2 129.5Z"/><path color="#c43032" d="M202.7 53.4L205.6 53.9L207.1 52.4L204.1 51.9Z"/><path color="#d65244" d="M157.2 61.9L160.2 62.4L161.6 60.7L158.7 60.1Z"/><path color="#cb3e38" d="M182.2 56.8L185.1 57.4L186.6 55.8L183.6 55.2Z"/><path color="#f18d6f" d="M104.4 80.4L107.2 81L108.8 78.5L105.9 77.9Z"/><path color="#be242e" d="M218.8 51.2L221.8 51.8L223.2 50.3L220.2 49.7Z"/><path color="#f5a081" d="M94.1 87.7L96.9 88.2L98.4 85.3L95.6 84.7Z"/><path color="#f7ad90" d="M88.1 93.5L91 94.1L92.5 90.8L89.7 90.2Z"/><path color="#d85646" d="M152.8 63.1L155.8 63.7L157.2 61.9L154.3 61.3Z"/><path color="#ee8669" d="M108.8 78.5L111.7 79L113.2 76.6L110.3 76.1Z"/><path color="#cd423b" d="M177.8 57.9L180.7 58.4L182.2 56.8L179.2 56.2Z"/><path color="#c53334" d="M198.3 54.3L201.2 54.9L202.7 53.4L199.7 52.8Z"/><path color="#da5a49" d="M148.4 64.4L151.3 64.9L152.8 63.1L149.9 62.6Z"/><path color="#ebd3c6" d="M80.6 114.9L83.4 115.6L84.9 110.4L82.1 109.8Z"/><path color="#92b4fe" d="M99.1 162.6L102 163.4L103.4 151.9L100.5 151.1Z"/><path color="#ec8165" d="M113.2 76.6L116.1 77.1L117.6 74.8L114.7 74.3Z"/><path color="#dd5f4b" d="M144 65.7L146.9 66.3L148.4 64.4L145.5 63.8Z"/><path color="#c0282f" d="M214.4 52.1L217.4 52.7L218.8 51.2L215.8 50.6Z"/><path color="#cf453c" d="M173.4 59L176.3 59.5L177.8 57.9L174.8 57.3Z"/><path color="#df634e" d="M139.6 67.1L142.5 67.6L144 65.7L141.1 65.2Z"/><path color="#ba162b" d="M230.5 50L233.5 50.6L234.9 49.1L231.9 48.6Z"/><path color="#ea7b60" d="M117.6 74.8L120.5 75.4L122 73.1L119.1 72.6Z"/><path color="#f7b599" d="M86.6 97.1L89.5 97.7L91 94.1L88.1 93.5Z"/><path color="#f4987a" d="M98.4 85.3L101.3 85.9L102.8 83.1L100 82.5Z"/><path color="#c73635" d="M193.9 55.3L196.9 55.9L198.3 54.3L195.3 53.8Z"/><path color="#e16751" d="M135.2 68.5L138.1 69.1L139.6 67.1L136.7 66.5Z"/><path color="#e8765c" d="M122 73.1L124.9 73.7L126.4 71.5L123.5 71Z"/><path color="#d6dce4" d="M83.4 128.8L86.2 129.5L87.7 122.8L84.8 122.1Z"/><path color="#e36c55" d="M130.8 70L133.7 70.5L135.2 68.5L132.3 67.9Z"/><path color="#e57058" d="M126.4 71.5L129.3 72.1L130.8 70L127.9 69.4Z"/><path color="#6a8bef" d="M112 180.9L114.9 181.8L116.4 167.2L113.5 166.5Z"/><path color="#e2dad5" d="M82 121.4L84.8 122.1L86.3 116.2L83.4 115.6Z"/><path color="#afcafc" d="M91.9 148.9L94.8 149.6L96.2 140.2L93.3 139.5Z"/><path color="#d1493f" d="M169 60.1L171.9 60.7L173.4 59L170.4 58.4Z"/><path color="#f1ccb8" d="M82.1 109.8L84.9 110.4L86.4 105.7L83.6 105.1Z"/><path color="#f7a688" d="M92.5 90.8L95.4 91.3L96.9 88.2L94.1 87.7Z"/><path color="#c12b30" d="M210 53L213 53.6L214.4 52.1L211.4 51.5Z"/><path color="#f6bda2" d="M85.1 100.9L88 101.5L89.5 97.7L86.6 97.1Z"/><path color="#3b4cc0" d="M130.7 205.7L133.6 206.5L135.2 187.4L132.3 186.5Z"/><path color="#ca3b37" d="M189.5 56.3L192.5 56.9L193.9 55.3L190.9 54.8Z"/><path color="#f4c5ad" d="M83.6 105.1L86.4 105.7L88 101.5L85.1 100.9Z"/><path color="#bb1b2c" d="M226.2 50.9L229.1 51.5L230.5 50L227.6 49.4Z"/><path color="#f29274" d="M102.8 83.1L105.7 83.6L107.2 81L104.4 80.4Z"/><path color="#d44e41" d="M164.6 61.2L167.5 61.8L169 60.1L166 59.5Z"/><path color="#c5d6f2" d="M87.6 138.1L90.5 138.8L91.9 130.9L89.1 130.2Z"/><path color="#c32e31" d="M205.6 53.9L208.6 54.5L210 53L207.1 52.4Z"/><path color="#d65244" d="M160.2 62.4L163.1 63L164.6 61.2L161.6 60.7Z"/><path color="#cb3e38" d="M185.1 57.4L188.1 57.9L189.5 56.3L186.6 55.8Z"/><path color="#f18d6f" d="M107.2 81L110.1 81.5L111.7 79L108.8 78.5Z"/><path color="#be242e" d="M221.8 51.8L224.8 52.3L226.2 50.9L223.2 50.3Z"/><path color="#f59f80" d="M96.9 88.2L99.8 88.8L101.3 85.9L98.4 85.3Z"/><path color="#f7ad90" d="M91 94.1L93.9 94.7L95.4 91.3L92.5 90.8Z"/><path color="#d75445" d="M155.8 63.7L158.7 64.2L160.2 62.4L157.2 61.9Z"/><path color="#cd423b" d="M180.7 58.4L183.7 59L185.1 57.4L182.2 56.8Z"/><path color="#ee8669" d="M111.7 79L114.5 79.6L116.1 77.1L113.2 76.6Z"/><path color="#c53334" d="M201.2 54.9L204.2 55.5L205.6 53.9L202.7 53.4Z"/><path color="#ebd3c6" d="M83.4 115.6L86.3 116.2L87.8 111L84.9 110.4Z"/><path color="#d95847" d="M151.3 64.9L154.3 65.5L155.8 63.7L152.8 63.1Z"/><path color="#92b4fe" d="M102 163.4L104.8 164.1L106.3 152.6L103.4 151.9Z"/><path color="#ec8165" d="M116.1 77.1L118.9 77.7L120.5 75.4L117.6 74.8Z"/><path color="#dd5f4b" d="M146.9 66.3L149.9 66.8L151.3 64.9L148.4 64.4Z"/><path color="#c0282f" d="M217.4 52.7L220.4 53.3L221.8 51.8L218.8 51.2Z"/><path color="#cf453c" d="M176.3 59.5L179.2 60.1L180.7 58.4L177.8 57.9Z"/><path color="#df634e" d="M142.5 67.6L145.4 68.2L146.9 66.3L144 65.7Z"/><path color="#ea7b60" d="M120.5 75.4L123.4 75.9L124.9 73.7L122 73.1Z"/><path color="#f7b599" d="M89.5 97.7L92.3 98.3L93.9 94.7L91 94.1Z"/><path color="#d6dce4" d="M86.2 129.5L89.1 130.2L90.5 123.5L87.7 122.8Z"/><path color="#f4987a" d="M101.3 85.9L104.2 86.4L105.7 83.6L102.8 83.1Z"/><path color="#c73635" d="M196.9 55.9L199.8 56.5L201.2 54.9L198.3 54.3Z"/><path color="#e16751" d="M138.1 69.1L141 69.6L142.5 67.6L139.6 67.1Z"/><path color="#6a8bef" d="M114.9 181.8L117.8 182.5L119.3 168L116.4 167.2Z"/><path color="#e8765c" d="M124.9 73.7L127.8 74.2L129.3 72.1L126.4 71.5Z"/><path color="#afcafc" d="M94.8 149.6L97.6 150.3L99.1 141L96.2 140.2Z"/><path color="#e36b54" d="M133.7 70.5L136.6 71.1L138.1 69.1L135.2 68.5Z"/><path color="#e57058" d="M129.3 72.1L132.2 72.6L133.7 70.5L130.8 70Z"/><path color="#e2dad5" d="M84.8 122.1L87.7 122.8L89.2 116.9L86.3 116.2Z"/><path color="#f1ccb8" d="M84.9 110.4L87.8 111L89.3 106.4L86.4 105.7Z"/><path color="#d1493f" d="M171.9 60.7L174.8 61.2L176.3 59.5L173.4 59Z"/><path color="#3b4cc0" d="M133.6 206.5L136.5 207.4L138.1 188.2L135.2 187.4Z"/><path color="#c12b30" d="M213 53.6L216 54.2L217.4 52.7L214.4 52.1Z"/><path color="#f7a688" d="M95.4 91.3L98.3 91.9L99.8 88.8L96.9 88.2Z"/><path color="#f6bda2" d="M88 101.5L90.8 102.1L92.3 98.3L89.5 97.7Z"/><path color="#c83836" d="M192.5 56.9L195.4 57.5L196.9 55.9L193.9 55.3Z"/><path color="#bb1b2c" d="M229.1 51.5L232.1 52L233.5 50.6L230.5 50Z"/><path color="#f4c5ad" d="M86.4 105.7L89.3 106.4L90.8 102.1L88 101.5Z"/><path color="#f29274" d="M105.7 83.6L108.6 84.2L110.1 81.5L107.2 81Z"/><path color="#d44e41" d="M167.5 61.8L170.4 62.4L171.9 60.7L169 60.1Z"/><path color="#c5d6f2" d="M90.5 138.8L93.3 139.5L94.8 131.6L91.9 130.9Z"/><path color="#c32e31" d="M208.6 54.5L211.6 55.1L213 53.6L210 53Z"/><path color="#d55042" d="M163.1 63L166 63.5L167.5 61.8L164.6 61.2Z"/><path color="#cb3e38" d="M188.1 57.9L191 58.5L192.5 56.9L189.5 56.3Z"/><path color="#f08b6e" d="M110.1 81.5L113 82.1L114.5 79.6L111.7 79Z"/><path color="#bd1f2d" d="M224.8 52.3L227.7 52.9L229.1 51.5L226.2 50.9Z"/><path color="#f59f80" d="M99.8 88.8L102.7 89.4L104.2 86.4L101.3 85.9Z"/><path color="#d75445" d="M158.7 64.2L161.6 64.8L163.1 63L160.2 62.4Z"/><path color="#f7ad90" d="M93.9 94.7L96.7 95.3L98.3 91.9L95.4 91.3Z"/><path color="#92b4fe" d="M104.8 164.1L107.7 164.9L109.2 153.4L106.3 152.6Z"/><path color="#cc403a" d="M183.7 59L186.6 59.6L188.1 57.9L185.1 57.4Z"/><path color="#c43032" d="M204.2 55.5L207.2 56.1L208.6 54.5L205.6 53.9Z"/><path color="#ebd3c6" d="M86.3 116.2L89.2 116.9L90.7 111.7L87.8 111Z"/><path color="#ee8669" d="M114.5 79.6L117.4 80.1L118.9 77.7L116.1 77.1Z"/><path color="#d95847" d="M154.3 65.5L157.2 66.1L158.7 64.2L155.8 63.7Z"/><path color="#be242e" d="M220.4 53.3L223.4 53.8L224.8 52.3L221.8 51.8Z"/><path color="#dc5d4a" d="M149.9 66.8L152.8 67.4L154.3 65.5L151.3 64.9Z"/><path color="#ec7f63" d="M118.9 77.7L121.8 78.3L123.4 75.9L120.5 75.4Z"/><path color="#cf453c" d="M179.2 60.1L182.2 60.7L183.7 59L180.7 58.4Z"/><path color="#d6dce4" d="M89.1 130.2L91.9 130.9L93.4 124.2L90.5 123.5Z"/><path color="#6a8bef" d="M117.8 182.5L120.7 183.4L122.2 168.8L119.3 168Z"/><path color="#de614d" d="M145.4 68.2L148.4 68.7L149.9 66.8L146.9 66.3Z"/><path color="#f7b497" d="M92.3 98.3L95.2 98.8L96.7 95.3L93.9 94.7Z"/><path color="#e97a5f" d="M123.4 75.9L126.3 76.5L127.8 74.2L124.9 73.7Z"/><path color="#c73635" d="M199.8 56.5L202.8 57.1L204.2 55.5L201.2 54.9Z"/><path color="#afcafc" d="M97.6 150.3L100.5 151.1L102 141.7L99.1 141Z"/><path color="#f4987a" d="M104.2 86.4L107.1 87L108.6 84.2L105.7 83.6Z"/><path color="#e16751" d="M141 69.6L143.9 70.2L145.4 68.2L142.5 67.6Z"/><path color="#e2dad5" d="M87.7 122.8L90.5 123.5L92 117.6L89.2 116.9Z"/><path color="#e7745b" d="M127.8 74.2L130.7 74.8L132.2 72.6L129.3 72.1Z"/><path color="#e36b54" d="M136.6 71.1L139.5 71.6L141 69.6L138.1 69.1Z"/><path color="#e57058" d="M132.2 72.6L135.1 73.2L136.6 71.1L133.7 70.5Z"/><path color="#3b4cc0" d="M136.5 207.4L139.4 208.2L141 188.9L138.1 188.2Z"/><path color="#f1ccb8" d="M87.8 111L90.7 111.7L92.2 107L89.3 106.4Z"/><path color="#d1493f" d="M174.8 61.2L177.8 61.8L179.2 60.1L176.3 59.5Z"/><path color="#c12b30" d="M216 54.2L219 54.7L220.4 53.3L217.4 52.7Z"/><path color="#f7a688" d="M98.3 91.9L101.1 92.5L102.7 89.4L99.8 88.8Z"/><path color="#f7bca1" d="M90.8 102.1L93.7 102.8L95.2 98.8L92.3 98.3Z"/><path color="#c83836" d="M195.4 57.5L198.4 58.1L199.8 56.5L196.9 55.9Z"/><path color="#f5c4ac" d="M89.3 106.4L92.2 107L93.7 102.8L90.8 102.1Z"/><path color="#f29274" d="M108.6 84.2L111.5 84.7L113 82.1L110.1 81.5Z"/><path color="#c5d6f2" d="M93.3 139.5L96.2 140.2L97.7 132.3L94.8 131.6Z"/><path color="#d24b40" d="M170.4 62.4L173.4 62.9L174.8 61.2L171.9 60.7Z"/><path color="#c32e31" d="M211.6 55.1L214.6 55.7L216 54.2L213 53.6Z"/><path color="#cb3e38" d="M191 58.5L194 59.1L195.4 57.5L192.5 56.9Z"/><path color="#d55042" d="M166 63.5L169 64.1L170.4 62.4L167.5 61.8Z"/><path color="#bd1f2d" d="M227.7 52.9L230.7 53.5L232.1 52L229.1 51.5Z"/><path color="#f08b6e" d="M113 82.1L115.9 82.7L117.4 80.1L114.5 79.6Z"/><path color="#d75445" d="M161.6 64.8L164.5 65.4L166 63.5L163.1 63Z"/><path color="#f59f80" d="M102.7 89.4L105.5 89.9L107.1 87L104.2 86.4Z"/><path color="#f7ad90" d="M96.7 95.3L99.6 95.8L101.1 92.5L98.3 91.9Z"/><path color="#92b4fe" d="M107.7 164.9L110.6 165.7L112 154.1L109.2 153.4Z"/><path color="#cc403a" d="M186.6 59.6L189.6 60.2L191 58.5L188.1 57.9Z"/><path color="#ebd3c6" d="M89.2 116.9L92 117.6L93.5 112.3L90.7 111.7Z"/><path color="#c43032" d="M207.2 56.1L210.2 56.6L211.6 55.1L208.6 54.5Z"/><path color="#ee8468" d="M117.4 80.1L120.3 80.7L121.8 78.3L118.9 77.7Z"/><path color="#d95847" d="M157.2 66.1L160.1 66.6L161.6 64.8L158.7 64.2Z"/><path color="#be242e" d="M223.4 53.8L226.3 54.4L227.7 52.9L224.8 52.3Z"/><path color="#dc5d4a" d="M152.8 67.4L155.7 68L157.2 66.1L154.3 65.5Z"/><path color="#ec7f63" d="M121.8 78.3L124.7 78.8L126.3 76.5L123.4 75.9Z"/><path color="#6a8bef" d="M120.7 183.4L123.6 184.2L125.1 169.6L122.2 168.8Z"/><path color="#d6dce4" d="M91.9 130.9L94.8 131.6L96.3 124.8L93.4 124.2Z"/><path color="#cf453c" d="M182.2 60.7L185.1 61.2L186.6 59.6L183.7 59Z"/><path color="#afcafc" d="M100.5 151.1L103.4 151.9L104.8 142.4L102 141.7Z"/><path color="#de614d" d="M148.4 68.7L151.3 69.3L152.8 67.4L149.9 66.8Z"/><path color="#c73635" d="M202.8 57.1L205.8 57.6L207.2 56.1L204.2 55.5Z"/><path color="#f7b497" d="M95.2 98.8L98.1 99.4L99.6 95.8L96.7 95.3Z"/><path color="#e97a5f" d="M126.3 76.5L129.2 77L130.7 74.8L127.8 74.2Z"/><path color="#e2dad5" d="M90.5 123.5L93.4 124.2L94.9 118.2L92 117.6Z"/><path color="#f39778" d="M107.1 87L110 87.5L111.5 84.7L108.6 84.2Z"/><path color="#3b4cc0" d="M139.4 208.2L142.3 209L143.9 189.8L141 188.9Z"/><path color="#e0654f" d="M143.9 70.2L146.9 70.7L148.4 68.7L145.4 68.2Z"/><path color="#e7745b" d="M130.7 74.8L133.6 75.3L135.1 73.2L132.2 72.6Z"/><path color="#e36b54" d="M139.5 71.6L142.4 72.2L143.9 70.2L141 69.6Z"/><path color="#e46e56" d="M135.1 73.2L138 73.7L139.5 71.6L136.6 71.1Z"/><path color="#f1ccb8" d="M90.7 111.7L93.5 112.3L95 107.6L92.2 107Z"/><path color="#d0473d" d="M177.8 61.8L180.7 62.4L182.2 60.7L179.2 60.1Z"/><path color="#c0282f" d="M219 54.7L221.9 55.3L223.4 53.8L220.4 53.3Z"/><path color="#f7bca1" d="M93.7 102.8L96.6 103.4L98.1 99.4L95.2 98.8Z"/><path color="#f6a586" d="M101.1 92.5L104 93.1L105.5 89.9L102.7 89.4Z"/><path color="#c83836" d="M198.4 58.1L201.3 58.6L202.8 57.1L199.8 56.5Z"/><path color="#f5c4ac" d="M92.2 107L95 107.6L96.6 103.4L93.7 102.8Z"/><path color="#c5d6f2" d="M96.2 140.2L99.1 141L100.6 133L97.7 132.3Z"/><path color="#d24b40" d="M173.4 62.9L176.3 63.5L177.8 61.8L174.8 61.2Z"/><path color="#f29072" d="M111.5 84.7L114.4 85.3L115.9 82.7L113 82.1Z"/><path color="#c32e31" d="M214.6 55.7L217.5 56.3L219 54.7L216 54.2Z"/><path color="#ca3b37" d="M194 59.1L196.9 59.7L198.4 58.1L195.4 57.5Z"/><path color="#d55042" d="M169 64.1L171.9 64.7L173.4 62.9L170.4 62.4Z"/><path color="#f08b6e" d="M115.9 82.7L118.8 83.2L120.3 80.7L117.4 80.1Z"/><path color="#92b4fe" d="M110.6 165.7L113.5 166.5L114.9 154.9L112 154.1Z"/><path color="#d75445" d="M164.5 65.4L167.5 65.9L169 64.1L166 63.5Z"/><path color="#f59f80" d="M105.5 89.9L108.4 90.5L110 87.5L107.1 87Z"/><path color="#f7ac8e" d="M99.6 95.8L102.5 96.4L104 93.1L101.1 92.5Z"/><path color="#ebd3c6" d="M92 117.6L94.9 118.2L96.4 113L93.5 112.3Z"/><path color="#cc403a" d="M189.6 60.2L192.5 60.7L194 59.1L191 58.5Z"/><path color="#c43032" d="M210.2 56.6L213.1 57.2L214.6 55.7L211.6 55.1Z"/><path color="#ee8468" d="M120.3 80.7L123.2 81.2L124.7 78.8L121.8 78.3Z"/><path color="#d95847" d="M160.1 66.6L163.1 67.2L164.5 65.4L161.6 64.8Z"/><path color="#6a8bef" d="M123.6 184.2L126.5 185L128 170.3L125.1 169.6Z"/><path color="#be242e" d="M226.3 54.4L229.3 55L230.7 53.5L227.7 52.9Z"/><path color="#dc5d4a" d="M155.7 68L158.6 68.5L160.1 66.6L157.2 66.1Z"/><path color="#d6dce4" d="M94.8 131.6L97.7 132.3L99.2 125.5L96.3 124.8Z"/><path color="#ec7f63" d="M124.7 78.8L127.6 79.4L129.2 77L126.3 76.5Z"/><path color="#afcafc" d="M103.4 151.9L106.3 152.6L107.7 143.1L104.8 142.4Z"/><path color="#cd423b" d="M185.1 61.2L188.1 61.8L189.6 60.2L186.6 59.6Z"/><path color="#3b4cc0" d="M142.3 209L145.2 209.9L146.8 190.6L143.9 189.8Z"/><path color="#de614d" d="M151.3 69.3L154.2 69.9L155.7 68L152.8 67.4Z"/><path color="#c53334" d="M205.8 57.6L208.7 58.2L210.2 56.6L207.2 56.1Z"/><path color="#e2dad5" d="M93.4 124.2L96.3 124.8L97.8 118.9L94.9 118.2Z"/><path color="#f7b497" d="M98.1 99.4L101 100L102.5 96.4L99.6 95.8Z"/><path color="#e97a5f" d="M129.2 77L132.1 77.6L133.6 75.3L130.7 74.8Z"/><path color="#f39778" d="M110 87.5L112.8 88.1L114.4 85.3L111.5 84.7Z"/><path color="#e0654f" d="M146.9 70.7L149.8 71.3L151.3 69.3L148.4 68.7Z"/><path color="#e7745b" d="M133.6 75.3L136.5 75.9L138 73.7L135.1 73.2Z"/><path color="#e36b54" d="M142.4 72.2L145.4 72.8L146.9 70.7L143.9 70.2Z"/><path color="#f1ccb8" d="M93.5 112.3L96.4 113L97.9 108.3L95 107.6Z"/><path color="#e46e56" d="M138 73.7L140.9 74.3L142.4 72.2L139.5 71.6Z"/><path color="#d0473d" d="M180.7 62.4L183.7 62.9L185.1 61.2L182.2 60.7Z"/><path color="#c0282f" d="M221.9 55.3L224.9 55.9L226.3 54.4L223.4 53.8Z"/><path color="#f7bca1" d="M96.6 103.4L99.4 104L101 100L98.1 99.4Z"/><path color="#f6a586" d="M104 93.1L106.9 93.7L108.4 90.5L105.5 89.9Z"/><path color="#c83836" d="M201.3 58.6L204.3 59.2L205.8 57.6L202.8 57.1Z"/><path color="#f5c4ac" d="M95 107.6L97.9 108.3L99.4 104L96.6 103.4Z"/><path color="#c5d6f2" d="M99.1 141L102 141.7L103.4 133.7L100.6 133Z"/><path color="#d24b40" d="M176.3 63.5L179.3 64.1L180.7 62.4L177.8 61.8Z"/><path color="#f29072" d="M114.4 85.3L117.3 85.9L118.8 83.2L115.9 82.7Z"/><path color="#c32e31" d="M217.5 56.3L220.5 56.9L221.9 55.3L219 54.7Z"/><path color="#ca3b37" d="M196.9 59.7L199.9 60.3L201.3 58.6L198.4 58.1Z"/><path color="#d55042" d="M171.9 64.7L174.8 65.3L176.3 63.5L173.4 62.9Z"/><path color="#92b4fe" d="M113.5 166.5L116.4 167.2L117.8 155.6L114.9 154.9Z"/><path color="#f08a6c" d="M118.8 83.2L121.7 83.8L123.2 81.2L120.3 80.7Z"/><path color="#d65244" d="M167.5 65.9L170.4 66.5L171.9 64.7L169 64.1Z"/><path color="#f7ac8e" d="M102.5 96.4L105.4 97L106.9 93.7L104 93.1Z"/><path color="#f59d7e" d="M108.4 90.5L111.3 91.1L112.8 88.1L110 87.5Z"/><path color="#ebd3c6" d="M94.9 118.2L97.8 118.9L99.3 113.6L96.4 113Z"/><path color="#c43032" d="M213.1 57.2L216.1 57.8L217.5 56.3L214.6 55.7Z"/><path color="#cc403a" d="M192.5 60.7L195.5 61.3L196.9 59.7L194 59.1Z"/><path color="#d85646" d="M163.1 67.2L166 67.8L167.5 65.9L164.5 65.4Z"/><path color="#ee8468" d="M123.2 81.2L126.1 81.8L127.6 79.4L124.7 78.8Z"/><path color="#6a8bef" d="M126.5 185L129.4 185.8L130.9 171.1L128 170.3Z"/><path color="#d6dce4" d="M97.7 132.3L100.6 133L102 126.2L99.2 125.5Z"/><path color="#afcafc" d="M106.3 152.6L109.2 153.4L110.6 143.9L107.7 143.1Z"/><path color="#da5a49" d="M158.6 68.5L161.6 69.1L163.1 67.2L160.1 66.6Z"/><path color="#3b4cc0" d="M145.2 209.9L148.1 210.7L149.8 191.3L146.8 190.6Z"/><path color="#cd423b" d="M188.1 61.8L191.1 62.4L192.5 60.7L189.6 60.2Z"/><path color="#eb7d62" d="M127.6 79.4L130.6 79.9L132.1 77.6L129.2 77Z"/><path color="#e2dad5" d="M96.3 124.8L99.2 125.5L100.7 119.6L97.8 118.9Z"/><path color="#c53334" d="M208.7 58.2L211.7 58.8L213.1 57.2L210.2 56.6Z"/><path color="#de614d" d="M154.2 69.9L157.1 70.5L158.6 68.5L155.7 68Z"/><path color="#f7b497" d="M101 100L103.8 100.7L105.4 97L102.5 96.4Z"/><path color="#e9785d" d="M132.1 77.6L135 78.2L136.5 75.9L133.6 75.3Z"/><path color="#f39778" d="M112.8 88.1L115.7 88.7L117.3 85.9L114.4 85.3Z"/><path color="#e0654f" d="M149.8 71.3L152.7 71.9L154.2 69.9L151.3 69.3Z"/><path color="#f1ccb8" d="M96.4 113L99.3 113.6L100.8 108.9L97.9 108.3Z"/><path color="#e7745b" d="M136.5 75.9L139.4 76.5L140.9 74.3L138 73.7Z"/><path color="#e26952" d="M145.4 72.8L148.3 73.3L149.8 71.3L146.9 70.7Z"/><path color="#e46e56" d="M140.9 74.3L143.8 74.9L145.4 72.8L142.4 72.2Z"/><path color="#c0282f" d="M224.9 55.9L227.9 56.5L229.3 55L226.3 54.4Z"/><path color="#d0473d" d="M183.7 62.9L186.6 63.5L188.1 61.8L185.1 61.2Z"/><path color="#f7bca1" d="M99.4 104L102.3 104.6L103.8 100.7L101 100Z"/><path color="#c6d6f1" d="M102 141.7L104.8 142.4L106.3 134.4L103.4 133.7Z"/><path color="#f6a586" d="M106.9 93.7L109.8 94.2L111.3 91.1L108.4 90.5Z"/><path color="#c83836" d="M204.3 59.2L207.3 59.8L208.7 58.2L205.8 57.6Z"/><path color="#f5c4ac" d="M97.9 108.3L100.8 108.9L102.3 104.6L99.4 104Z"/><path color="#d24b40" d="M179.3 64.1L182.2 64.7L183.7 62.9L180.7 62.4Z"/><path color="#f29072" d="M117.3 85.9L120.2 86.5L121.7 83.8L118.8 83.2Z"/><path color="#c12b30" d="M220.5 56.9L223.5 57.5L224.9 55.9L221.9 55.3Z"/><path color="#ca3b37" d="M199.9 60.3L202.9 60.8L204.3 59.2L201.3 58.6Z"/><path color="#d44e41" d="M174.8 65.3L177.8 65.9L179.3 64.1L176.3 63.5Z"/><path color="#92b4fe" d="M116.4 167.2L119.3 168L120.7 156.4L117.8 155.6Z"/><path color="#f08a6c" d="M121.7 83.8L124.6 84.4L126.1 81.8L123.2 81.2Z"/><path color="#d65244" d="M170.4 66.5L173.4 67.1L174.8 65.3L171.9 64.7Z"/><path color="#f7ac8e" d="M105.4 97L108.3 97.6L109.8 94.2L106.9 93.7Z"/><path color="#ecd3c5" d="M97.8 118.9L100.7 119.6L102.2 114.3L99.3 113.6Z"/><path color="#f59d7e" d="M111.3 91.1L114.2 91.7L115.7 88.7L112.8 88.1Z"/><path color="#c43032" d="M216.1 57.8L219.1 58.4L220.5 56.9L217.5 56.3Z"/><path color="#cb3e38" d="M195.5 61.3L198.5 61.9L199.9 60.3L196.9 59.7Z"/><path color="#6a8bef" d="M129.4 185.8L132.3 186.5L133.8 171.9L130.9 171.1Z"/><path color="#d85646" d="M166 67.8L168.9 68.4L170.4 66.5L167.5 65.9Z"/><path color="#ed8366" d="M126.1 81.8L129 82.4L130.6 79.9L127.6 79.4Z"/><path color="#d6dce4" d="M100.6 133L103.4 133.7L104.9 126.9L102 126.2Z"/><path color="#afcafc" d="M109.2 153.4L112 154.1L113.5 144.6L110.6 143.9Z"/><path color="#3b4cc0" d="M148.1 210.7L151 211.5L152.7 192.1L149.8 191.3Z"/><path color="#da5a49" d="M161.6 69.1L164.5 69.7L166 67.8L163.1 67.2Z"/><path color="#cd423b" d="M191.1 62.4L194 63L195.5 61.3L192.5 60.7Z"/><path color="#eb7d62" d="M130.6 79.9L133.5 80.5L135 78.2L132.1 77.6Z"/><path color="#e2dad5" d="M99.2 125.5L102 126.2L103.5 120.2L100.7 119.6Z"/><path color="#c53334" d="M211.7 58.8L214.7 59.4L216.1 57.8L213.1 57.2Z"/><path color="#dd5f4b" d="M157.1 70.5L160.1 71L161.6 69.1L158.6 68.5Z"/><path color="#f7b396" d="M103.8 100.7L106.7 101.3L108.3 97.6L105.4 97Z"/><path color="#e9785d" d="M135 78.2L137.9 78.8L139.4 76.5L136.5 75.9Z"/><path color="#e0654f" d="M152.7 71.9L155.6 72.4L157.1 70.5L154.2 69.9Z"/><path color="#f39778" d="M115.7 88.7L118.6 89.3L120.2 86.5L117.3 85.9Z"/><path color="#f2cbb7" d="M99.3 113.6L102.2 114.3L103.7 109.5L100.8 108.9Z"/><path color="#e67259" d="M139.4 76.5L142.3 77.1L143.8 74.9L140.9 74.3Z"/><path color="#e26952" d="M148.3 73.3L151.2 73.9L152.7 71.9L149.8 71.3Z"/><path color="#e46e56" d="M143.8 74.9L146.8 75.5L148.3 73.3L145.4 72.8Z"/><path color="#d0473d" d="M186.6 63.5L189.6 64.1L191.1 62.4L188.1 61.8Z"/><path color="#c6d6f1" d="M104.8 142.4L107.7 143.1L109.2 135.2L106.3 134.4Z"/><path color="#f7ba9f" d="M102.3 104.6L105.2 105.2L106.7 101.3L103.8 100.7Z"/><path color="#c73635" d="M207.3 59.8L210.3 60.4L211.7 58.8L208.7 58.2Z"/><path color="#f6a385" d="M109.8 94.2L112.7 94.8L114.2 91.7L111.3 91.1Z"/><path color="#f5c2aa" d="M100.8 108.9L103.7 109.5L105.2 105.2L102.3 104.6Z"/><path color="#d1493f" d="M182.2 64.7L185.2 65.3L186.6 63.5L183.7 62.9Z"/><path color="#f18f71" d="M120.2 86.5L123.1 87L124.6 84.4L121.7 83.8Z"/><path color="#c12b30" d="M223.5 57.5L226.5 58.1L227.9 56.5L224.9 55.9Z"/><path color="#92b4fe" d="M119.3 168L122.2 168.8L123.7 157.1L120.7 156.4Z"/><path color="#ca3b37" d="M202.9 60.8L205.9 61.4L207.3 59.8L204.3 59.2Z"/><path color="#d44e41" d="M177.8 65.9L180.8 66.5L182.2 64.7L179.3 64.1Z"/><path color="#f08a6c" d="M124.6 84.4L127.5 85L129 82.4L126.1 81.8Z"/><path color="#d65244" d="M173.4 67.1L176.3 67.7L177.8 65.9L174.8 65.3Z"/><path color="#ecd3c5" d="M100.7 119.6L103.5 120.2L105.1 114.9L102.2 114.3Z"/><path color="#f7aa8c" d="M108.3 97.6L111.1 98.2L112.7 94.8L109.8 94.2Z"/><path color="#c32e31" d="M219.1 58.4L222.1 59L223.5 57.5L220.5 56.9Z"/><path color="#f59d7e" d="M114.2 91.7L117.1 92.3L118.6 89.3L115.7 88.7Z"/><path color="#6a8bef" d="M132.3 186.5L135.2 187.4L136.7 172.6L133.8 171.9Z"/><path color="#cb3e38" d="M198.5 61.9L201.4 62.5L202.9 60.8L199.9 60.3Z"/><path color="#d85646" d="M168.9 68.4L171.9 68.9L173.4 67.1L170.4 66.5Z"/><path color="#afcafc" d="M112 154.1L114.9 154.9L116.4 145.3L113.5 144.6Z"/><path color="#3b4cc0" d="M151 211.5L154 212.3L155.7 193L152.7 192.1Z"/><path color="#d6dce4" d="M103.4 133.7L106.3 134.4L107.8 127.6L104.9 126.9Z"/><path color="#ed8366" d="M129 82.4L131.9 83L133.5 80.5L130.6 79.9Z"/><path color="#da5a49" d="M164.5 69.7L167.5 70.2L168.9 68.4L166 67.8Z"/><path color="#cd423b" d="M194 63L197 63.6L198.5 61.9L195.5 61.3Z"/><path color="#e2dad5" d="M102 126.2L104.9 126.9L106.4 120.9L103.5 120.2Z"/><path color="#eb7d62" d="M133.5 80.5L136.4 81.1L137.9 78.8L135 78.2Z"/><path color="#c53334" d="M214.7 59.4L217.7 60L219.1 58.4L216.1 57.8Z"/><path color="#dd5f4b" d="M160.1 71L163 71.6L164.5 69.7L161.6 69.1Z"/><path color="#f7b396" d="M106.7 101.3L109.6 101.9L111.1 98.2L108.3 97.6Z"/><path color="#e9785d" d="M137.9 78.8L140.8 79.3L142.3 77.1L139.4 76.5Z"/><path color="#df634e" d="M155.6 72.4L158.6 73L160.1 71L157.1 70.5Z"/><path color="#f2cbb7" d="M102.2 114.3L105.1 114.9L106.6 110.2L103.7 109.5Z"/><path color="#f39577" d="M118.6 89.3L121.5 89.9L123.1 87L120.2 86.5Z"/><path color="#e67259" d="M142.3 77.1L145.3 77.7L146.8 75.5L143.8 74.9Z"/><path color="#e26952" d="M151.2 73.9L154.1 74.5L155.6 72.4L152.7 71.9Z"/><path color="#e36c55" d="M146.8 75.5L149.7 76L151.2 73.9L148.3 73.3Z"/><path color="#cf453c" d="M189.6 64.1L192.6 64.7L194 63L191.1 62.4Z"/><path color="#c6d6f1" d="M107.7 143.1L110.6 143.9L112.1 135.8L109.2 135.2Z"/><path color="#f7ba9f" d="M105.2 105.2L108.1 105.8L109.6 101.9L106.7 101.3Z"/><path color="#c73635" d="M210.3 60.4L213.3 61L214.7 59.4L211.7 58.8Z"/><path color="#f5c2aa" d="M103.7 109.5L106.6 110.2L108.1 105.8L105.2 105.2Z"/><path color="#f6a385" d="M112.7 94.8L115.6 95.5L117.1 92.3L114.2 91.7Z"/><path color="#d1493f" d="M185.2 65.3L188.2 65.8L189.6 64.1L186.6 63.5Z"/><path color="#f18f71" d="M123.1 87L126 87.6L127.5 85L124.6 84.4Z"/><path color="#92b4fe" d="M122.2 168.8L125.1 169.6L126.6 157.9L123.7 157.1Z"/><path color="#ca3b37" d="M205.9 61.4L208.8 62L210.3 60.4L207.3 59.8Z"/><path color="#d44e41" d="M180.8 66.5L183.7 67L185.2 65.3L182.2 64.7Z"/><path color="#ef886b" d="M127.5 85L130.4 85.5L131.9 83L129 82.4Z"/><path color="#ecd3c5" d="M103.5 120.2L106.4 120.9L107.9 115.6L105.1 114.9Z"/><path color="#6a8bef" d="M135.2 187.4L138.1 188.2L139.7 173.4L136.7 172.6Z"/><path color="#d65244" d="M176.3 67.7L179.3 68.2L180.8 66.5L177.8 65.9Z"/><path color="#f7aa8c" d="M111.1 98.2L114 98.9L115.6 95.5L112.7 94.8Z"/><path color="#c32e31" d="M222.1 59L225.1 59.6L226.5 58.1L223.5 57.5Z"/><path color="#cb3e38" d="M201.4 62.5L204.4 63.1L205.9 61.4L202.9 60.8Z"/><path color="#f59c7d" d="M117.1 92.3L120 92.9L121.5 89.9L118.6 89.3Z"/><path color="#3b4cc0" d="M154 212.3L156.9 213.2L158.6 193.7L155.7 193Z"/><path color="#afcafc" d="M114.9 154.9L117.8 155.6L119.3 146L116.4 145.3Z"/><path color="#d6dce4" d="M106.3 134.4L109.2 135.2L110.7 128.3L107.8 127.6Z"/><path color="#d85646" d="M171.9 68.9L174.8 69.5L176.3 67.7L173.4 67.1Z"/><path color="#ed8366" d="M131.9 83L134.9 83.5L136.4 81.1L133.5 80.5Z"/><path color="#da5a49" d="M167.5 70.2L170.4 70.8L171.9 68.9L168.9 68.4Z"/><path color="#e3d9d3" d="M104.9 126.9L107.8 127.6L109.3 121.5L106.4 120.9Z"/><path color="#cd423b" d="M197 63.6L200 64.2L201.4 62.5L198.5 61.9Z"/><path color="#c53334" d="M217.7 60L220.7 60.6L222.1 59L219.1 58.4Z"/><path color="#eb7d62" d="M136.4 81.1L139.3 81.7L140.8 79.3L137.9 78.8Z"/><path color="#dd5f4b" d="M163 71.6L166 72.2L167.5 70.2L164.5 69.7Z"/><path color="#f7b396" d="M109.6 101.9L112.5 102.5L114 98.9L111.1 98.2Z"/><path color="#e9785d" d="M140.8 79.3L143.8 79.9L145.3 77.7L142.3 77.1Z"/><path color="#f2cbb7" d="M105.1 114.9L107.9 115.6L109.5 110.8L106.6 110.2Z"/><path color="#df634e" d="M158.6 73L161.5 73.6L163 71.6L160.1 71Z"/><path color="#f39577" d="M121.5 89.9L124.5 90.5L126 87.6L123.1 87Z"/><path color="#e67259" d="M145.3 77.7L148.2 78.2L149.7 76L146.8 75.5Z"/><path color="#c6d6f1" d="M110.6 143.9L113.5 144.6L115 136.6L112.1 135.8Z"/><path color="#e26952" d="M154.1 74.5L157.1 75.1L158.6 73L155.6 72.4Z"/><path color="#e36c55" d="M149.7 76L152.6 76.6L154.1 74.5L151.2 73.9Z"/><path color="#cf453c" d="M192.6 64.7L195.6 65.3L197 63.6L194 63Z"/><path color="#f7ba9f" d="M108.1 105.8L111 106.5L112.5 102.5L109.6 101.9Z"/><path color="#c73635" d="M213.3 61L216.3 61.6L217.7 60L214.7 59.4Z"/><path color="#f5c2aa" d="M106.6 110.2L109.5 110.8L111 106.5L108.1 105.8Z"/><path color="#f6a385" d="M115.6 95.5L118.5 96.1L120 92.9L117.1 92.3Z"/><path color="#d1493f" d="M188.2 65.8L191.1 66.4L192.6 64.7L189.6 64.1Z"/><path color="#92b4fe" d="M125.1 169.6L128 170.3L129.5 158.6L126.6 157.9Z"/><path color="#f18f71" d="M126 87.6L128.9 88.2L130.4 85.5L127.5 85Z"/><path color="#c83836" d="M208.8 62L211.8 62.6L213.3 61L210.3 60.4Z"/><path color="#d44e41" d="M183.7 67L186.7 67.6L188.2 65.8L185.2 65.3Z"/><path color="#6a8bef" d="M138.1 188.2L141 188.9L142.6 174.2L139.7 173.4Z"/><path color="#ecd3c5" d="M106.4 120.9L109.3 121.5L110.8 116.2L107.9 115.6Z"/><path color="#ef886b" d="M130.4 85.5L133.3 86.1L134.9 83.5L131.9 83Z"/><path color="#d55042" d="M179.3 68.2L182.3 68.9L183.7 67L180.8 66.5Z"/><path color="#f7aa8c" d="M114 98.9L117 99.5L118.5 96.1L115.6 95.5Z"/><path color="#3b4cc0" d="M156.9 213.2L159.8 214L161.6 194.5L158.6 193.7Z"/><path color="#cb3e38" d="M204.4 63.1L207.4 63.7L208.8 62L205.9 61.4Z"/><path color="#f59c7d" d="M120 92.9L122.9 93.5L124.5 90.5L121.5 89.9Z"/><path color="#afcafc" d="M117.8 155.6L120.7 156.4L122.3 146.8L119.3 146Z"/><path color="#d6dce4" d="M109.2 135.2L112.1 135.8L113.6 129L110.7 128.3Z"/><path color="#d75445" d="M174.8 69.5L177.8 70.1L179.3 68.2L176.3 67.7Z"/><path color="#ed8366" d="M134.9 83.5L137.8 84.1L139.3 81.7L136.4 81.1Z"/><path color="#e3d9d3" d="M107.8 127.6L110.7 128.3L112.2 122.2L109.3 121.5Z"/><path color="#d95847" d="M170.4 70.8L173.4 71.4L174.8 69.5L171.9 68.9Z"/><path color="#cc403a" d="M200 64.2L203 64.8L204.4 63.1L201.4 62.5Z"/><path color="#c43032" d="M220.7 60.6L223.7 61.2L225.1 59.6L222.1 59Z"/><path color="#ea7b60" d="M139.3 81.7L142.2 82.3L143.8 79.9L140.8 79.3Z"/><path color="#dd5f4b" d="M166 72.2L168.9 72.8L170.4 70.8L167.5 70.2Z"/><path color="#f7b396" d="M112.5 102.5L115.4 103.1L117 99.5L114 98.9Z"/><path color="#f2cbb7" d="M107.9 115.6L110.8 116.2L112.4 111.5L109.5 110.8Z"/><path color="#e8765c" d="M143.8 79.9L146.7 80.5L148.2 78.2L145.3 77.7Z"/><path color="#df634e" d="M161.5 73.6L164.5 74.2L166 72.2L163 71.6Z"/><path color="#c6d6f1" d="M113.5 144.6L116.4 145.3L117.9 137.2L115 136.6Z"/><path color="#f39577" d="M124.5 90.5L127.4 91.1L128.9 88.2L126 87.6Z"/><path color="#e67259" d="M148.2 78.2L151.1 78.8L152.6 76.6L149.7 76Z"/><path color="#e16751" d="M157.1 75.1L160 75.7L161.5 73.6L158.6 73Z"/><path color="#cf453c" d="M195.6 65.3L198.5 65.9L200 64.2L197 63.6Z"/><path color="#e36c55" d="M152.6 76.6L155.6 77.2L157.1 75.1L154.1 74.5Z"/><path color="#f7ba9f" d="M111 106.5L113.9 107.1L115.4 103.1L112.5 102.5Z"/><path color="#c73635" d="M216.3 61.6L219.3 62.2L220.7 60.6L217.7 60Z"/><path color="#f5c2aa" d="M109.5 110.8L112.4 111.5L113.9 107.1L111 106.5Z"/><path color="#f6a385" d="M118.5 96.1L121.4 96.7L122.9 93.5L120 92.9Z"/><path color="#d1493f" d="M191.1 66.4L194.1 67L195.6 65.3L192.6 64.7Z"/><path color="#92b4fe" d="M128 170.3L130.9 171.1L132.4 159.4L129.5 158.6Z"/><path color="#f18f71" d="M128.9 88.2L131.8 88.8L133.3 86.1L130.4 85.5Z"/><path color="#c83836" d="M211.8 62.6L214.8 63.2L216.3 61.6L213.3 61Z"/><path color="#d24b40" d="M186.7 67.6L189.7 68.2L191.1 66.4L188.2 65.8Z"/><path color="#6a8bef" d="M141 188.9L143.9 189.8L145.5 174.9L142.6 174.2Z"/><path color="#ecd3c5" d="M109.3 121.5L112.2 122.2L113.8 116.9L110.8 116.2Z"/><path color="#ef886b" d="M133.3 86.1L136.3 86.7L137.8 84.1L134.9 83.5Z"/><path color="#3b4cc0" d="M159.8 214L162.8 214.8L164.5 195.3L161.6 194.5Z"/><path color="#d55042" d="M182.3 68.9L185.2 69.4L186.7 67.6L183.7 67Z"/><path color="#cb3e38" d="M207.4 63.7L210.4 64.3L211.8 62.6L208.8 62Z"/><path color="#afcafc" d="M120.7 156.4L123.7 157.1L125.2 147.5L122.3 146.8Z"/><path color="#f7aa8c" d="M117 99.5L119.9 100.1L121.4 96.7L118.5 96.1Z"/><path color="#f59c7d" d="M122.9 93.5L125.8 94.1L127.4 91.1L124.5 90.5Z"/><path color="#d7dce3" d="M112.1 135.8L115 136.6L116.5 129.6L113.6 129Z"/><path color="#d75445" d="M177.8 70.1L180.8 70.7L182.3 68.9L179.3 68.2Z"/><path color="#ec8165" d="M137.8 84.1L140.7 84.8L142.2 82.3L139.3 81.7Z"/><path color="#e3d9d3" d="M110.7 128.3L113.6 129L115.1 122.9L112.2 122.2Z"/><path color="#d95847" d="M173.4 71.4L176.3 72L177.8 70.1L174.8 69.5Z"/><path color="#cc403a" d="M203 64.8L206 65.4L207.4 63.7L204.4 63.1Z"/><path color="#ea7b60" d="M142.2 82.3L145.2 82.9L146.7 80.5L143.8 79.9Z"/><path color="#dc5d4a" d="M168.9 72.8L171.9 73.4L173.4 71.4L170.4 70.8Z"/><path color="#f7b194" d="M115.4 103.1L118.3 103.8L119.9 100.1L117 99.5Z"/><path color="#f2cbb7" d="M110.8 116.2L113.8 116.9L115.3 112.1L112.4 111.5Z"/><path color="#c6d6f1" d="M116.4 145.3L119.3 146L120.9 138L117.9 137.2Z"/><path color="#e8765c" d="M146.7 80.5L149.6 81.1L151.1 78.8L148.2 78.2Z"/><path color="#df634e" d="M164.5 74.2L167.4 74.8L168.9 72.8L166 72.2Z"/><path color="#f39475" d="M127.4 91.1L130.3 91.7L131.8 88.8L128.9 88.2Z"/><path color="#e57058" d="M151.1 78.8L154.1 79.4L155.6 77.2L152.6 76.6Z"/><path color="#cf453c" d="M198.5 65.9L201.5 66.5L203 64.8L200 64.2Z"/><path color="#e16751" d="M160 75.7L163 76.3L164.5 74.2L161.5 73.6Z"/><path color="#e36c55" d="M155.6 77.2L158.5 77.8L160 75.7L157.1 75.1Z"/><path color="#f7ba9f" d="M113.9 107.1L116.8 107.8L118.3 103.8L115.4 103.1Z"/><path color="#c73635" d="M219.3 62.2L222.3 62.8L223.7 61.2L220.7 60.6Z"/><path color="#f5c2aa" d="M112.4 111.5L115.3 112.1L116.8 107.8L113.9 107.1Z"/><path color="#f6a283" d="M121.4 96.7L124.3 97.3L125.8 94.1L122.9 93.5Z"/><path color="#92b4fe" d="M130.9 171.1L133.8 171.9L135.3 160.1L132.4 159.4Z"/><path color="#d0473d" d="M194.1 67L197.1 67.6L198.5 65.9L195.6 65.3Z"/><path color="#f18d6f" d="M131.8 88.8L134.7 89.4L136.3 86.7L133.3 86.1Z"/><path color="#c83836" d="M214.8 63.2L217.8 63.8L219.3 62.2L216.3 61.6Z"/><path color="#d24b40" d="M189.7 68.2L192.6 68.8L194.1 67L191.1 66.4Z"/><path color="#6a8bef" d="M143.9 189.8L146.8 190.6L148.5 175.7L145.5 174.9Z"/><path color="#3b4cc0" d="M162.8 214.8L165.7 215.6L167.5 196.2L164.5 195.3Z"/><path color="#ecd3c5" d="M112.2 122.2L115.1 122.9L116.7 117.6L113.8 116.9Z"/><path color="#ef886b" d="M136.3 86.7L139.2 87.3L140.7 84.8L137.8 84.1Z"/><path color="#d55042" d="M185.2 69.4L188.2 70L189.7 68.2L186.7 67.6Z"/><path color="#afcafc" d="M123.7 157.1L126.6 157.9L128.1 148.2L125.2 147.5Z"/><path color="#ca3b37" d="M210.4 64.3L213.4 64.9L214.8 63.2L211.8 62.6Z"/><path color="#f7aa8c" d="M119.9 100.1L122.8 100.7L124.3 97.3L121.4 96.7Z"/><path color="#d7dce3" d="M115 136.6L117.9 137.2L119.5 130.3L116.5 129.6Z"/><path color="#f59c7d" d="M125.8 94.1L128.8 94.7L130.3 91.7L127.4 91.1Z"/><path color="#d75445" d="M180.8 70.7L183.8 71.3L185.2 69.4L182.3 68.9Z"/><path color="#ec8165" d="M140.7 84.8L143.7 85.3L145.2 82.9L142.2 82.3Z"/><path color="#e3d9d3" d="M113.6 129L116.5 129.6L118.1 123.6L115.1 122.9Z"/><path color="#cc403a" d="M206 65.4L209 66L210.4 64.3L207.4 63.7Z"/><path color="#d95847" d="M176.3 72L179.3 72.6L180.8 70.7L177.8 70.1Z"/><path color="#ea7b60" d="M145.2 82.9L148.1 83.5L149.6 81.1L146.7 80.5Z"/><path color="#dc5d4a" d="M171.9 73.4L174.8 74L176.3 72L173.4 71.4Z"/><path color="#f7b194" d="M118.3 103.8L121.3 104.4L122.8 100.7L119.9 100.1Z"/><path color="#c6d6f1" d="M119.3 146L122.3 146.8L123.8 138.7L120.9 138Z"/><path color="#f2cab5" d="M113.8 116.9L116.7 117.6L118.2 112.7L115.3 112.1Z"/><path color="#e8765c" d="M149.6 81.1L152.6 81.7L154.1 79.4L151.1 78.8Z"/><path color="#de614d" d="M167.4 74.8L170.4 75.4L171.9 73.4L168.9 72.8Z"/><path color="#f39475" d="M130.3 91.7L133.2 92.3L134.7 89.4L131.8 88.8Z"/><path color="#cf453c" d="M201.5 66.5L204.5 67.1L206 65.4L203 64.8Z"/><path color="#e57058" d="M154.1 79.4L157 80L158.5 77.8L155.6 77.2Z"/><path color="#e16751" d="M163 76.3L165.9 76.9L167.4 74.8L164.5 74.2Z"/><path color="#e36b54" d="M158.5 77.8L161.5 78.4L163 76.3L160 75.7Z"/><path color="#f7b99e" d="M116.8 107.8L119.7 108.4L121.3 104.4L118.3 103.8Z"/><path color="#f5c1a9" d="M115.3 112.1L118.2 112.7L119.7 108.4L116.8 107.8Z"/><path color="#f6a283" d="M124.3 97.3L127.2 97.9L128.8 94.7L125.8 94.1Z"/><path color="#92b4fe" d="M133.8 171.9L136.7 172.6L138.3 160.8L135.3 160.1Z"/><path color="#d0473d" d="M197.1 67.6L200.1 68.2L201.5 66.5L198.5 65.9Z"/><path color="#f18d6f" d="M134.7 89.4L137.7 90L139.2 87.3L136.3 86.7Z"/><path color="#c83836" d="M217.8 63.8L220.8 64.4L222.3 62.8L219.3 62.2Z"/><path color="#6a8bef" d="M146.8 190.6L149.8 191.3L151.4 176.5L148.5 175.7Z"/><path color="#d24b40" d="M192.6 68.8L195.6 69.4L197.1 67.6L194.1 67Z"/><path color="#3b4cc0" d="M165.7 215.6L168.6 216.5L170.5 197L167.5 196.2Z"/><path color="#edd2c3" d="M115.1 122.9L118.1 123.6L119.6 118.2L116.7 117.6Z"/><path color="#afcafc" d="M126.6 157.9L129.5 158.6L131 149L128.1 148.2Z"/><path color="#d55042" d="M188.2 70L191.2 70.6L192.6 68.8L189.7 68.2Z"/><path color="#ee8669" d="M139.2 87.3L142.1 87.9L143.7 85.3L140.7 84.8Z"/><path color="#ca3b37" d="M213.4 64.9L216.4 65.5L217.8 63.8L214.8 63.2Z"/><path color="#f7a98b" d="M122.8 100.7L125.7 101.3L127.2 97.9L124.3 97.3Z"/><path color="#d7dce3" d="M117.9 137.2L120.9 138L122.4 131L119.5 130.3Z"/><path color="#f49a7b" d="M128.8 94.7L131.7 95.3L133.2 92.3L130.3 91.7Z"/><path color="#d75445" d="M183.8 71.3L186.7 71.9L188.2 70L185.2 69.4Z"/><path color="#e3d9d3" d="M116.5 129.6L119.5 130.3L121 124.3L118.1 123.6Z"/><path color="#ec8165" d="M143.7 85.3L146.6 86L148.1 83.5L145.2 82.9Z"/><path color="#cc403a" d="M209 66L212 66.6L213.4 64.9L210.4 64.3Z"/><path color="#d95847" d="M179.3 72.6L182.3 73.2L183.8 71.3L180.8 70.7Z"/><path color="#ea7b60" d="M148.1 83.5L151.1 84.1L152.6 81.7L149.6 81.1Z"/><path color="#c6d6f1" d="M122.3 146.8L125.2 147.5L126.7 139.4L123.8 138.7Z"/><path color="#dc5d4a" d="M174.8 74L177.8 74.6L179.3 72.6L176.3 72Z"/><path color="#f7b194" d="M121.3 104.4L124.2 105L125.7 101.3L122.8 100.7Z"/><path color="#f2cab5" d="M116.7 117.6L119.6 118.2L121.1 113.4L118.2 112.7Z"/><path color="#e8765c" d="M152.6 81.7L155.5 82.3L157 80L154.1 79.4Z"/><path color="#de614d" d="M170.4 75.4L173.4 76L174.8 74L171.9 73.4Z"/><path color="#f39475" d="M133.2 92.3L136.2 92.9L137.7 90L134.7 89.4Z"/><path color="#cd423b" d="M204.5 67.1L207.5 67.7L209 66L206 65.4Z"/><path color="#e57058" d="M157 80L160 80.6L161.5 78.4L158.5 77.8Z"/><path color="#e16751" d="M165.9 76.9L168.9 77.5L170.4 75.4L167.4 74.8Z"/><path color="#e36b54" d="M161.5 78.4L164.4 79L165.9 76.9L163 76.3Z"/><path color="#f7b99e" d="M119.7 108.4L122.6 109L124.2 105L121.3 104.4Z"/><path color="#f5c1a9" d="M118.2 112.7L121.1 113.4L122.6 109L119.7 108.4Z"/><path color="#92b4fe" d="M136.7 172.6L139.7 173.4L141.2 161.6L138.3 160.8Z"/><path color="#f6a283" d="M127.2 97.9L130.2 98.5L131.7 95.3L128.8 94.7Z"/><path color="#d0473d" d="M200.1 68.2L203.1 68.8L204.5 67.1L201.5 66.5Z"/><path color="#f18d6f" d="M137.7 90L140.6 90.6L142.1 87.9L139.2 87.3Z"/><path color="#6a8bef" d="M149.8 191.3L152.7 192.1L154.4 177.3L151.4 176.5Z"/><path color="#d24b40" d="M195.6 69.4L198.6 70L200.1 68.2L197.1 67.6Z"/><path color="#edd2c3" d="M118.1 123.6L121 124.3L122.5 118.9L119.6 118.2Z"/><path color="#afcafc" d="M129.5 158.6L132.4 159.4L134 149.7L131 149Z"/><path color="#d55042" d="M191.2 70.6L194.2 71.2L195.6 69.4L192.6 68.8Z"/><path color="#ee8669" d="M142.1 87.9L145.1 88.5L146.6 86L143.7 85.3Z"/><path color="#d7dce3" d="M120.9 138L123.8 138.7L125.3 131.7L122.4 131Z"/><path color="#ca3b37" d="M216.4 65.5L219.4 66.1L220.8 64.4L217.8 63.8Z"/><path color="#f7a98b" d="M125.7 101.3L128.6 102L130.2 98.5L127.2 97.9Z"/><path color="#f49a7b" d="M131.7 95.3L134.6 95.9L136.2 92.9L133.2 92.3Z"/><path color="#d75445" d="M186.7 71.9L189.7 72.5L191.2 70.6L188.2 70Z"/><path color="#e3d9d3" d="M119.5 130.3L122.4 131L123.9 125L121 124.3Z"/><path color="#ec8165" d="M146.6 86L149.5 86.5L151.1 84.1L148.1 83.5Z"/><path color="#cc403a" d="M212 66.6L215 67.2L216.4 65.5L213.4 64.9Z"/><path color="#d95847" d="M182.3 73.2L185.3 73.8L186.7 71.9L183.8 71.3Z"/><path color="#c6d6f1" d="M125.2 147.5L128.1 148.2L129.6 140.1L126.7 139.4Z"/><path color="#e97a5f" d="M151.1 84.1L154 84.7L155.5 82.3L152.6 81.7Z"/><path color="#dc5d4a" d="M177.8 74.6L180.8 75.2L182.3 73.2L179.3 72.6Z"/><path color="#f7b194" d="M124.2 105L127.1 105.7L128.6 102L125.7 101.3Z"/><path color="#f2cab5" d="M119.6 118.2L122.5 118.9L124 114L121.1 113.4Z"/><path color="#e7745b" d="M155.5 82.3L158.5 82.9L160 80.6L157 80Z"/><path color="#de614d" d="M173.4 76L176.3 76.6L177.8 74.6L174.8 74Z"/><path color="#cd423b" d="M207.5 67.7L210.5 68.3L212 66.6L209 66Z"/><path color="#f39475" d="M136.2 92.9L139.1 93.5L140.6 90.6L137.7 90Z"/><path color="#e0654f" d="M168.9 77.5L171.9 78.1L173.4 76L170.4 75.4Z"/><path color="#e57058" d="M160 80.6L162.9 81.2L164.4 79L161.5 78.4Z"/><path color="#e36b54" d="M164.4 79L167.4 79.6L168.9 77.5L165.9 76.9Z"/><path color="#92b4fe" d="M139.7 173.4L142.6 174.2L144.2 162.4L141.2 161.6Z"/><path color="#f7b99e" d="M122.6 109L125.6 109.7L127.1 105.7L124.2 105Z"/><path color="#f5c1a9" d="M121.1 113.4L124 114L125.6 109.7L122.6 109Z"/><path color="#f6a283" d="M130.2 98.5L133.1 99.1L134.6 95.9L131.7 95.3Z"/><path color="#d0473d" d="M203.1 68.8L206.1 69.4L207.5 67.7L204.5 67.1Z"/><path color="#6a8bef" d="M152.7 192.1L155.7 193L157.3 178L154.4 177.3Z"/><path color="#f18d6f" d="M140.6 90.6L143.6 91.2L145.1 88.5L142.1 87.9Z"/><path color="#d24b40" d="M198.6 70L201.6 70.6L203.1 68.8L200.1 68.2Z"/><path color="#afcafc" d="M132.4 159.4L135.3 160.1L136.9 150.4L134 149.7Z"/><path color="#edd2c3" d="M121 124.3L123.9 125L125.4 119.6L122.5 118.9Z"/><path color="#d44e41" d="M194.2 71.2L197.2 71.8L198.6 70L195.6 69.4Z"/><path color="#d7dce3" d="M123.8 138.7L126.7 139.4L128.2 132.4L125.3 131.7Z"/><path color="#ee8669" d="M145.1 88.5L148 89.2L149.5 86.5L146.6 86Z"/><path color="#f7a98b" d="M128.6 102L131.6 102.6L133.1 99.1L130.2 98.5Z"/><path color="#f49a7b" d="M134.6 95.9L137.6 96.5L139.1 93.5L136.2 92.9Z"/><path color="#d65244" d="M189.7 72.5L192.7 73.1L194.2 71.2L191.2 70.6Z"/><path color="#e3d9d3" d="M122.4 131L125.3 131.7L126.8 125.6L123.9 125Z"/><path color="#ec7f63" d="M149.5 86.5L152.5 87.2L154 84.7L151.1 84.1Z"/><path color="#cb3e38" d="M215 67.2L218 67.8L219.4 66.1L216.4 65.5Z"/><path color="#d85646" d="M185.3 73.8L188.2 74.4L189.7 72.5L186.7 71.9Z"/><path color="#c6d6f1" d="M128.1 148.2L131 149L132.6 140.8L129.6 140.1Z"/><path color="#e97a5f" d="M154 84.7L157 85.3L158.5 82.9L155.5 82.3Z"/><path color="#f2cab5" d="M122.5 118.9L125.4 119.6L127 114.7L124 114Z"/><path color="#f7b194" d="M127.1 105.7L130 106.3L131.6 102.6L128.6 102Z"/><path color="#dc5d4a" d="M180.8 75.2L183.8 75.8L185.3 73.8L182.3 73.2Z"/><path color="#de614d" d="M176.3 76.6L179.3 77.2L180.8 75.2L177.8 74.6Z"/><path color="#e7745b" d="M158.5 82.9L161.4 83.5L162.9 81.2L160 80.6Z"/><path color="#cd423b" d="M210.5 68.3L213.5 68.9L215 67.2L212 66.6Z"/><path color="#f39475" d="M139.1 93.5L142 94.1L143.6 91.2L140.6 90.6Z"/><path color="#e0654f" d="M171.9 78.1L174.8 78.7L176.3 76.6L173.4 76Z"/><path color="#e46e56" d="M162.9 81.2L165.9 81.8L167.4 79.6L164.4 79Z"/><path color="#92b4fe" d="M142.6 174.2L145.5 174.9L147.1 163.1L144.2 162.4Z"/><path color="#e36b54" d="M167.4 79.6L170.4 80.2L171.9 78.1L168.9 77.5Z"/><path color="#f7b99e" d="M125.6 109.7L128.5 110.3L130 106.3L127.1 105.7Z"/><path color="#f5c1a9" d="M124 114L127 114.7L128.5 110.3L125.6 109.7Z"/><path color="#f6a283" d="M133.1 99.1L136 99.8L137.6 96.5L134.6 95.9Z"/><path color="#d0473d" d="M206.1 69.4L209.1 70L210.5 68.3L207.5 67.7Z"/><path color="#6a8bef" d="M155.7 193L158.6 193.7L160.3 178.8L157.3 178Z"/><path color="#f08b6e" d="M143.6 91.2L146.5 91.9L148 89.2L145.1 88.5Z"/><path color="#d1493f" d="M201.6 70.6L204.6 71.2L206.1 69.4L203.1 68.8Z"/><path color="#afcafc" d="M135.3 160.1L138.3 160.8L139.8 151.1L136.9 150.4Z"/><path color="#edd2c3" d="M123.9 125L126.8 125.6L128.4 120.2L125.4 119.6Z"/><path color="#d7dce3" d="M126.7 139.4L129.6 140.1L131.2 133.1L128.2 132.4Z"/><path color="#d44e41" d="M197.2 71.8L200.2 72.5L201.6 70.6L198.6 70Z"/><path color="#ee8669" d="M148 89.2L151 89.8L152.5 87.2L149.5 86.5Z"/><path color="#f7a98b" d="M131.6 102.6L134.5 103.2L136 99.8L133.1 99.1Z"/><path color="#f49a7b" d="M137.6 96.5L140.5 97.2L142 94.1L139.1 93.5Z"/><path color="#e4d9d2" d="M125.3 131.7L128.2 132.4L129.8 126.3L126.8 125.6Z"/><path color="#d65244" d="M192.7 73.1L195.7 73.7L197.2 71.8L194.2 71.2Z"/><path color="#ec7f63" d="M152.5 87.2L155.5 87.8L157 85.3L154 84.7Z"/><path color="#d85646" d="M188.2 74.4L191.2 75L192.7 73.1L189.7 72.5Z"/><path color="#c6d6f1" d="M131 149L134 149.7L135.5 141.5L132.6 140.8Z"/><path color="#f2cab5" d="M125.4 119.6L128.4 120.2L129.9 115.4L127 114.7Z"/><path color="#e97a5f" d="M157 85.3L159.9 85.9L161.4 83.5L158.5 82.9Z"/><path color="#f7b093" d="M130 106.3L133 106.9L134.5 103.2L131.6 102.6Z"/><path color="#da5a49" d="M183.8 75.8L186.8 76.4L188.2 74.4L185.3 73.8Z"/><path color="#de614d" d="M179.3 77.2L182.3 77.8L183.8 75.8L180.8 75.2Z"/><path color="#e7745b" d="M161.4 83.5L164.4 84.1L165.9 81.8L162.9 81.2Z"/><path color="#cd423b" d="M213.5 68.9L216.5 69.5L218 67.8L215 67.2Z"/><path color="#92b4fe" d="M145.5 174.9L148.5 175.7L150.1 163.9L147.1 163.1Z"/><path color="#f29274" d="M142 94.1L145 94.8L146.5 91.9L143.6 91.2Z"/><path color="#e0654f" d="M174.8 78.7L177.8 79.3L179.3 77.2L176.3 76.6Z"/><path color="#e46e56" d="M165.9 81.8L168.9 82.4L170.4 80.2L167.4 79.6Z"/><path color="#e26952" d="M170.4 80.2L173.4 80.8L174.8 78.7L171.9 78.1Z"/><path color="#f7b99e" d="M128.5 110.3L131.4 111L133 106.9L130 106.3Z"/><path color="#f5c1a9" d="M127 114.7L129.9 115.4L131.4 111L128.5 110.3Z"/><path color="#f5a081" d="M136 99.8L139 100.4L140.5 97.2L137.6 96.5Z"/><path color="#6a8bef" d="M158.6 193.7L161.6 194.5L163.3 179.6L160.3 178.8Z"/><path color="#cf453c" d="M209.1 70L212.1 70.7L213.5 68.9L210.5 68.3Z"/><path color="#f08b6e" d="M146.5 91.9L149.5 92.5L151 89.8L148 89.2Z"/><path color="#d1493f" d="M204.6 71.2L207.6 71.8L209.1 70L206.1 69.4Z"/><path color="#afcafc" d="M138.3 160.8L141.2 161.6L142.8 151.9L139.8 151.1Z"/><path color="#edd2c3" d="M126.8 125.6L129.8 126.3L131.3 120.9L128.4 120.2Z"/><path color="#d7dce3" d="M129.6 140.1L132.6 140.8L134.1 133.8L131.2 133.1Z"/><path color="#d44e41" d="M200.2 72.5L203.2 73.1L204.6 71.2L201.6 70.6Z"/><path color="#ee8669" d="M151 89.8L153.9 90.4L155.5 87.8L152.5 87.2Z"/><path color="#f7a889" d="M134.5 103.2L137.4 103.9L139 100.4L136 99.8Z"/><path color="#f49a7b" d="M140.5 97.2L143.5 97.8L145 94.8L142 94.1Z"/><path color="#e4d9d2" d="M128.2 132.4L131.2 133.1L132.7 127L129.8 126.3Z"/><path color="#d65244" d="M195.7 73.7L198.7 74.3L200.2 72.5L197.2 71.8Z"/><path color="#ec7f63" d="M155.5 87.8L158.4 88.4L159.9 85.9L157 85.3Z"/><path color="#c6d6f1" d="M134 149.7L136.9 150.4L138.4 142.3L135.5 141.5Z"/><path color="#d85646" d="M191.2 75L194.2 75.7L195.7 73.7L192.7 73.1Z"/><path color="#f2cab5" d="M128.4 120.2L131.3 120.9L132.8 116L129.9 115.4Z"/><path color="#e97a5f" d="M159.9 85.9L162.9 86.5L164.4 84.1L161.4 83.5Z"/><path color="#f7b093" d="M133 106.9L135.9 107.6L137.4 103.9L134.5 103.2Z"/><path color="#da5a49" d="M186.8 76.4L189.8 77L191.2 75L188.2 74.4Z"/><path color="#92b4fe" d="M148.5 175.7L151.4 176.5L153 164.6L150.1 163.9Z"/><path color="#dd5f4b" d="M182.3 77.8L185.3 78.4L186.8 76.4L183.8 75.8Z"/><path color="#e7745b" d="M164.4 84.1L167.4 84.7L168.9 82.4L165.9 81.8Z"/><path color="#f29274" d="M145 94.8L147.9 95.4L149.5 92.5L146.5 91.9Z"/><path color="#e0654f" d="M177.8 79.3L180.8 79.9L182.3 77.8L179.3 77.2Z"/><path color="#e46e56" d="M168.9 82.4L171.9 83.1L173.4 80.8L170.4 80.2Z"/><path color="#e26952" d="M173.4 80.8L176.3 81.4L177.8 79.3L174.8 78.7Z"/><path color="#f7b89c" d="M131.4 111L134.4 111.6L135.9 107.6L133 106.9Z"/><path color="#f5c1a9" d="M129.9 115.4L132.8 116L134.4 111.6L131.4 111Z"/><path color="#6a8bef" d="M161.6 194.5L164.5 195.3L166.2 180.4L163.3 179.6Z"/><path color="#f5a081" d="M139 100.4L141.9 101L143.5 97.8L140.5 97.2Z"/><path color="#cf453c" d="M212.1 70.7L215.1 71.3L216.5 69.5L213.5 68.9Z"/><path color="#f08b6e" d="M149.5 92.5L152.4 93.1L153.9 90.4L151 89.8Z"/><path color="#afcafc" d="M141.2 161.6L144.2 162.4L145.7 152.6L142.8 151.9Z"/><path color="#d1493f" d="M207.6 71.8L210.6 72.5L212.1 70.7L209.1 70Z"/><path color="#edd2c3" d="M129.8 126.3L132.7 127L134.2 121.6L131.3 120.9Z"/><path color="#d7dce3" d="M132.6 140.8L135.5 141.5L137 134.5L134.1 133.8Z"/><path color="#d44e41" d="M203.2 73.1L206.2 73.7L207.6 71.8L204.6 71.2Z"/><path color="#ee8468" d="M153.9 90.4L156.9 91L158.4 88.4L155.5 87.8Z"/><path color="#f7a889" d="M137.4 103.9L140.4 104.5L141.9 101L139 100.4Z"/><path color="#f4987a" d="M143.5 97.8L146.4 98.4L147.9 95.4L145 94.8Z"/><path color="#e4d9d2" d="M131.2 133.1L134.1 133.8L135.6 127.7L132.7 127Z"/><path color="#d65244" d="M198.7 74.3L201.7 75L203.2 73.1L200.2 72.5Z"/><path color="#ec7f63" d="M158.4 88.4L161.4 89L162.9 86.5L159.9 85.9Z"/><path color="#c6d6f1" d="M136.9 150.4L139.8 151.1L141.4 143L138.4 142.3Z"/><path color="#d85646" d="M194.2 75.7L197.2 76.3L198.7 74.3L195.7 73.7Z"/><path color="#f2c9b4" d="M131.3 120.9L134.2 121.6L135.8 116.7L132.8 116Z"/><path color="#e97a5f" d="M162.9 86.5L165.9 87.1L167.4 84.7L164.4 84.1Z"/><path color="#f7b093" d="M135.9 107.6L138.9 108.2L140.4 104.5L137.4 103.9Z"/><path color="#da5a49" d="M189.8 77L192.8 77.6L194.2 75.7L191.2 75Z"/><path color="#92b4fe" d="M151.4 176.5L154.4 177.3L156 165.4L153 164.6Z"/><path color="#dd5f4b" d="M185.3 78.4L188.3 79L189.8 77L186.8 76.4Z"/><path color="#e7745b" d="M167.4 84.7L170.4 85.4L171.9 83.1L168.9 82.4Z"/><path color="#f29274" d="M147.9 95.4L150.9 96L152.4 93.1L149.5 92.5Z"/><path color="#e0654f" d="M180.8 79.9L183.8 80.5L185.3 78.4L182.3 77.8Z"/><path color="#e46e56" d="M171.9 83.1L174.8 83.7L176.3 81.4L173.4 80.8Z"/><path color="#e26952" d="M176.3 81.4L179.3 82L180.8 79.9L177.8 79.3Z"/><path color="#f7b89c" d="M134.4 111.6L137.3 112.3L138.9 108.2L135.9 107.6Z"/><path color="#f5c0a7" d="M132.8 116L135.8 116.7L137.3 112.3L134.4 111.6Z"/><path color="#6a8bef" d="M164.5 195.3L167.5 196.2L169.2 181.1L166.2 180.4Z"/><path color="#f5a081" d="M141.9 101L144.9 101.7L146.4 98.4L143.5 97.8Z"/><path color="#f08b6e" d="M152.4 93.1L155.4 93.7L156.9 91L153.9 90.4Z"/><path color="#afcafc" d="M144.2 162.4L147.1 163.1L148.7 153.3L145.7 152.6Z"/><path color="#d1493f" d="M210.6 72.5L213.7 73.1L215.1 71.3L212.1 70.7Z"/><path color="#edd2c3" d="M132.7 127L135.6 127.7L137.2 122.3L134.2 121.6Z"/><path color="#d7dce3" d="M135.5 141.5L138.4 142.3L140 135.2L137 134.5Z"/><path color="#d44e41" d="M206.2 73.7L209.2 74.3L210.6 72.5L207.6 71.8Z"/><path color="#ee8468" d="M156.9 91L159.9 91.6L161.4 89L158.4 88.4Z"/><path color="#f7a889" d="M140.4 104.5L143.3 105.2L144.9 101.7L141.9 101Z"/><path color="#f4987a" d="M146.4 98.4L149.4 99.1L150.9 96L147.9 95.4Z"/><path color="#e4d9d2" d="M134.1 133.8L137 134.5L138.6 128.4L135.6 127.7Z"/><path color="#d65244" d="M201.7 75L204.7 75.6L206.2 73.7L203.2 73.1Z"/><path color="#c7d7f0" d="M139.8 151.1L142.8 151.9L144.4 143.7L141.4 143Z"/><path color="#ec7f63" d="M161.4 89L164.4 89.6L165.9 87.1L162.9 86.5Z"/><path color="#d85646" d="M197.2 76.3L200.2 76.9L201.7 75L198.7 74.3Z"/><path color="#f2c9b4" d="M134.2 121.6L137.2 122.3L138.7 117.4L135.8 116.7Z"/><path color="#e9785d" d="M165.9 87.1L168.8 87.8L170.4 85.4L167.4 84.7Z"/><path color="#f7b093" d="M138.9 108.2L141.8 108.9L143.3 105.2L140.4 104.5Z"/><path color="#da5a49" d="M192.8 77.6L195.8 78.3L197.2 76.3L194.2 75.7Z"/><path color="#92b4fe" d="M154.4 177.3L157.3 178L159 166.1L156 165.4Z"/><path color="#dd5f4b" d="M188.3 79L191.3 79.7L192.8 77.6L189.8 77Z"/><path color="#e67259" d="M170.4 85.4L173.3 86L174.8 83.7L171.9 83.1Z"/><path color="#f29274" d="M150.9 96L153.9 96.6L155.4 93.7L152.4 93.1Z"/><path color="#df634e" d="M183.8 80.5L186.8 81.1L188.3 79L185.3 78.4Z"/><path color="#e36c55" d="M174.8 83.7L177.8 84.3L179.3 82L176.3 81.4Z"/><path color="#e26952" d="M179.3 82L182.3 82.7L183.8 80.5L180.8 79.9Z"/><path color="#f5c0a7" d="M135.8 116.7L138.7 117.4L140.3 112.9L137.3 112.3Z"/><path color="#f7b89c" d="M137.3 112.3L140.3 112.9L141.8 108.9L138.9 108.2Z"/><path color="#6a8bef" d="M167.5 196.2L170.5 197L172.2 181.9L169.2 181.1Z"/><path color="#f5a081" d="M144.9 101.7L147.8 102.3L149.4 99.1L146.4 98.4Z"/><path color="#b1cbfc" d="M147.1 163.1L150.1 163.9L151.7 154.1L148.7 153.3Z"/><path color="#f08b6e" d="M155.4 93.7L158.3 94.4L159.9 91.6L156.9 91Z"/><path color="#edd1c2" d="M135.6 127.7L138.6 128.4L140.1 122.9L137.2 122.3Z"/><path color="#d8dce2" d="M138.4 142.3L141.4 143L143 135.9L140 135.2Z"/><path color="#d24b40" d="M209.2 74.3L212.2 74.9L213.7 73.1L210.6 72.5Z"/><path color="#ee8468" d="M159.9 91.6L162.8 92.3L164.4 89.6L161.4 89Z"/><path color="#f7a889" d="M143.3 105.2L146.3 105.8L147.8 102.3L144.9 101.7Z"/><path color="#e4d9d2" d="M137 134.5L140 135.2L141.5 129.1L138.6 128.4Z"/><path color="#f4987a" d="M149.4 99.1L152.3 99.7L153.9 96.6L150.9 96Z"/><path color="#d55042" d="M204.7 75.6L207.7 76.2L209.2 74.3L206.2 73.7Z"/><path color="#c7d7f0" d="M142.8 151.9L145.7 152.6L147.3 144.4L144.4 143.7Z"/><path color="#eb7d62" d="M164.4 89.6L167.3 90.3L168.8 87.8L165.9 87.1Z"/><path color="#d75445" d="M200.2 76.9L203.2 77.5L204.7 75.6L201.7 75Z"/><path color="#f2c9b4" d="M137.2 122.3L140.1 122.9L141.7 118L138.7 117.4Z"/><path color="#92b4fe" d="M157.3 178L160.3 178.8L162 166.9L159 166.1Z"/><path color="#f7b093" d="M141.8 108.9L144.8 109.5L146.3 105.8L143.3 105.2Z"/><path color="#e9785d" d="M168.8 87.8L171.8 88.4L173.3 86L170.4 85.4Z"/><path color="#da5a49" d="M195.8 78.3L198.8 78.9L200.2 76.9L197.2 76.3Z"/><path color="#dd5f4b" d="M191.3 79.7L194.3 80.3L195.8 78.3L192.8 77.6Z"/><path color="#e67259" d="M173.3 86L176.3 86.6L177.8 84.3L174.8 83.7Z"/><path color="#f29274" d="M153.9 96.6L156.8 97.3L158.3 94.4L155.4 93.7Z"/><path color="#df634e" d="M186.8 81.1L189.8 81.8L191.3 79.7L188.3 79Z"/><path color="#e36c55" d="M177.8 84.3L180.8 84.9L182.3 82.7L179.3 82Z"/><path color="#e26952" d="M182.3 82.7L185.3 83.3L186.8 81.1L183.8 80.5Z"/><path color="#f7b89c" d="M140.3 112.9L143.2 113.6L144.8 109.5L141.8 108.9Z"/><path color="#f5c0a7" d="M138.7 117.4L141.7 118L143.2 113.6L140.3 112.9Z"/><path color="#f5a081" d="M147.8 102.3L150.8 103L152.3 99.7L149.4 99.1Z"/><path color="#b1cbfc" d="M150.1 163.9L153 164.6L154.6 154.8L151.7 154.1Z"/><path color="#f08a6c" d="M158.3 94.4L161.3 95L162.8 92.3L159.9 91.6Z"/><path color="#edd1c2" d="M138.6 128.4L141.5 129.1L143.1 123.6L140.1 122.9Z"/><path color="#d8dce2" d="M141.4 143L144.4 143.7L145.9 136.6L143 135.9Z"/><path color="#ee8468" d="M162.8 92.3L165.8 92.9L167.3 90.3L164.4 89.6Z"/><path color="#f7a889" d="M146.3 105.8L149.3 106.4L150.8 103L147.8 102.3Z"/><path color="#e4d9d2" d="M140 135.2L143 135.9L144.5 129.8L141.5 129.1Z"/><path color="#f4987a" d="M152.3 99.7L155.3 100.3L156.8 97.3L153.9 96.6Z"/><path color="#d55042" d="M207.7 76.2L210.7 76.8L212.2 74.9L209.2 74.3Z"/><path color="#c7d7f0" d="M145.7 152.6L148.7 153.3L150.3 145.1L147.3 144.4Z"/><path color="#eb7d62" d="M167.3 90.3L170.3 90.9L171.8 88.4L168.8 87.8Z"/><path color="#d75445" d="M203.2 77.5L206.3 78.1L207.7 76.2L204.7 75.6Z"/><path color="#92b4fe" d="M160.3 178.8L163.3 179.6L164.9 167.6L162 166.9Z"/><path color="#f2c9b4" d="M140.1 122.9L143.1 123.6L144.6 118.7L141.7 118Z"/><path color="#f7af91" d="M144.8 109.5L147.7 110.2L149.3 106.4L146.3 105.8Z"/><path color="#e9785d" d="M171.8 88.4L174.8 89L176.3 86.6L173.3 86Z"/><path color="#d95847" d="M198.8 78.9L201.8 79.5L203.2 77.5L200.2 76.9Z"/><path color="#dd5f4b" d="M194.3 80.3L197.3 80.9L198.8 78.9L195.8 78.3Z"/><path color="#e67259" d="M176.3 86.6L179.3 87.2L180.8 84.9L177.8 84.3Z"/><path color="#f29072" d="M156.8 97.3L159.8 97.9L161.3 95L158.3 94.4Z"/><path color="#df634e" d="M189.8 81.8L192.8 82.4L194.3 80.3L191.3 79.7Z"/><path color="#e36c55" d="M180.8 84.9L183.8 85.5L185.3 83.3L182.3 82.7Z"/><path color="#e16751" d="M185.3 83.3L188.3 83.9L189.8 81.8L186.8 81.1Z"/><path color="#f5c0a7" d="M141.7 118L144.6 118.7L146.2 114.3L143.2 113.6Z"/><path color="#f7b89c" d="M143.2 113.6L146.2 114.3L147.7 110.2L144.8 109.5Z"/><path color="#f59f80" d="M150.8 103L153.8 103.6L155.3 100.3L152.3 99.7Z"/><path color="#b1cbfc" d="M153 164.6L156 165.4L157.6 155.6L154.6 154.8Z"/><path color="#f08a6c" d="M161.3 95L164.3 95.6L165.8 92.9L162.8 92.3Z"/><path color="#edd1c2" d="M141.5 129.1L144.5 129.8L146.1 124.3L143.1 123.6Z"/><path color="#d8dce2" d="M144.4 143.7L147.3 144.4L148.9 137.3L145.9 136.6Z"/><path color="#ee8468" d="M165.8 92.9L168.8 93.5L170.3 90.9L167.3 90.3Z"/><path color="#f7a889" d="M149.3 106.4L152.2 107.1L153.8 103.6L150.8 103Z"/><path color="#e4d9d2" d="M143 135.9L145.9 136.6L147.5 130.4L144.5 129.8Z"/><path color="#f4987a" d="M155.3 100.3L158.3 101L159.8 97.9L156.8 97.3Z"/><path color="#c7d7f0" d="M148.7 153.3L151.7 154.1L153.3 145.8L150.3 145.1Z"/><path color="#eb7d62" d="M170.3 90.9L173.3 91.5L174.8 89L171.8 88.4Z"/><path color="#d75445" d="M206.3 78.1L209.3 78.8L210.7 76.8L207.7 76.2Z"/><path color="#92b4fe" d="M163.3 179.6L166.2 180.4L167.9 168.4L164.9 167.6Z"/><path color="#f2c9b4" d="M143.1 123.6L146.1 124.3L147.6 119.4L144.6 118.7Z"/><path color="#f7af91" d="M147.7 110.2L150.7 110.9L152.2 107.1L149.3 106.4Z"/><path color="#e9785d" d="M174.8 89L177.8 89.7L179.3 87.2L176.3 86.6Z"/><path color="#d95847" d="M201.8 79.5L204.8 80.1L206.3 78.1L203.2 77.5Z"/><path color="#dc5d4a" d="M197.3 80.9L200.3 81.5L201.8 79.5L198.8 78.9Z"/><path color="#e67259" d="M179.3 87.2L182.3 87.9L183.8 85.5L180.8 84.9Z"/><path color="#f29072" d="M159.8 97.9L162.8 98.5L164.3 95.6L161.3 95Z"/><path color="#df634e" d="M192.8 82.4L195.8 83L197.3 80.9L194.3 80.3Z"/><path color="#e36c55" d="M183.8 85.5L186.8 86.2L188.3 83.9L185.3 83.3Z"/><path color="#f5c0a7" d="M144.6 118.7L147.6 119.4L149.2 114.9L146.2 114.3Z"/><path color="#e16751" d="M188.3 83.9L191.3 84.6L192.8 82.4L189.8 81.8Z"/><path color="#f7b89c" d="M146.2 114.3L149.2 114.9L150.7 110.9L147.7 110.2Z"/><path color="#f59f80" d="M153.8 103.6L156.7 104.2L158.3 101L155.3 100.3Z"/><path color="#b1cbfc" d="M156 165.4L159 166.1L160.6 156.3L157.6 155.6Z"/><path color="#f08a6c" d="M164.3 95.6L167.3 96.3L168.8 93.5L165.8 92.9Z"/><path color="#edd1c2" d="M144.5 129.8L147.5 130.4L149 125L146.1 124.3Z"/><path color="#d8dce2" d="M147.3 144.4L150.3 145.1L151.9 138.1L148.9 137.3Z"/><path color="#ed8366" d="M168.8 93.5L171.8 94.2L173.3 91.5L170.3 90.9Z"/><path color="#e4d9d2" d="M145.9 136.6L148.9 137.3L150.4 131.1L147.5 130.4Z"/><path color="#f7a688" d="M152.2 107.1L155.2 107.7L156.7 104.2L153.8 103.6Z"/><path color="#f39778" d="M158.3 101L161.3 101.6L162.8 98.5L159.8 97.9Z"/><path color="#c7d7f0" d="M151.7 154.1L154.6 154.8L156.2 146.6L153.3 145.8Z"/><path color="#eb7d62" d="M173.3 91.5L176.3 92.2L177.8 89.7L174.8 89Z"/><path color="#92b4fe" d="M166.2 180.4L169.2 181.1L170.9 169.2L167.9 168.4Z"/><path color="#f2c9b4" d="M146.1 124.3L149 125L150.6 120.1L147.6 119.4Z"/><path color="#f7af91" d="M150.7 110.9L153.7 111.5L155.2 107.7L152.2 107.1Z"/><path color="#d95847" d="M204.8 80.1L207.8 80.8L209.3 78.8L206.3 78.1Z"/><path color="#e9785d" d="M177.8 89.7L180.8 90.3L182.3 87.9L179.3 87.2Z"/><path color="#dc5d4a" d="M200.3 81.5L203.3 82.2L204.8 80.1L201.8 79.5Z"/><path color="#e67259" d="M182.3 87.9L185.3 88.5L186.8 86.2L183.8 85.5Z"/><path color="#f29072" d="M162.8 98.5L165.8 99.2L167.3 96.3L164.3 95.6Z"/><path color="#df634e" d="M195.8 83L198.8 83.6L200.3 81.5L197.3 80.9Z"/><path color="#e36c55" d="M186.8 86.2L189.8 86.8L191.3 84.6L188.3 83.9Z"/><path color="#f5c0a7" d="M147.6 119.4L150.6 120.1L152.1 115.6L149.2 114.9Z"/><path color="#f7b79b" d="M149.2 114.9L152.1 115.6L153.7 111.5L150.7 110.9Z"/><path color="#e16751" d="M191.3 84.6L194.3 85.2L195.8 83L192.8 82.4Z"/><path color="#f59f80" d="M156.7 104.2L159.7 104.9L161.3 101.6L158.3 101Z"/><path color="#b1cbfc" d="M159 166.1L162 166.9L163.6 157.1L160.6 156.3Z"/><path color="#f08a6c" d="M167.3 96.3L170.3 96.9L171.8 94.2L168.8 93.5Z"/><path color="#edd1c2" d="M147.5 130.4L150.4 131.1L152 125.7L149 125Z"/><path color="#d8dce2" d="M150.3 145.1L153.3 145.8L154.8 138.8L151.9 138.1Z"/><path color="#e4d9d2" d="M148.9 137.3L151.9 138.1L153.4 131.9L150.4 131.1Z"/><path color="#ed8366" d="M171.8 94.2L174.8 94.8L176.3 92.2L173.3 91.5Z"/><path color="#f7a688" d="M155.2 107.7L158.2 108.4L159.7 104.9L156.7 104.2Z"/><path color="#c7d7f0" d="M154.6 154.8L157.6 155.6L159.2 147.3L156.2 146.6Z"/><path color="#f39778" d="M161.3 101.6L164.2 102.3L165.8 99.2L162.8 98.5Z"/><path color="#92b4fe" d="M169.2 181.1L172.2 181.9L173.9 169.9L170.9 169.2Z"/><path color="#eb7d62" d="M176.3 92.2L179.3 92.8L180.8 90.3L177.8 89.7Z"/><path color="#f2c9b4" d="M149 125L152 125.7L153.6 120.7L150.6 120.1Z"/><path color="#f7af91" d="M153.7 111.5L156.6 112.2L158.2 108.4L155.2 107.7Z"/><path color="#e8765c" d="M180.8 90.3L183.8 90.9L185.3 88.5L182.3 87.9Z"/><path color="#dc5d4a" d="M203.3 82.2L206.4 82.8L207.8 80.8L204.8 80.1Z"/><path color="#e57058" d="M185.3 88.5L188.3 89.1L189.8 86.8L186.8 86.2Z"/><path color="#f29072" d="M165.8 99.2L168.8 99.8L170.3 96.9L167.3 96.3Z"/><path color="#de614d" d="M198.8 83.6L201.8 84.3L203.3 82.2L200.3 81.5Z"/><path color="#f6bfa6" d="M150.6 120.1L153.6 120.7L155.1 116.3L152.1 115.6Z"/><path color="#e36c55" d="M189.8 86.8L192.8 87.4L194.3 85.2L191.3 84.6Z"/><path color="#f7b79b" d="M152.1 115.6L155.1 116.3L156.6 112.2L153.7 111.5Z"/><path color="#e16751" d="M194.3 85.2L197.3 85.8L198.8 83.6L195.8 83Z"/><path color="#f59f80" d="M159.7 104.9L162.7 105.5L164.2 102.3L161.3 101.6Z"/><path color="#b1cbfc" d="M162 166.9L164.9 167.6L166.6 157.8L163.6 157.1Z"/><path color="#f08a6c" d="M170.3 96.9L173.3 97.6L174.8 94.8L171.8 94.2Z"/><path color="#edd1c2" d="M150.4 131.1L153.4 131.9L155 126.3L152 125.7Z"/><path color="#d8dce2" d="M153.3 145.8L156.2 146.6L157.8 139.5L154.8 138.8Z"/><path color="#e5d8d1" d="M151.9 138.1L154.8 138.8L156.4 132.5L153.4 131.9Z"/><path color="#ed8366" d="M174.8 94.8L177.8 95.4L179.3 92.8L176.3 92.2Z"/><path color="#f7a688" d="M158.2 108.4L161.2 109.1L162.7 105.5L159.7 104.9Z"/><path color="#c7d7f0" d="M157.6 155.6L160.6 156.3L162.2 148L159.2 147.3Z"/><path color="#f39778" d="M164.2 102.3L167.2 102.9L168.8 99.8L165.8 99.2Z"/><path color="#ea7b60" d="M179.3 92.8L182.3 93.4L183.8 90.9L180.8 90.3Z"/><path color="#f3c8b2" d="M152 125.7L155 126.3L156.5 121.4L153.6 120.7Z"/><path color="#f7af91" d="M156.6 112.2L159.6 112.8L161.2 109.1L158.2 108.4Z"/><path color="#e8765c" d="M183.8 90.9L186.8 91.6L188.3 89.1L185.3 88.5Z"/><path color="#e57058" d="M188.3 89.1L191.3 89.8L192.8 87.4L189.8 86.8Z"/><path color="#f29072" d="M168.8 99.8L171.8 100.5L173.3 97.6L170.3 96.9Z"/><path color="#de614d" d="M201.8 84.3L204.9 84.9L206.4 82.8L203.3 82.2Z"/><path color="#f6bfa6" d="M153.6 120.7L156.5 121.4L158.1 116.9L155.1 116.3Z"/><path color="#e36b54" d="M192.8 87.4L195.9 88.1L197.3 85.8L194.3 85.2Z"/><path color="#f7b79b" d="M155.1 116.3L158.1 116.9L159.6 112.8L156.6 112.2Z"/><path color="#e16751" d="M197.3 85.8L200.4 86.5L201.8 84.3L198.8 83.6Z"/><path color="#f59f80" d="M162.7 105.5L165.7 106.2L167.2 102.9L164.2 102.3Z"/><path color="#b1cbfc" d="M164.9 167.6L167.9 168.4L169.6 158.5L166.6 157.8Z"/><path color="#f08a6c" d="M173.3 97.6L176.3 98.2L177.8 95.4L174.8 94.8Z"/><path color="#d8dce2" d="M156.2 146.6L159.2 147.3L160.8 140.2L157.8 139.5Z"/><path color="#edd1c2" d="M153.4 131.9L156.4 132.5L158 127L155 126.3Z"/><path color="#e5d8d1" d="M154.8 138.8L157.8 139.5L159.4 133.2L156.4 132.5Z"/><path color="#f7a688" d="M161.2 109.1L164.2 109.7L165.7 106.2L162.7 105.5Z"/><path color="#ed8366" d="M177.8 95.4L180.8 96.1L182.3 93.4L179.3 92.8Z"/><path color="#c7d7f0" d="M160.6 156.3L163.6 157.1L165.2 148.8L162.2 148Z"/><path color="#f39778" d="M167.2 102.9L170.2 103.6L171.8 100.5L168.8 99.8Z"/><path color="#ea7b60" d="M182.3 93.4L185.3 94.1L186.8 91.6L183.8 90.9Z"/><path color="#f3c8b2" d="M155 126.3L158 127L159.5 122.1L156.5 121.4Z"/><path color="#f7af91" d="M159.6 112.8L162.6 113.5L164.2 109.7L161.2 109.1Z"/><path color="#e8765c" d="M186.8 91.6L189.8 92.2L191.3 89.8L188.3 89.1Z"/><path color="#e57058" d="M191.3 89.8L194.4 90.4L195.9 88.1L192.8 87.4Z"/><path color="#f18f71" d="M171.8 100.5L174.8 101.1L176.3 98.2L173.3 97.6Z"/><path color="#f6bfa6" d="M156.5 121.4L159.5 122.1L161.1 117.6L158.1 116.9Z"/><path color="#f7b79b" d="M158.1 116.9L161.1 117.6L162.6 113.5L159.6 112.8Z"/><path color="#e36b54" d="M195.9 88.1L198.9 88.7L200.4 86.5L197.3 85.8Z"/><path color="#e16751" d="M200.4 86.5L203.4 87.1L204.9 84.9L201.8 84.3Z"/><path color="#b1cbfc" d="M167.9 168.4L170.9 169.2L172.6 159.3L169.6 158.5Z"/><path color="#f59f80" d="M165.7 106.2L168.7 106.9L170.2 103.6L167.2 102.9Z"/><path color="#d8dce2" d="M159.2 147.3L162.2 148L163.8 140.9L160.8 140.2Z"/><path color="#eed0c0" d="M156.4 132.5L159.4 133.2L161 127.7L158 127Z"/><path color="#ef886b" d="M176.3 98.2L179.3 98.9L180.8 96.1L177.8 95.4Z"/><path color="#e5d8d1" d="M157.8 139.5L160.8 140.2L162.4 134L159.4 133.2Z"/><path color="#c7d7f0" d="M163.6 157.1L166.6 157.8L168.2 149.5L165.2 148.8Z"/><path color="#f7a688" d="M164.2 109.7L167.2 110.4L168.7 106.9L165.7 106.2Z"/><path color="#ed8366" d="M180.8 96.1L183.8 96.7L185.3 94.1L182.3 93.4Z"/><path color="#f39778" d="M170.2 103.6L173.2 104.2L174.8 101.1L171.8 100.5Z"/><path color="#ea7b60" d="M185.3 94.1L188.3 94.7L189.8 92.2L186.8 91.6Z"/><path color="#f3c8b2" d="M158 127L161 127.7L162.5 122.8L159.5 122.1Z"/><path color="#f7ad90" d="M162.6 113.5L165.6 114.2L167.2 110.4L164.2 109.7Z"/><path color="#e8765c" d="M189.8 92.2L192.9 92.8L194.4 90.4L191.3 89.8Z"/><path color="#e57058" d="M194.4 90.4L197.4 91.1L198.9 88.7L195.9 88.1Z"/><path color="#f6bfa6" d="M159.5 122.1L162.5 122.8L164.1 118.3L161.1 117.6Z"/><path color="#f18f71" d="M174.8 101.1L177.8 101.8L179.3 98.9L176.3 98.2Z"/><path color="#f7b79b" d="M161.1 117.6L164.1 118.3L165.6 114.2L162.6 113.5Z"/><path color="#e36b54" d="M198.9 88.7L201.9 89.4L203.4 87.1L200.4 86.5Z"/><path color="#b1cbfc" d="M170.9 169.2L173.9 169.9L175.6 160.1L172.6 159.3Z"/><path color="#f59d7e" d="M168.7 106.9L171.7 107.5L173.2 104.2L170.2 103.6Z"/><path color="#d8dce2" d="M162.2 148L165.2 148.8L166.8 141.6L163.8 140.9Z"/><path color="#eed0c0" d="M159.4 133.2L162.4 134L164 128.4L161 127.7Z"/><path color="#ef886b" d="M179.3 98.9L182.3 99.5L183.8 96.7L180.8 96.1Z"/><path color="#e5d8d1" d="M160.8 140.2L163.8 140.9L165.4 134.7L162.4 134Z"/><path color="#c7d7f0" d="M166.6 157.8L169.6 158.5L171.2 150.2L168.2 149.5Z"/><path color="#f7a688" d="M167.2 110.4L170.2 111.1L171.7 107.5L168.7 106.9Z"/><path color="#ec8165" d="M183.8 96.7L186.8 97.4L188.3 94.7L185.3 94.1Z"/><path color="#f39778" d="M173.2 104.2L176.2 104.9L177.8 101.8L174.8 101.1Z"/><path color="#ea7b60" d="M188.3 94.7L191.4 95.4L192.9 92.8L189.8 92.2Z"/><path color="#f3c8b2" d="M161 127.7L164 128.4L165.5 123.5L162.5 122.8Z"/><path color="#f7ad90" d="M165.6 114.2L168.6 114.9L170.2 111.1L167.2 110.4Z"/><path color="#e8765c" d="M192.9 92.8L195.9 93.5L197.4 91.1L194.4 90.4Z"/><path color="#e57058" d="M197.4 91.1L200.4 91.7L201.9 89.4L198.9 88.7Z"/><path color="#f6bfa6" d="M162.5 122.8L165.5 123.5L167.1 119L164.1 118.3Z"/><path color="#f18f71" d="M177.8 101.8L180.8 102.4L182.3 99.5L179.3 98.9Z"/><path color="#f7b79b" d="M164.1 118.3L167.1 119L168.6 114.9L165.6 114.2Z"/><path color="#f59d7e" d="M171.7 107.5L174.7 108.2L176.2 104.9L173.2 104.2Z"/><path color="#d8dce2" d="M165.2 148.8L168.2 149.5L169.8 142.4L166.8 141.6Z"/><path color="#eed0c0" d="M162.4 134L165.4 134.7L167 129.1L164 128.4Z"/><path color="#ef886b" d="M182.3 99.5L185.3 100.2L186.8 97.4L183.8 96.7Z"/><path color="#e5d8d1" d="M163.8 140.9L166.8 141.6L168.4 135.4L165.4 134.7Z"/><path color="#c7d7f0" d="M169.6 158.5L172.6 159.3L174.2 150.9L171.2 150.2Z"/><path color="#f6a586" d="M170.2 111.1L173.2 111.7L174.7 108.2L171.7 107.5Z"/><path color="#ec8165" d="M186.8 97.4L189.9 98L191.4 95.4L188.3 94.7Z"/><path color="#f39577" d="M176.2 104.9L179.3 105.6L180.8 102.4L177.8 101.8Z"/><path color="#ea7b60" d="M191.4 95.4L194.4 96L195.9 93.5L192.9 92.8Z"/><path color="#f3c8b2" d="M164 128.4L167 129.1L168.5 124.2L165.5 123.5Z"/><path color="#f7ad90" d="M168.6 114.9L171.6 115.5L173.2 111.7L170.2 111.1Z"/><path color="#e8765c" d="M195.9 93.5L198.9 94.1L200.4 91.7L197.4 91.1Z"/><path color="#f6bfa6" d="M165.5 123.5L168.5 124.2L170.1 119.7L167.1 119Z"/><path color="#f18f71" d="M180.8 102.4L183.8 103.1L185.3 100.2L182.3 99.5Z"/><path color="#f7b599" d="M167.1 119L170.1 119.7L171.6 115.5L168.6 114.9Z"/><path color="#f59d7e" d="M174.7 108.2L177.7 108.9L179.3 105.6L176.2 104.9Z"/><path color="#d8dce2" d="M168.2 149.5L171.2 150.2L172.8 143.1L169.8 142.4Z"/><path color="#eed0c0" d="M165.4 134.7L168.4 135.4L170 129.8L167 129.1Z"/><path color="#ef886b" d="M185.3 100.2L188.3 100.8L189.9 98L186.8 97.4Z"/><path color="#e5d8d1" d="M166.8 141.6L169.8 142.4L171.4 136.1L168.4 135.4Z"/><path color="#c7d7f0" d="M172.6 159.3L175.6 160.1L177.2 151.7L174.2 150.9Z"/><path color="#f6a586" d="M173.2 111.7L176.2 112.4L177.7 108.9L174.7 108.2Z"/><path color="#ec8165" d="M189.9 98L192.9 98.7L194.4 96L191.4 95.4Z"/><path color="#f39577" d="M179.3 105.6L182.3 106.2L183.8 103.1L180.8 102.4Z"/><path color="#ea7b60" d="M194.4 96L197.4 96.7L198.9 94.1L195.9 93.5Z"/><path color="#f3c8b2" d="M167 129.1L170 129.8L171.5 124.9L168.5 124.2Z"/><path color="#f7ad90" d="M171.6 115.5L174.6 116.2L176.2 112.4L173.2 111.7Z"/><path color="#f6bfa6" d="M168.5 124.2L171.5 124.9L173.1 120.3L170.1 119.7Z"/><path color="#f7b599" d="M170.1 119.7L173.1 120.3L174.6 116.2L171.6 115.5Z"/><path color="#f18f71" d="M183.8 103.1L186.8 103.8L188.3 100.8L185.3 100.2Z"/><path color="#f59d7e" d="M177.7 108.9L180.7 109.5L182.3 106.2L179.3 105.6Z"/><path color="#d9dce1" d="M171.2 150.2L174.2 150.9L175.8 143.8L172.8 143.1Z"/><path color="#eed0c0" d="M168.4 135.4L171.4 136.1L173 130.5L170 129.8Z"/><path color="#ef886b" d="M188.3 100.8L191.4 101.5L192.9 98.7L189.9 98Z"/><path color="#e5d8d1" d="M169.8 142.4L172.8 143.1L174.4 136.8L171.4 136.1Z"/><path color="#f6a586" d="M176.2 112.4L179.2 113.1L180.7 109.5L177.7 108.9Z"/><path color="#ec8165" d="M192.9 98.7L195.9 99.3L197.4 96.7L194.4 96Z"/><path color="#f39577" d="M182.3 106.2L185.3 106.9L186.8 103.8L183.8 103.1Z"/><path color="#f3c8b2" d="M170 129.8L173 130.5L174.5 125.5L171.5 124.9Z"/><path color="#f7ad90" d="M174.6 116.2L177.7 116.9L179.2 113.1L176.2 112.4Z"/><path color="#f6bea4" d="M171.5 124.9L174.5 125.5L176.1 121L173.1 120.3Z"/><path color="#f7b599" d="M173.1 120.3L176.1 121L177.7 116.9L174.6 116.2Z"/><path color="#f18f71" d="M186.8 103.8L189.9 104.4L191.4 101.5L188.3 100.8Z"/><path color="#f59d7e" d="M180.7 109.5L183.8 110.2L185.3 106.9L182.3 106.2Z"/><path color="#d9dce1" d="M174.2 150.9L177.2 151.7L178.8 144.5L175.8 143.8Z"/><path color="#eed0c0" d="M171.4 136.1L174.4 136.8L176 131.2L173 130.5Z"/><path color="#ef886b" d="M191.4 101.5L194.4 102.2L195.9 99.3L192.9 98.7Z"/><path color="#e5d8d1" d="M172.8 143.1L175.8 143.8L177.4 137.5L174.4 136.8Z"/><path color="#f6a586" d="M179.2 113.1L182.2 113.8L183.8 110.2L180.7 109.5Z"/><path color="#f39577" d="M185.3 106.9L188.3 107.6L189.9 104.4L186.8 103.8Z"/><path color="#f3c7b1" d="M173 130.5L176 131.2L177.6 126.3L174.5 125.5Z"/><path color="#f7ad90" d="M177.7 116.9L180.7 117.6L182.2 113.8L179.2 113.1Z"/><path color="#f6bea4" d="M174.5 125.5L177.6 126.3L179.1 121.7L176.1 121Z"/><path color="#f7b599" d="M176.1 121L179.1 121.7L180.7 117.6L177.7 116.9Z"/><path color="#f18d6f" d="M189.9 104.4L192.9 105.1L194.4 102.2L191.4 101.5Z"/><path color="#f59d7e" d="M183.8 110.2L186.8 110.9L188.3 107.6L185.3 106.9Z"/><path color="#eed0c0" d="M174.4 136.8L177.4 137.5L179 132L176 131.2Z"/><path color="#e5d8d1" d="M175.8 143.8L178.8 144.5L180.5 138.3L177.4 137.5Z"/><path color="#f6a586" d="M182.2 113.8L185.3 114.5L186.8 110.9L183.8 110.2Z"/><path color="#f39577" d="M188.3 107.6L191.4 108.2L192.9 105.1L189.9 104.4Z"/><path color="#f3c7b1" d="M176 131.2L179 132L180.6 127L177.6 126.3Z"/><path color="#f7ad90" d="M180.7 117.6L183.7 118.3L185.3 114.5L182.2 113.8Z"/><path color="#f6bea4" d="M177.6 126.3L180.6 127L182.2 122.4L179.1 121.7Z"/><path color="#f7b599" d="M179.1 121.7L182.2 122.4L183.7 118.3L180.7 117.6Z"/><path color="#f59c7d" d="M186.8 110.9L189.8 111.6L191.4 108.2L188.3 107.6Z"/><path color="#eed0c0" d="M177.4 137.5L180.5 138.3L182 132.7L179 132Z"/><path color="#f6a586" d="M185.3 114.5L188.3 115.1L189.8 111.6L186.8 110.9Z"/><path color="#f3c7b1" d="M179 132L182 132.7L183.6 127.7L180.6 127Z"/><path color="#f7ac8e" d="M183.7 118.3L186.7 119L188.3 115.1L185.3 114.5Z"/><path color="#f6bea4" d="M180.6 127L183.6 127.7L185.2 123.1L182.2 122.4Z"/><path color="#f7b599" d="M182.2 122.4L185.2 123.1L186.7 119L183.7 118.3Z"/></g>
<path d="M12.2 187.5L161.6 229.4M161.6 229.4L241.8 158.9M241.8 158.9L248 38.1" fill="none" stroke="#111" stroke-width="1.15" stroke-linecap="round"/>
<path d="M16 187.6L14.2 189M43.7 195.4L41.9 196.8M71.8 203.3L70.1 204.7M100.5 211.3L98.8 212.8M129.7 219.5L128 221M159.3 227.8L157.6 229.3M162.1 227.6L165.2 228.5M175.7 215.6L178.8 216.4M189 203.9L192.1 204.7M202 192.5L205 193.3M214.7 181.4L217.7 182.2M227 170.5L230 171.3M239.1 159.9L242.1 160.7M240.7 157.1L244.2 158M241.7 135.7L245.3 136.6M242.9 113.9L246.5 114.8M244 91.6L247.6 92.5M245.1 68.9L248.8 69.8M246.3 45.8L250.1 46.6" fill="none" stroke="#333" stroke-width="0.7"/>
<text x="10.6" y="205.2" font-size="11.2" letter-spacing="0.3" stroke="#000" stroke-width="0.2" text-anchor="middle">0.00</text>
<text x="38.2" y="213.1" font-size="11.2" letter-spacing="0.3" stroke="#000" stroke-width="0.2" text-anchor="middle">0.02</text>
<text x="66.6" y="221.2" font-size="11.2" letter-spacing="0.3" stroke="#000" stroke-width="0.2" text-anchor="middle">0.04</text>
<text x="95.2" y="229.3" font-size="11.2" letter-spacing="0.3" stroke="#000" stroke-width="0.2" text-anchor="middle">0.06</text>
<text x="124.7" y="237.7" font-size="11.2" letter-spacing="0.3" stroke="#000" stroke-width="0.2" text-anchor="middle">0.08</text>
<text x="153.7" y="245.9" font-size="11.2" letter-spacing="0.3" stroke="#000" stroke-width="0.2" text-anchor="middle">0.10</text>
<text x="170.3" y="243.9" font-size="11.2" letter-spacing="0.3" stroke="#000" stroke-width="0.2" text-anchor="middle">0</text>
<text x="184.6" y="231.2" font-size="11.2" letter-spacing="0.3" stroke="#000" stroke-width="0.2" text-anchor="middle">500</text>
<text x="197.9" y="219.2" font-size="11.2" letter-spacing="0.3" stroke="#000" stroke-width="0.2" text-anchor="middle">1000</text>
<text x="210.4" y="208.3" font-size="11.2" letter-spacing="0.3" stroke="#000" stroke-width="0.2" text-anchor="middle">1500</text>
<text x="222.5" y="197.2" font-size="11.2" letter-spacing="0.3" stroke="#000" stroke-width="0.2" text-anchor="middle">2000</text>
<text x="234.7" y="186.6" font-size="11.2" letter-spacing="0.3" stroke="#000" stroke-width="0.2" text-anchor="middle">2500</text>
<text x="246.9" y="175.8" font-size="11.2" letter-spacing="0.3" stroke="#000" stroke-width="0.2" text-anchor="middle">3000</text>
<text x="252.9" y="162.9" font-size="11.2" letter-spacing="0.3" stroke="#000" stroke-width="0.2" text-anchor="middle">−60</text>
<text x="254.2" y="141.9" font-size="11.2" letter-spacing="0.3" stroke="#000" stroke-width="0.2" text-anchor="middle">−50</text>
<text x="255.5" y="119.8" font-size="11.2" letter-spacing="0.3" stroke="#000" stroke-width="0.2" text-anchor="middle">−40</text>
<text x="256.4" y="98.4" font-size="11.2" letter-spacing="0.3" stroke="#000" stroke-width="0.2" text-anchor="middle">−30</text>
<text x="258" y="75.6" font-size="11.2" letter-spacing="0.3" stroke="#000" stroke-width="0.2" text-anchor="middle">−20</text>
<text x="258.7" y="52.9" font-size="11.2" letter-spacing="0.3" stroke="#000" stroke-width="0.2" text-anchor="middle">−10</text>
<text transform="translate(75 237.4) rotate(15.7)" font-size="13.0" stroke="#000" stroke-width="0.15" text-anchor="middle" y="4.3">1/E (m/MV)</text>
<text transform="translate(223.7 217.1) rotate(-41.2)" font-size="12.5" stroke="#000" stroke-width="0.15" text-anchor="middle" y="4.2">T (K)</text>
<text transform="translate(277.8 99) rotate(-90)" font-size="11.3" font-weight="bold" text-anchor="middle" y="3.3">ln(J/E²)</text>
<text font-size="11.8" x="101.6" y="8.1" stroke="#000" stroke-width="0.2" word-spacing="0.5">ϕ =1.5 eV</text>
<defs><linearGradient id="cb" x1="0" y1="1" x2="0" y2="0">
<stop offset="0.0000" stop-color="#3b4cc0"/>
<stop offset="0.0625" stop-color="#4e68d8"/>
<stop offset="0.1250" stop-color="#6282ea"/>
<stop offset="0.1875" stop-color="#779af7"/>
<stop offset="0.2500" stop-color="#8db0fe"/>
<stop offset="0.3125" stop-color="#a3c2fe"/>
<stop offset="0.3750" stop-color="#b9d0f9"/>
<stop offset="0.4375" stop-color="#ccd9ed"/>
<stop offset="0.5000" stop-color="#dddcdc"/>
<stop offset="0.5625" stop-color="#ecd3c5"/>
<stop offset="0.6250" stop-color="#f5c4ac"/>
<stop offset="0.6875" stop-color="#f7b093"/>
<stop offset="0.7500" stop-color="#f4987a"/>
<stop offset="0.8125" stop-color="#eb7d62"/>
<stop offset="0.8750" stop-color="#dd5f4b"/>
<stop offset="0.9375" stop-color="#ca3b37"/>
<stop offset="1.0000" stop-color="#b40426"/>
</linearGradient></defs>
<rect x="296.5" y="66.3" width="13.2" height="101.2" fill="url(#cb)" stroke="#000" stroke-width="1.05"/>
<text x="317.8" y="75.6" font-size="12" letter-spacing="0.3" stroke="#000" stroke-width="0.2" text-anchor="start">−10</text>
<text x="317.8" y="96.3" font-size="12" letter-spacing="0.3" stroke="#000" stroke-width="0.2" text-anchor="start">−20</text>
<text x="317.8" y="117" font-size="12" letter-spacing="0.3" stroke="#000" stroke-width="0.2" text-anchor="start">−30</text>
<text x="317.8" y="137.8" font-size="12" letter-spacing="0.3" stroke="#000" stroke-width="0.2" text-anchor="start">−40</text>
<text x="317.8" y="158.5" font-size="12" letter-spacing="0.3" stroke="#000" stroke-width="0.2" text-anchor="start">−50</text>
<path d="M309.7 71.8h2.6M309.7 92.5h2.6M309.7 113.2h2.6M309.7 134h2.6M309.7 154.7h2.6" stroke="#222" stroke-width="0.8" fill="none"/>
</svg>
</body></html>
